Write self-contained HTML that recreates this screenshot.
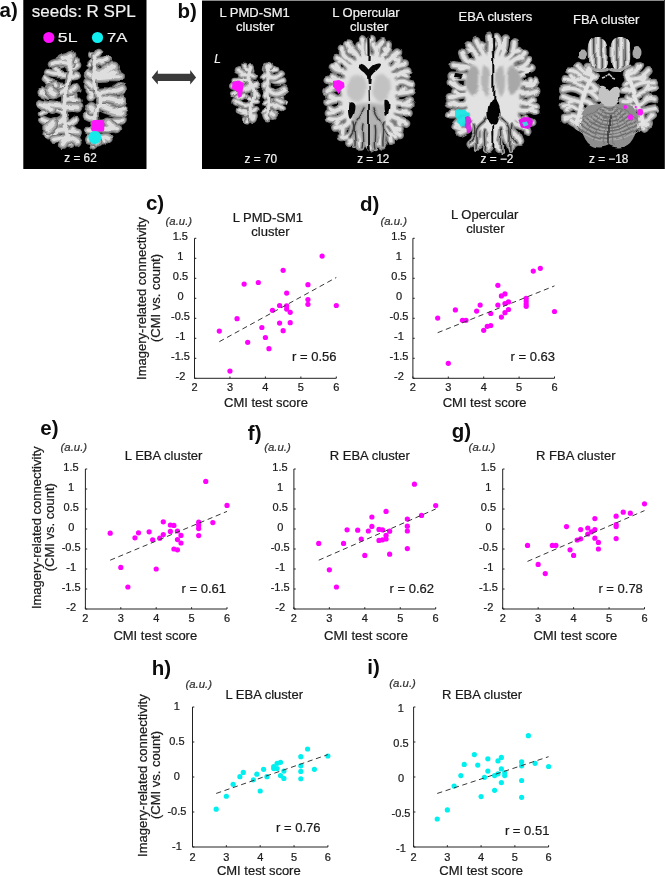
<!DOCTYPE html>
<html><head><meta charset="utf-8"><style>
html,body{margin:0;padding:0;background:#fff;}
body{width:665px;height:876px;overflow:hidden;}
svg{display:block;will-change:transform;}
text{font-family:"Liberation Sans",sans-serif;}
</style></head><body>
<svg width="665" height="876" viewBox="0 0 665 876">
<rect width="665" height="876" fill="#fff"/>
<defs>
<filter id="soft" x="-5%" y="-5%" width="110%" height="110%"><feGaussianBlur stdDeviation="0.6"/></filter>
<filter id="soft2" x="-10%" y="-10%" width="120%" height="120%"><feGaussianBlur stdDeviation="1.0"/></filter>
<filter id="soft3" x="-20%" y="-20%" width="140%" height="140%"><feGaussianBlur stdDeviation="1.8"/></filter>
<filter id="warp" x="-10%" y="-10%" width="120%" height="120%" color-interpolation-filters="sRGB">
 <feTurbulence type="fractalNoise" baseFrequency="0.045" numOctaves="1" seed="4" result="n"/>
 <feDisplacementMap in="SourceGraphic" in2="n" scale="11" xChannelSelector="R" yChannelSelector="G" result="d"/>
 <feGaussianBlur in="d" stdDeviation="0.7"/>
</filter>
<filter id="warp2" x="-10%" y="-10%" width="120%" height="120%" color-interpolation-filters="sRGB">
 <feTurbulence type="fractalNoise" baseFrequency="0.055" numOctaves="1" seed="9" result="n"/>
 <feDisplacementMap in="SourceGraphic" in2="n" scale="7" xChannelSelector="R" yChannelSelector="G" result="d"/>
 <feGaussianBlur in="d" stdDeviation="0.6"/>
</filter>
</defs>
<rect x="23.3" y="0" width="123.2" height="169" fill="#000"/>
<g filter="url(#warp)"><path d="M70.0,58.0 C69.8,60.3 69.7,67.3 69.0,72.0 C68.3,76.7 66.3,81.3 66.0,86.0 C65.7,90.7 67.3,95.3 67.0,100.0 C66.7,104.7 64.2,109.3 64.0,114.0 C63.8,118.7 65.3,123.5 66.0,128.0 C66.7,132.5 67.7,138.8 68.0,141.0" fill="none" stroke="#787878" stroke-width="7.6" stroke-linecap="round"/><path d="M67.0,100.0 C67.8,99.8 70.2,98.7 71.9,99.1 C73.5,99.4 76.1,101.5 76.9,102.0 M71.9,99.1 C72.1,99.0 72.7,98.7 73.0,98.4 C73.4,98.1 73.8,97.4 73.9,97.2 M65.2,122.5 C65.9,122.7 68.1,124.0 69.4,123.7 C70.7,123.5 71.8,122.2 73.0,121.3 C74.2,120.5 76.0,119.0 76.6,118.6 M64.0,114.0 C63.4,113.7 61.5,112.8 60.2,112.3 C58.9,111.8 57.7,111.5 56.4,111.2 C55.1,111.0 53.8,110.9 52.5,110.9 C51.2,110.9 49.9,111.0 48.5,111.3 C47.2,111.6 45.9,112.0 44.5,112.5 C43.2,113.0 41.1,113.8 40.5,114.1 M54.7,105.4 C53.8,105.9 51.0,107.5 49.5,108.2 C47.9,108.9 46.0,109.4 45.3,109.6 M66.0,85.9 C65.4,85.9 63.4,86.2 62.1,86.3 C60.8,86.3 59.6,86.3 58.3,86.1 C57.1,86.0 55.8,85.8 54.6,85.5 C53.4,85.2 52.2,84.7 51.1,84.2 C49.9,83.6 48.8,82.9 47.7,82.2 C46.6,81.4 44.9,80.1 44.4,79.7 M68.2,75.7 C67.5,75.7 65.4,75.6 64.0,75.6 C62.6,75.6 61.2,75.7 59.8,75.6 C58.4,75.6 57.0,75.6 55.6,75.5 C54.3,75.4 52.9,75.2 51.5,74.9 C50.2,74.6 48.3,73.8 47.6,73.6 M59.8,75.6 C59.5,75.1 58.5,73.3 57.9,72.4 C57.3,71.6 56.7,70.8 56.5,70.5 M65.8,62.2 C65.4,62.6 64.1,64.0 63.4,64.6 C62.7,65.2 61.9,65.5 61.5,65.7 M72.6,67.5 C72.8,67.3 73.5,66.8 73.9,66.6 C74.2,66.5 74.6,66.4 74.8,66.4 M66.3,89.9 C67.2,90.2 69.9,91.8 71.7,92.0 C73.4,92.2 76.0,91.0 76.9,90.8" fill="none" stroke="#787878" stroke-width="7.31" stroke-linecap="round" stroke-linejoin="round"/>
<path d="M67.0,100.0 C67.8,99.8 70.2,98.7 71.9,99.1 C73.5,99.4 76.1,101.5 76.9,102.0 M71.9,99.1 C72.1,99.0 72.7,98.7 73.0,98.4 C73.4,98.1 73.8,97.4 73.9,97.2 M65.2,122.5 C65.9,122.7 68.1,124.0 69.4,123.7 C70.7,123.5 71.8,122.2 73.0,121.3 C74.2,120.5 76.0,119.0 76.6,118.6 M64.0,114.0 C63.4,113.7 61.5,112.8 60.2,112.3 C58.9,111.8 57.7,111.5 56.4,111.2 C55.1,111.0 53.8,110.9 52.5,110.9 C51.2,110.9 49.9,111.0 48.5,111.3 C47.2,111.6 45.9,112.0 44.5,112.5 C43.2,113.0 41.1,113.8 40.5,114.1 M54.7,105.4 C53.8,105.9 51.0,107.5 49.5,108.2 C47.9,108.9 46.0,109.4 45.3,109.6 M66.0,85.9 C65.4,85.9 63.4,86.2 62.1,86.3 C60.8,86.3 59.6,86.3 58.3,86.1 C57.1,86.0 55.8,85.8 54.6,85.5 C53.4,85.2 52.2,84.7 51.1,84.2 C49.9,83.6 48.8,82.9 47.7,82.2 C46.6,81.4 44.9,80.1 44.4,79.7 M68.2,75.7 C67.5,75.7 65.4,75.6 64.0,75.6 C62.6,75.6 61.2,75.7 59.8,75.6 C58.4,75.6 57.0,75.6 55.6,75.5 C54.3,75.4 52.9,75.2 51.5,74.9 C50.2,74.6 48.3,73.8 47.6,73.6 M59.8,75.6 C59.5,75.1 58.5,73.3 57.9,72.4 C57.3,71.6 56.7,70.8 56.5,70.5 M65.8,62.2 C65.4,62.6 64.1,64.0 63.4,64.6 C62.7,65.2 61.9,65.5 61.5,65.7 M72.6,67.5 C72.8,67.3 73.5,66.8 73.9,66.6 C74.2,66.5 74.6,66.4 74.8,66.4 M66.3,89.9 C67.2,90.2 69.9,91.8 71.7,92.0 C73.4,92.2 76.0,91.0 76.9,90.8" fill="none" stroke="#ababab" stroke-width="5.263199999999999" stroke-linecap="round" stroke-linejoin="round"/>
<path d="M67.0,100.0 C67.8,99.8 70.2,98.7 71.9,99.1 C73.5,99.4 76.1,101.5 76.9,102.0 M71.9,99.1 C72.1,99.0 72.7,98.7 73.0,98.4 C73.4,98.1 73.8,97.4 73.9,97.2 M65.2,122.5 C65.9,122.7 68.1,124.0 69.4,123.7 C70.7,123.5 71.8,122.2 73.0,121.3 C74.2,120.5 76.0,119.0 76.6,118.6 M64.0,114.0 C63.4,113.7 61.5,112.8 60.2,112.3 C58.9,111.8 57.7,111.5 56.4,111.2 C55.1,111.0 53.8,110.9 52.5,110.9 C51.2,110.9 49.9,111.0 48.5,111.3 C47.2,111.6 45.9,112.0 44.5,112.5 C43.2,113.0 41.1,113.8 40.5,114.1 M54.7,105.4 C53.8,105.9 51.0,107.5 49.5,108.2 C47.9,108.9 46.0,109.4 45.3,109.6 M66.0,85.9 C65.4,85.9 63.4,86.2 62.1,86.3 C60.8,86.3 59.6,86.3 58.3,86.1 C57.1,86.0 55.8,85.8 54.6,85.5 C53.4,85.2 52.2,84.7 51.1,84.2 C49.9,83.6 48.8,82.9 47.7,82.2 C46.6,81.4 44.9,80.1 44.4,79.7 M68.2,75.7 C67.5,75.7 65.4,75.6 64.0,75.6 C62.6,75.6 61.2,75.7 59.8,75.6 C58.4,75.6 57.0,75.6 55.6,75.5 C54.3,75.4 52.9,75.2 51.5,74.9 C50.2,74.6 48.3,73.8 47.6,73.6 M59.8,75.6 C59.5,75.1 58.5,73.3 57.9,72.4 C57.3,71.6 56.7,70.8 56.5,70.5 M65.8,62.2 C65.4,62.6 64.1,64.0 63.4,64.6 C62.7,65.2 61.9,65.5 61.5,65.7 M72.6,67.5 C72.8,67.3 73.5,66.8 73.9,66.6 C74.2,66.5 74.6,66.4 74.8,66.4 M66.3,89.9 C67.2,90.2 69.9,91.8 71.7,92.0 C73.4,92.2 76.0,91.0 76.9,90.8" fill="none" stroke="#dedede" stroke-width="2.8899999999999997" stroke-linecap="round" stroke-linejoin="round"/><path d="M66.8,133.0 C67.6,132.7 69.9,131.5 71.6,131.3 C73.2,131.1 75.8,131.5 76.7,131.6 M71.6,131.3 C71.7,131.1 72.1,130.8 72.4,130.4 C72.6,130.1 72.9,129.3 73.0,129.1 M71.8,139.3 C72.1,139.3 72.8,139.3 73.1,139.0 C73.5,138.7 74.0,137.9 74.2,137.6 M68.0,141.0 C67.8,141.4 66.6,143.0 66.9,143.7 C67.1,144.3 69.0,144.7 69.5,144.9 M66.1,128.6 C65.4,128.7 63.4,128.7 62.1,128.8 C60.7,129.0 59.4,129.0 58.1,129.3 C56.8,129.6 55.5,130.0 54.2,130.5 C53.0,131.0 51.7,131.8 50.5,132.4 C49.2,133.0 47.3,133.8 46.7,134.1 M58.1,129.3 C57.6,129.6 56.2,130.3 55.4,130.9 C54.6,131.6 53.5,132.8 53.1,133.1 M64.7,118.8 C64.1,119.3 62.4,120.9 61.3,121.6 C60.1,122.4 58.9,122.9 57.7,123.3 C56.5,123.8 55.3,124.1 54.0,124.2 C52.8,124.4 51.5,124.4 50.2,124.2 C48.9,124.1 47.6,123.7 46.3,123.3 C45.0,122.8 42.9,121.8 42.2,121.5 M66.2,89.0 C65.7,89.4 64.0,90.8 62.9,91.5 C61.7,92.2 60.6,92.8 59.5,93.3 C58.3,93.7 57.2,94.1 56.0,94.4 C54.9,94.6 53.7,94.8 52.5,94.8 C51.4,94.7 50.2,94.6 49.0,94.2 C47.8,93.9 46.6,93.4 45.3,92.8 C44.1,92.2 42.3,90.9 41.7,90.5 M54.6,85.5 C54.1,85.8 52.6,86.5 51.7,87.1 C50.8,87.6 49.6,88.5 49.2,88.7 M70.0,58.0 C69.3,57.7 67.5,56.3 66.0,56.2 C64.6,56.1 62.2,57.1 61.4,57.2 M70.0,58.0 C70.4,58.0 71.5,57.6 72.3,58.0 C73.0,58.3 74.3,59.8 74.7,60.2 M69.3,67.3 C69.9,67.3 71.5,67.8 72.6,67.5 C73.7,67.1 75.5,65.5 76.1,65.2 M68.1,76.2 C68.8,76.4 70.8,77.3 72.3,77.3 C73.7,77.4 76.1,76.5 76.9,76.4 M72.3,77.3 C72.5,77.2 73.4,76.7 73.8,76.4 C74.3,76.0 74.9,75.4 75.1,75.2" fill="none" stroke="#787878" stroke-width="8.6" stroke-linecap="round" stroke-linejoin="round"/>
<path d="M66.8,133.0 C67.6,132.7 69.9,131.5 71.6,131.3 C73.2,131.1 75.8,131.5 76.7,131.6 M71.6,131.3 C71.7,131.1 72.1,130.8 72.4,130.4 C72.6,130.1 72.9,129.3 73.0,129.1 M71.8,139.3 C72.1,139.3 72.8,139.3 73.1,139.0 C73.5,138.7 74.0,137.9 74.2,137.6 M68.0,141.0 C67.8,141.4 66.6,143.0 66.9,143.7 C67.1,144.3 69.0,144.7 69.5,144.9 M66.1,128.6 C65.4,128.7 63.4,128.7 62.1,128.8 C60.7,129.0 59.4,129.0 58.1,129.3 C56.8,129.6 55.5,130.0 54.2,130.5 C53.0,131.0 51.7,131.8 50.5,132.4 C49.2,133.0 47.3,133.8 46.7,134.1 M58.1,129.3 C57.6,129.6 56.2,130.3 55.4,130.9 C54.6,131.6 53.5,132.8 53.1,133.1 M64.7,118.8 C64.1,119.3 62.4,120.9 61.3,121.6 C60.1,122.4 58.9,122.9 57.7,123.3 C56.5,123.8 55.3,124.1 54.0,124.2 C52.8,124.4 51.5,124.4 50.2,124.2 C48.9,124.1 47.6,123.7 46.3,123.3 C45.0,122.8 42.9,121.8 42.2,121.5 M66.2,89.0 C65.7,89.4 64.0,90.8 62.9,91.5 C61.7,92.2 60.6,92.8 59.5,93.3 C58.3,93.7 57.2,94.1 56.0,94.4 C54.9,94.6 53.7,94.8 52.5,94.8 C51.4,94.7 50.2,94.6 49.0,94.2 C47.8,93.9 46.6,93.4 45.3,92.8 C44.1,92.2 42.3,90.9 41.7,90.5 M54.6,85.5 C54.1,85.8 52.6,86.5 51.7,87.1 C50.8,87.6 49.6,88.5 49.2,88.7 M70.0,58.0 C69.3,57.7 67.5,56.3 66.0,56.2 C64.6,56.1 62.2,57.1 61.4,57.2 M70.0,58.0 C70.4,58.0 71.5,57.6 72.3,58.0 C73.0,58.3 74.3,59.8 74.7,60.2 M69.3,67.3 C69.9,67.3 71.5,67.8 72.6,67.5 C73.7,67.1 75.5,65.5 76.1,65.2 M68.1,76.2 C68.8,76.4 70.8,77.3 72.3,77.3 C73.7,77.4 76.1,76.5 76.9,76.4 M72.3,77.3 C72.5,77.2 73.4,76.7 73.8,76.4 C74.3,76.0 74.9,75.4 75.1,75.2" fill="none" stroke="#ababab" stroke-width="6.191999999999999" stroke-linecap="round" stroke-linejoin="round"/>
<path d="M66.8,133.0 C67.6,132.7 69.9,131.5 71.6,131.3 C73.2,131.1 75.8,131.5 76.7,131.6 M71.6,131.3 C71.7,131.1 72.1,130.8 72.4,130.4 C72.6,130.1 72.9,129.3 73.0,129.1 M71.8,139.3 C72.1,139.3 72.8,139.3 73.1,139.0 C73.5,138.7 74.0,137.9 74.2,137.6 M68.0,141.0 C67.8,141.4 66.6,143.0 66.9,143.7 C67.1,144.3 69.0,144.7 69.5,144.9 M66.1,128.6 C65.4,128.7 63.4,128.7 62.1,128.8 C60.7,129.0 59.4,129.0 58.1,129.3 C56.8,129.6 55.5,130.0 54.2,130.5 C53.0,131.0 51.7,131.8 50.5,132.4 C49.2,133.0 47.3,133.8 46.7,134.1 M58.1,129.3 C57.6,129.6 56.2,130.3 55.4,130.9 C54.6,131.6 53.5,132.8 53.1,133.1 M64.7,118.8 C64.1,119.3 62.4,120.9 61.3,121.6 C60.1,122.4 58.9,122.9 57.7,123.3 C56.5,123.8 55.3,124.1 54.0,124.2 C52.8,124.4 51.5,124.4 50.2,124.2 C48.9,124.1 47.6,123.7 46.3,123.3 C45.0,122.8 42.9,121.8 42.2,121.5 M66.2,89.0 C65.7,89.4 64.0,90.8 62.9,91.5 C61.7,92.2 60.6,92.8 59.5,93.3 C58.3,93.7 57.2,94.1 56.0,94.4 C54.9,94.6 53.7,94.8 52.5,94.8 C51.4,94.7 50.2,94.6 49.0,94.2 C47.8,93.9 46.6,93.4 45.3,92.8 C44.1,92.2 42.3,90.9 41.7,90.5 M54.6,85.5 C54.1,85.8 52.6,86.5 51.7,87.1 C50.8,87.6 49.6,88.5 49.2,88.7 M70.0,58.0 C69.3,57.7 67.5,56.3 66.0,56.2 C64.6,56.1 62.2,57.1 61.4,57.2 M70.0,58.0 C70.4,58.0 71.5,57.6 72.3,58.0 C73.0,58.3 74.3,59.8 74.7,60.2 M69.3,67.3 C69.9,67.3 71.5,67.8 72.6,67.5 C73.7,67.1 75.5,65.5 76.1,65.2 M68.1,76.2 C68.8,76.4 70.8,77.3 72.3,77.3 C73.7,77.4 76.1,76.5 76.9,76.4 M72.3,77.3 C72.5,77.2 73.4,76.7 73.8,76.4 C74.3,76.0 74.9,75.4 75.1,75.2" fill="none" stroke="#dedede" stroke-width="3.4" stroke-linecap="round" stroke-linejoin="round"/><path d="M65.5,107.1 C66.1,107.1 68.1,107.1 69.5,107.1 C70.8,107.1 72.2,106.8 73.5,106.9 C74.8,106.9 76.7,107.3 77.4,107.4 M68.0,141.0 C68.6,140.7 70.6,139.2 71.8,139.3 C73.1,139.4 74.9,141.1 75.5,141.5 M68.0,141.0 C67.5,141.3 65.9,142.0 65.1,142.8 C64.2,143.6 63.3,145.4 62.9,146.0 M65.1,142.8 C64.9,142.8 64.1,143.0 63.8,142.9 C63.4,142.7 63.2,142.1 63.0,141.9 M67.5,137.5 C66.9,137.7 65.2,138.6 64.0,138.8 C62.8,139.0 61.5,138.7 60.2,138.6 C59.0,138.5 57.7,138.2 56.5,138.3 C55.3,138.4 53.5,138.8 52.9,138.9 M54.0,124.2 C53.5,124.8 51.8,126.6 50.8,127.4 C49.8,128.3 48.7,129.0 48.3,129.3 M52.5,110.9 C51.7,110.2 49.1,108.0 47.6,107.1 C46.2,106.1 44.4,105.3 43.7,105.0 M65.5,107.2 C64.9,107.1 63.1,106.8 61.9,106.5 C60.7,106.3 59.5,106.1 58.3,105.9 C57.1,105.7 55.9,105.6 54.7,105.4 C53.5,105.3 52.3,105.1 51.1,105.0 C49.8,104.8 48.6,104.7 47.4,104.5 C46.2,104.3 45.0,104.1 43.8,103.9 C42.6,103.7 40.9,103.3 40.3,103.2 M56.0,94.4 C55.5,94.1 54.0,93.2 53.1,92.5 C52.2,91.8 51.1,90.6 50.7,90.2 M69.6,63.5 C69.0,63.2 67.1,62.4 65.8,62.2 C64.4,62.0 63.1,62.1 61.8,62.3 C60.5,62.5 59.1,63.0 57.8,63.4 C56.4,63.8 54.4,64.6 53.7,64.8 M66.0,56.2 C65.8,56.3 65.2,56.4 64.8,56.5 C64.5,56.6 64.1,56.8 63.9,56.9 M70.0,58.0 C69.6,57.7 67.7,56.9 67.9,56.3 C68.1,55.7 70.8,54.5 71.3,54.2 M71.7,92.0 C72.0,91.8 72.8,91.1 73.3,90.7 C73.8,90.3 74.4,89.6 74.6,89.4" fill="none" stroke="#787878" stroke-width="10.148" stroke-linecap="round" stroke-linejoin="round"/>
<path d="M65.5,107.1 C66.1,107.1 68.1,107.1 69.5,107.1 C70.8,107.1 72.2,106.8 73.5,106.9 C74.8,106.9 76.7,107.3 77.4,107.4 M68.0,141.0 C68.6,140.7 70.6,139.2 71.8,139.3 C73.1,139.4 74.9,141.1 75.5,141.5 M68.0,141.0 C67.5,141.3 65.9,142.0 65.1,142.8 C64.2,143.6 63.3,145.4 62.9,146.0 M65.1,142.8 C64.9,142.8 64.1,143.0 63.8,142.9 C63.4,142.7 63.2,142.1 63.0,141.9 M67.5,137.5 C66.9,137.7 65.2,138.6 64.0,138.8 C62.8,139.0 61.5,138.7 60.2,138.6 C59.0,138.5 57.7,138.2 56.5,138.3 C55.3,138.4 53.5,138.8 52.9,138.9 M54.0,124.2 C53.5,124.8 51.8,126.6 50.8,127.4 C49.8,128.3 48.7,129.0 48.3,129.3 M52.5,110.9 C51.7,110.2 49.1,108.0 47.6,107.1 C46.2,106.1 44.4,105.3 43.7,105.0 M65.5,107.2 C64.9,107.1 63.1,106.8 61.9,106.5 C60.7,106.3 59.5,106.1 58.3,105.9 C57.1,105.7 55.9,105.6 54.7,105.4 C53.5,105.3 52.3,105.1 51.1,105.0 C49.8,104.8 48.6,104.7 47.4,104.5 C46.2,104.3 45.0,104.1 43.8,103.9 C42.6,103.7 40.9,103.3 40.3,103.2 M56.0,94.4 C55.5,94.1 54.0,93.2 53.1,92.5 C52.2,91.8 51.1,90.6 50.7,90.2 M69.6,63.5 C69.0,63.2 67.1,62.4 65.8,62.2 C64.4,62.0 63.1,62.1 61.8,62.3 C60.5,62.5 59.1,63.0 57.8,63.4 C56.4,63.8 54.4,64.6 53.7,64.8 M66.0,56.2 C65.8,56.3 65.2,56.4 64.8,56.5 C64.5,56.6 64.1,56.8 63.9,56.9 M70.0,58.0 C69.6,57.7 67.7,56.9 67.9,56.3 C68.1,55.7 70.8,54.5 71.3,54.2 M71.7,92.0 C72.0,91.8 72.8,91.1 73.3,90.7 C73.8,90.3 74.4,89.6 74.6,89.4" fill="none" stroke="#ababab" stroke-width="7.306559999999998" stroke-linecap="round" stroke-linejoin="round"/>
<path d="M65.5,107.1 C66.1,107.1 68.1,107.1 69.5,107.1 C70.8,107.1 72.2,106.8 73.5,106.9 C74.8,106.9 76.7,107.3 77.4,107.4 M68.0,141.0 C68.6,140.7 70.6,139.2 71.8,139.3 C73.1,139.4 74.9,141.1 75.5,141.5 M68.0,141.0 C67.5,141.3 65.9,142.0 65.1,142.8 C64.2,143.6 63.3,145.4 62.9,146.0 M65.1,142.8 C64.9,142.8 64.1,143.0 63.8,142.9 C63.4,142.7 63.2,142.1 63.0,141.9 M67.5,137.5 C66.9,137.7 65.2,138.6 64.0,138.8 C62.8,139.0 61.5,138.7 60.2,138.6 C59.0,138.5 57.7,138.2 56.5,138.3 C55.3,138.4 53.5,138.8 52.9,138.9 M54.0,124.2 C53.5,124.8 51.8,126.6 50.8,127.4 C49.8,128.3 48.7,129.0 48.3,129.3 M52.5,110.9 C51.7,110.2 49.1,108.0 47.6,107.1 C46.2,106.1 44.4,105.3 43.7,105.0 M65.5,107.2 C64.9,107.1 63.1,106.8 61.9,106.5 C60.7,106.3 59.5,106.1 58.3,105.9 C57.1,105.7 55.9,105.6 54.7,105.4 C53.5,105.3 52.3,105.1 51.1,105.0 C49.8,104.8 48.6,104.7 47.4,104.5 C46.2,104.3 45.0,104.1 43.8,103.9 C42.6,103.7 40.9,103.3 40.3,103.2 M56.0,94.4 C55.5,94.1 54.0,93.2 53.1,92.5 C52.2,91.8 51.1,90.6 50.7,90.2 M69.6,63.5 C69.0,63.2 67.1,62.4 65.8,62.2 C64.4,62.0 63.1,62.1 61.8,62.3 C60.5,62.5 59.1,63.0 57.8,63.4 C56.4,63.8 54.4,64.6 53.7,64.8 M66.0,56.2 C65.8,56.3 65.2,56.4 64.8,56.5 C64.5,56.6 64.1,56.8 63.9,56.9 M70.0,58.0 C69.6,57.7 67.7,56.9 67.9,56.3 C68.1,55.7 70.8,54.5 71.3,54.2 M71.7,92.0 C72.0,91.8 72.8,91.1 73.3,90.7 C73.8,90.3 74.4,89.6 74.6,89.4" fill="none" stroke="#dedede" stroke-width="4.012" stroke-linecap="round" stroke-linejoin="round"/><path d="M70.0,58.0 C69.8,60.3 69.7,67.3 69.0,72.0 C68.3,76.7 66.3,81.3 66.0,86.0 C65.7,90.7 67.3,95.3 67.0,100.0 C66.7,104.7 64.2,109.3 64.0,114.0 C63.8,118.7 65.3,123.5 66.0,128.0 C66.7,132.5 67.7,138.8 68.0,141.0" fill="none" stroke="#dedede" stroke-width="3.6" stroke-linecap="round"/>
<path d="M93.0,56.0 C93.7,58.5 96.5,66.2 97.0,71.0 C97.5,75.8 95.7,80.2 96.0,85.0 C96.3,89.8 99.0,95.2 99.0,100.0 C99.0,104.8 96.3,109.3 96.0,114.0 C95.7,118.7 97.3,123.5 97.0,128.0 C96.7,132.5 94.5,138.8 94.0,141.0" fill="none" stroke="#787878" stroke-width="7.6" stroke-linecap="round"/><path d="M97.1,108.7 C96.3,108.8 93.7,109.9 92.2,109.7 C90.7,109.5 88.7,107.8 88.0,107.4 M96.8,74.1 C96.1,74.2 94.0,74.5 92.6,74.8 C91.2,75.1 89.2,75.6 88.5,75.8 M94.2,60.6 C93.8,60.6 92.4,60.5 91.7,61.1 C91.0,61.8 90.3,63.9 90.0,64.4 M93.0,56.0 C92.8,55.8 92.6,55.0 92.0,54.8 C91.4,54.6 90.0,54.7 89.6,54.7 M101.6,72.8 C102.2,73.0 104.1,73.8 105.2,74.3 C106.3,74.7 107.6,75.2 108.1,75.4" fill="none" stroke="#787878" stroke-width="7.31" stroke-linecap="round" stroke-linejoin="round"/>
<path d="M97.1,108.7 C96.3,108.8 93.7,109.9 92.2,109.7 C90.7,109.5 88.7,107.8 88.0,107.4 M96.8,74.1 C96.1,74.2 94.0,74.5 92.6,74.8 C91.2,75.1 89.2,75.6 88.5,75.8 M94.2,60.6 C93.8,60.6 92.4,60.5 91.7,61.1 C91.0,61.8 90.3,63.9 90.0,64.4 M93.0,56.0 C92.8,55.8 92.6,55.0 92.0,54.8 C91.4,54.6 90.0,54.7 89.6,54.7 M101.6,72.8 C102.2,73.0 104.1,73.8 105.2,74.3 C106.3,74.7 107.6,75.2 108.1,75.4" fill="none" stroke="#ababab" stroke-width="5.263199999999999" stroke-linecap="round" stroke-linejoin="round"/>
<path d="M97.1,108.7 C96.3,108.8 93.7,109.9 92.2,109.7 C90.7,109.5 88.7,107.8 88.0,107.4 M96.8,74.1 C96.1,74.2 94.0,74.5 92.6,74.8 C91.2,75.1 89.2,75.6 88.5,75.8 M94.2,60.6 C93.8,60.6 92.4,60.5 91.7,61.1 C91.0,61.8 90.3,63.9 90.0,64.4 M93.0,56.0 C92.8,55.8 92.6,55.0 92.0,54.8 C91.4,54.6 90.0,54.7 89.6,54.7 M101.6,72.8 C102.2,73.0 104.1,73.8 105.2,74.3 C106.3,74.7 107.6,75.2 108.1,75.4" fill="none" stroke="#dedede" stroke-width="2.8899999999999997" stroke-linecap="round" stroke-linejoin="round"/><path d="M98.1,104.4 C98.7,104.7 100.6,105.6 101.9,106.2 C103.1,106.8 104.4,107.4 105.6,108.0 C106.9,108.6 108.2,109.1 109.5,109.6 C110.7,110.1 112.0,110.6 113.4,110.9 C114.7,111.3 116.0,111.6 117.3,111.8 C118.7,112.0 120.8,112.0 121.5,112.1 M113.4,110.9 C114.3,110.6 117.2,109.3 118.8,108.7 C120.5,108.2 122.6,107.7 123.3,107.5 M96.6,122.7 C97.3,122.6 99.3,122.2 100.6,122.0 C101.9,121.8 103.2,121.6 104.6,121.4 C105.9,121.1 107.2,120.9 108.5,120.6 C109.8,120.4 111.2,120.2 112.5,120.0 C113.8,119.8 115.1,119.7 116.5,119.6 C117.8,119.5 119.8,119.4 120.5,119.4 M95.2,135.8 C95.8,136.1 97.4,137.6 98.7,137.9 C99.9,138.2 101.4,137.8 102.7,137.6 C104.1,137.5 105.5,136.9 106.8,137.1 C108.1,137.3 109.8,138.5 110.4,138.8 M102.7,137.6 C103.0,137.9 104.0,138.6 104.5,139.2 C105.0,139.8 105.6,140.9 105.8,141.3 M94.0,141.0 C94.7,141.0 97.1,140.5 98.4,140.8 C99.7,141.2 101.1,142.7 101.7,143.0 M94.0,141.0 C94.2,141.4 95.0,142.7 95.2,143.4 C95.3,144.2 94.8,145.1 94.7,145.4 M96.4,130.6 C95.7,130.6 93.4,130.9 92.0,130.8 C90.6,130.7 88.6,130.1 87.9,130.0 M96.2,116.5 C95.5,116.5 93.5,117.1 92.1,116.8 C90.8,116.5 88.7,115.0 88.0,114.7 M97.6,93.0 C96.7,92.8 94.0,91.4 92.5,92.1 C91.0,92.8 89.3,96.4 88.7,97.3 M92.5,92.1 C92.2,91.9 91.0,91.4 90.3,91.1 C89.7,90.8 89.0,90.4 88.7,90.3 M96.0,85.0 C95.4,85.1 93.4,85.0 92.1,85.4 C90.8,85.7 88.8,86.8 88.1,87.1 M93.0,56.0 C93.4,55.6 94.4,54.6 95.1,53.8 C95.8,52.9 96.7,51.5 97.0,51.1 M94.7,62.5 C95.4,62.2 97.3,61.2 98.7,60.9 C100.1,60.6 101.6,61.0 103.0,60.6 C104.3,60.3 106.2,59.0 106.8,58.6 M98.7,60.9 C99.1,61.1 100.4,61.6 101.1,61.9 C101.9,62.1 102.9,62.5 103.3,62.7 M113.2,91.8 C113.8,91.2 115.8,89.4 116.8,88.4 C117.9,87.5 119.3,86.6 119.8,86.2" fill="none" stroke="#787878" stroke-width="8.6" stroke-linecap="round" stroke-linejoin="round"/>
<path d="M98.1,104.4 C98.7,104.7 100.6,105.6 101.9,106.2 C103.1,106.8 104.4,107.4 105.6,108.0 C106.9,108.6 108.2,109.1 109.5,109.6 C110.7,110.1 112.0,110.6 113.4,110.9 C114.7,111.3 116.0,111.6 117.3,111.8 C118.7,112.0 120.8,112.0 121.5,112.1 M113.4,110.9 C114.3,110.6 117.2,109.3 118.8,108.7 C120.5,108.2 122.6,107.7 123.3,107.5 M96.6,122.7 C97.3,122.6 99.3,122.2 100.6,122.0 C101.9,121.8 103.2,121.6 104.6,121.4 C105.9,121.1 107.2,120.9 108.5,120.6 C109.8,120.4 111.2,120.2 112.5,120.0 C113.8,119.8 115.1,119.7 116.5,119.6 C117.8,119.5 119.8,119.4 120.5,119.4 M95.2,135.8 C95.8,136.1 97.4,137.6 98.7,137.9 C99.9,138.2 101.4,137.8 102.7,137.6 C104.1,137.5 105.5,136.9 106.8,137.1 C108.1,137.3 109.8,138.5 110.4,138.8 M102.7,137.6 C103.0,137.9 104.0,138.6 104.5,139.2 C105.0,139.8 105.6,140.9 105.8,141.3 M94.0,141.0 C94.7,141.0 97.1,140.5 98.4,140.8 C99.7,141.2 101.1,142.7 101.7,143.0 M94.0,141.0 C94.2,141.4 95.0,142.7 95.2,143.4 C95.3,144.2 94.8,145.1 94.7,145.4 M96.4,130.6 C95.7,130.6 93.4,130.9 92.0,130.8 C90.6,130.7 88.6,130.1 87.9,130.0 M96.2,116.5 C95.5,116.5 93.5,117.1 92.1,116.8 C90.8,116.5 88.7,115.0 88.0,114.7 M97.6,93.0 C96.7,92.8 94.0,91.4 92.5,92.1 C91.0,92.8 89.3,96.4 88.7,97.3 M92.5,92.1 C92.2,91.9 91.0,91.4 90.3,91.1 C89.7,90.8 89.0,90.4 88.7,90.3 M96.0,85.0 C95.4,85.1 93.4,85.0 92.1,85.4 C90.8,85.7 88.8,86.8 88.1,87.1 M93.0,56.0 C93.4,55.6 94.4,54.6 95.1,53.8 C95.8,52.9 96.7,51.5 97.0,51.1 M94.7,62.5 C95.4,62.2 97.3,61.2 98.7,60.9 C100.1,60.6 101.6,61.0 103.0,60.6 C104.3,60.3 106.2,59.0 106.8,58.6 M98.7,60.9 C99.1,61.1 100.4,61.6 101.1,61.9 C101.9,62.1 102.9,62.5 103.3,62.7 M113.2,91.8 C113.8,91.2 115.8,89.4 116.8,88.4 C117.9,87.5 119.3,86.6 119.8,86.2" fill="none" stroke="#ababab" stroke-width="6.191999999999999" stroke-linecap="round" stroke-linejoin="round"/>
<path d="M98.1,104.4 C98.7,104.7 100.6,105.6 101.9,106.2 C103.1,106.8 104.4,107.4 105.6,108.0 C106.9,108.6 108.2,109.1 109.5,109.6 C110.7,110.1 112.0,110.6 113.4,110.9 C114.7,111.3 116.0,111.6 117.3,111.8 C118.7,112.0 120.8,112.0 121.5,112.1 M113.4,110.9 C114.3,110.6 117.2,109.3 118.8,108.7 C120.5,108.2 122.6,107.7 123.3,107.5 M96.6,122.7 C97.3,122.6 99.3,122.2 100.6,122.0 C101.9,121.8 103.2,121.6 104.6,121.4 C105.9,121.1 107.2,120.9 108.5,120.6 C109.8,120.4 111.2,120.2 112.5,120.0 C113.8,119.8 115.1,119.7 116.5,119.6 C117.8,119.5 119.8,119.4 120.5,119.4 M95.2,135.8 C95.8,136.1 97.4,137.6 98.7,137.9 C99.9,138.2 101.4,137.8 102.7,137.6 C104.1,137.5 105.5,136.9 106.8,137.1 C108.1,137.3 109.8,138.5 110.4,138.8 M102.7,137.6 C103.0,137.9 104.0,138.6 104.5,139.2 C105.0,139.8 105.6,140.9 105.8,141.3 M94.0,141.0 C94.7,141.0 97.1,140.5 98.4,140.8 C99.7,141.2 101.1,142.7 101.7,143.0 M94.0,141.0 C94.2,141.4 95.0,142.7 95.2,143.4 C95.3,144.2 94.8,145.1 94.7,145.4 M96.4,130.6 C95.7,130.6 93.4,130.9 92.0,130.8 C90.6,130.7 88.6,130.1 87.9,130.0 M96.2,116.5 C95.5,116.5 93.5,117.1 92.1,116.8 C90.8,116.5 88.7,115.0 88.0,114.7 M97.6,93.0 C96.7,92.8 94.0,91.4 92.5,92.1 C91.0,92.8 89.3,96.4 88.7,97.3 M92.5,92.1 C92.2,91.9 91.0,91.4 90.3,91.1 C89.7,90.8 89.0,90.4 88.7,90.3 M96.0,85.0 C95.4,85.1 93.4,85.0 92.1,85.4 C90.8,85.7 88.8,86.8 88.1,87.1 M93.0,56.0 C93.4,55.6 94.4,54.6 95.1,53.8 C95.8,52.9 96.7,51.5 97.0,51.1 M94.7,62.5 C95.4,62.2 97.3,61.2 98.7,60.9 C100.1,60.6 101.6,61.0 103.0,60.6 C104.3,60.3 106.2,59.0 106.8,58.6 M98.7,60.9 C99.1,61.1 100.4,61.6 101.1,61.9 C101.9,62.1 102.9,62.5 103.3,62.7 M113.2,91.8 C113.8,91.2 115.8,89.4 116.8,88.4 C117.9,87.5 119.3,86.6 119.8,86.2" fill="none" stroke="#dedede" stroke-width="3.4" stroke-linecap="round" stroke-linejoin="round"/><path d="M99.0,100.0 C99.6,100.0 101.5,99.7 102.8,99.7 C104.1,99.8 105.3,100.1 106.6,100.3 C107.9,100.6 109.2,101.0 110.5,101.3 C111.8,101.6 113.0,102.0 114.3,102.0 C115.6,102.1 116.8,102.1 118.1,101.8 C119.4,101.5 121.2,100.4 121.8,100.1 M108.5,120.6 C109.0,121.1 110.4,122.6 111.2,123.3 C112.0,124.1 113.1,124.9 113.5,125.2 M97.0,128.0 C97.7,127.9 99.7,127.7 101.1,127.7 C102.4,127.7 103.8,128.0 105.1,128.0 C106.4,128.1 107.8,128.0 109.2,127.9 C110.5,127.9 111.9,127.5 113.3,127.5 C114.6,127.6 116.6,128.1 117.2,128.2 M105.1,128.0 C105.8,127.7 107.9,126.6 109.2,125.9 C110.5,125.3 112.1,124.4 112.7,124.1 M98.4,140.8 C98.5,141.0 98.9,141.7 99.0,142.0 C99.2,142.3 99.3,142.5 99.4,142.6 M94.0,140.8 C93.7,140.3 92.8,138.4 92.0,138.1 C91.1,137.7 89.6,138.5 89.1,138.6 M92.2,109.7 C92.0,109.4 91.2,108.4 90.8,108.0 C90.3,107.5 89.7,107.3 89.5,107.1 M92.1,85.4 C91.8,85.1 91.0,84.0 90.5,83.7 C90.1,83.3 89.5,83.4 89.3,83.3 M92.6,74.8 C92.4,74.6 91.7,73.9 91.3,73.6 C90.9,73.3 90.3,73.1 90.1,73.0 M97.0,71.0 C97.8,71.3 100.1,72.6 101.6,72.8 C103.0,73.0 104.4,72.6 105.6,71.9 C106.9,71.2 108.1,69.7 109.3,68.7 C110.5,67.6 112.3,66.1 112.9,65.6 M96.7,75.9 C97.2,75.9 99.0,76.0 100.2,76.0 C101.4,76.0 102.5,75.9 103.7,75.9 C104.9,75.8 106.1,75.7 107.3,75.6 C108.5,75.5 109.6,75.3 110.8,75.3 C112.0,75.2 113.2,75.1 114.4,75.1 C115.5,75.1 117.3,75.2 117.9,75.2 M107.3,75.6 C107.9,75.1 110.0,73.5 111.2,72.8 C112.4,72.0 113.9,71.3 114.4,71.0 M97.6,93.1 C98.2,92.9 100.1,92.0 101.3,91.8 C102.6,91.5 103.9,91.4 105.2,91.4 C106.5,91.4 107.9,91.5 109.2,91.6 C110.6,91.6 111.9,91.8 113.2,91.8 C114.6,91.7 115.9,91.7 117.1,91.3 C118.4,91.0 120.2,90.1 120.8,89.8" fill="none" stroke="#787878" stroke-width="10.148" stroke-linecap="round" stroke-linejoin="round"/>
<path d="M99.0,100.0 C99.6,100.0 101.5,99.7 102.8,99.7 C104.1,99.8 105.3,100.1 106.6,100.3 C107.9,100.6 109.2,101.0 110.5,101.3 C111.8,101.6 113.0,102.0 114.3,102.0 C115.6,102.1 116.8,102.1 118.1,101.8 C119.4,101.5 121.2,100.4 121.8,100.1 M108.5,120.6 C109.0,121.1 110.4,122.6 111.2,123.3 C112.0,124.1 113.1,124.9 113.5,125.2 M97.0,128.0 C97.7,127.9 99.7,127.7 101.1,127.7 C102.4,127.7 103.8,128.0 105.1,128.0 C106.4,128.1 107.8,128.0 109.2,127.9 C110.5,127.9 111.9,127.5 113.3,127.5 C114.6,127.6 116.6,128.1 117.2,128.2 M105.1,128.0 C105.8,127.7 107.9,126.6 109.2,125.9 C110.5,125.3 112.1,124.4 112.7,124.1 M98.4,140.8 C98.5,141.0 98.9,141.7 99.0,142.0 C99.2,142.3 99.3,142.5 99.4,142.6 M94.0,140.8 C93.7,140.3 92.8,138.4 92.0,138.1 C91.1,137.7 89.6,138.5 89.1,138.6 M92.2,109.7 C92.0,109.4 91.2,108.4 90.8,108.0 C90.3,107.5 89.7,107.3 89.5,107.1 M92.1,85.4 C91.8,85.1 91.0,84.0 90.5,83.7 C90.1,83.3 89.5,83.4 89.3,83.3 M92.6,74.8 C92.4,74.6 91.7,73.9 91.3,73.6 C90.9,73.3 90.3,73.1 90.1,73.0 M97.0,71.0 C97.8,71.3 100.1,72.6 101.6,72.8 C103.0,73.0 104.4,72.6 105.6,71.9 C106.9,71.2 108.1,69.7 109.3,68.7 C110.5,67.6 112.3,66.1 112.9,65.6 M96.7,75.9 C97.2,75.9 99.0,76.0 100.2,76.0 C101.4,76.0 102.5,75.9 103.7,75.9 C104.9,75.8 106.1,75.7 107.3,75.6 C108.5,75.5 109.6,75.3 110.8,75.3 C112.0,75.2 113.2,75.1 114.4,75.1 C115.5,75.1 117.3,75.2 117.9,75.2 M107.3,75.6 C107.9,75.1 110.0,73.5 111.2,72.8 C112.4,72.0 113.9,71.3 114.4,71.0 M97.6,93.1 C98.2,92.9 100.1,92.0 101.3,91.8 C102.6,91.5 103.9,91.4 105.2,91.4 C106.5,91.4 107.9,91.5 109.2,91.6 C110.6,91.6 111.9,91.8 113.2,91.8 C114.6,91.7 115.9,91.7 117.1,91.3 C118.4,91.0 120.2,90.1 120.8,89.8" fill="none" stroke="#ababab" stroke-width="7.306559999999998" stroke-linecap="round" stroke-linejoin="round"/>
<path d="M99.0,100.0 C99.6,100.0 101.5,99.7 102.8,99.7 C104.1,99.8 105.3,100.1 106.6,100.3 C107.9,100.6 109.2,101.0 110.5,101.3 C111.8,101.6 113.0,102.0 114.3,102.0 C115.6,102.1 116.8,102.1 118.1,101.8 C119.4,101.5 121.2,100.4 121.8,100.1 M108.5,120.6 C109.0,121.1 110.4,122.6 111.2,123.3 C112.0,124.1 113.1,124.9 113.5,125.2 M97.0,128.0 C97.7,127.9 99.7,127.7 101.1,127.7 C102.4,127.7 103.8,128.0 105.1,128.0 C106.4,128.1 107.8,128.0 109.2,127.9 C110.5,127.9 111.9,127.5 113.3,127.5 C114.6,127.6 116.6,128.1 117.2,128.2 M105.1,128.0 C105.8,127.7 107.9,126.6 109.2,125.9 C110.5,125.3 112.1,124.4 112.7,124.1 M98.4,140.8 C98.5,141.0 98.9,141.7 99.0,142.0 C99.2,142.3 99.3,142.5 99.4,142.6 M94.0,140.8 C93.7,140.3 92.8,138.4 92.0,138.1 C91.1,137.7 89.6,138.5 89.1,138.6 M92.2,109.7 C92.0,109.4 91.2,108.4 90.8,108.0 C90.3,107.5 89.7,107.3 89.5,107.1 M92.1,85.4 C91.8,85.1 91.0,84.0 90.5,83.7 C90.1,83.3 89.5,83.4 89.3,83.3 M92.6,74.8 C92.4,74.6 91.7,73.9 91.3,73.6 C90.9,73.3 90.3,73.1 90.1,73.0 M97.0,71.0 C97.8,71.3 100.1,72.6 101.6,72.8 C103.0,73.0 104.4,72.6 105.6,71.9 C106.9,71.2 108.1,69.7 109.3,68.7 C110.5,67.6 112.3,66.1 112.9,65.6 M96.7,75.9 C97.2,75.9 99.0,76.0 100.2,76.0 C101.4,76.0 102.5,75.9 103.7,75.9 C104.9,75.8 106.1,75.7 107.3,75.6 C108.5,75.5 109.6,75.3 110.8,75.3 C112.0,75.2 113.2,75.1 114.4,75.1 C115.5,75.1 117.3,75.2 117.9,75.2 M107.3,75.6 C107.9,75.1 110.0,73.5 111.2,72.8 C112.4,72.0 113.9,71.3 114.4,71.0 M97.6,93.1 C98.2,92.9 100.1,92.0 101.3,91.8 C102.6,91.5 103.9,91.4 105.2,91.4 C106.5,91.4 107.9,91.5 109.2,91.6 C110.6,91.6 111.9,91.8 113.2,91.8 C114.6,91.7 115.9,91.7 117.1,91.3 C118.4,91.0 120.2,90.1 120.8,89.8" fill="none" stroke="#dedede" stroke-width="4.012" stroke-linecap="round" stroke-linejoin="round"/><path d="M93.0,56.0 C93.7,58.5 96.5,66.2 97.0,71.0 C97.5,75.8 95.7,80.2 96.0,85.0 C96.3,89.8 99.0,95.2 99.0,100.0 C99.0,104.8 96.3,109.3 96.0,114.0 C95.7,118.7 97.3,123.5 97.0,128.0 C96.7,132.5 94.5,138.8 94.0,141.0" fill="none" stroke="#dedede" stroke-width="3.6" stroke-linecap="round"/></g>
<rect x="91.8" y="119.9" width="12.5" height="11.7" rx="2.5" fill="#ff14ff" filter="url(#soft)"/>
<circle cx="94.9" cy="137.4" r="6.5" fill="#14eaea" filter="url(#soft)"/>
<circle cx="48.8" cy="37.5" r="5.6" fill="#ff10ff"/>
<circle cx="97.5" cy="37.5" r="5.6" fill="#10f0f0"/>
<path d="M151.7 77.4 L157.8 70 L157.8 73.8 L190.2 73.8 L190.2 70 L196.1 77.4 L190.2 84.6 L190.2 80.9 L157.8 80.9 L157.8 84.6 Z" fill="#3a3a3a"/>
<rect x="202" y="0" width="463" height="169" fill="#000"/>
<rect x="202" y="0" width="463" height="1" fill="#8c8c8c"/>
<rect x="664" y="0" width="1" height="169" fill="#333"/>
<g filter="url(#warp)"><path d="M252.0,67.0 C251.7,69.2 250.0,75.8 250.0,80.0 C250.0,84.2 252.0,88.0 252.0,92.0 C252.0,96.0 250.0,99.8 250.0,104.0 C250.0,108.2 251.7,114.8 252.0,117.0" fill="none" stroke="#787878" stroke-width="7.0" stroke-linecap="round"/><path d="M250.9,98.5 C251.3,98.7 252.3,99.4 253.0,99.5 C253.8,99.6 255.0,99.4 255.3,99.3 M251.8,115.9 C251.2,116.0 249.5,116.5 248.3,116.8 C247.1,117.1 245.3,117.5 244.7,117.6 M250.9,109.5 C250.2,109.9 248.4,111.6 247.1,112.0 C245.8,112.3 244.4,112.2 243.0,111.8 C241.6,111.5 239.3,110.1 238.6,109.8 M247.1,112.0 C246.8,111.7 245.7,110.9 245.1,110.6 C244.4,110.3 243.6,110.3 243.3,110.2 M250.8,99.2 C250.2,98.9 248.2,98.2 246.9,97.5 C245.7,96.8 244.5,95.8 243.2,95.3 C241.9,94.7 240.6,94.0 239.2,94.1 C237.8,94.2 235.5,95.5 234.8,95.7 M250.0,80.0 C249.2,80.0 246.9,79.8 245.4,80.0 C243.9,80.2 242.4,81.2 240.8,81.4 C239.3,81.7 237.0,81.6 236.2,81.6 M245.4,80.0 C245.1,80.4 244.1,81.6 243.6,82.4 C243.0,83.1 242.3,83.9 242.0,84.2 M248.0,68.7 C247.8,68.8 247.0,69.1 246.6,69.3 C246.1,69.5 245.6,70.0 245.4,70.2 M252.0,67.0 C252.2,67.0 252.6,66.6 252.9,67.0 C253.2,67.3 253.6,68.6 253.7,69.0" fill="none" stroke="#787878" stroke-width="5.609999999999999" stroke-linecap="round" stroke-linejoin="round"/>
<path d="M250.9,98.5 C251.3,98.7 252.3,99.4 253.0,99.5 C253.8,99.6 255.0,99.4 255.3,99.3 M251.8,115.9 C251.2,116.0 249.5,116.5 248.3,116.8 C247.1,117.1 245.3,117.5 244.7,117.6 M250.9,109.5 C250.2,109.9 248.4,111.6 247.1,112.0 C245.8,112.3 244.4,112.2 243.0,111.8 C241.6,111.5 239.3,110.1 238.6,109.8 M247.1,112.0 C246.8,111.7 245.7,110.9 245.1,110.6 C244.4,110.3 243.6,110.3 243.3,110.2 M250.8,99.2 C250.2,98.9 248.2,98.2 246.9,97.5 C245.7,96.8 244.5,95.8 243.2,95.3 C241.9,94.7 240.6,94.0 239.2,94.1 C237.8,94.2 235.5,95.5 234.8,95.7 M250.0,80.0 C249.2,80.0 246.9,79.8 245.4,80.0 C243.9,80.2 242.4,81.2 240.8,81.4 C239.3,81.7 237.0,81.6 236.2,81.6 M245.4,80.0 C245.1,80.4 244.1,81.6 243.6,82.4 C243.0,83.1 242.3,83.9 242.0,84.2 M248.0,68.7 C247.8,68.8 247.0,69.1 246.6,69.3 C246.1,69.5 245.6,70.0 245.4,70.2 M252.0,67.0 C252.2,67.0 252.6,66.6 252.9,67.0 C253.2,67.3 253.6,68.6 253.7,69.0" fill="none" stroke="#ababab" stroke-width="4.0392" stroke-linecap="round" stroke-linejoin="round"/>
<path d="M250.9,98.5 C251.3,98.7 252.3,99.4 253.0,99.5 C253.8,99.6 255.0,99.4 255.3,99.3 M251.8,115.9 C251.2,116.0 249.5,116.5 248.3,116.8 C247.1,117.1 245.3,117.5 244.7,117.6 M250.9,109.5 C250.2,109.9 248.4,111.6 247.1,112.0 C245.8,112.3 244.4,112.2 243.0,111.8 C241.6,111.5 239.3,110.1 238.6,109.8 M247.1,112.0 C246.8,111.7 245.7,110.9 245.1,110.6 C244.4,110.3 243.6,110.3 243.3,110.2 M250.8,99.2 C250.2,98.9 248.2,98.2 246.9,97.5 C245.7,96.8 244.5,95.8 243.2,95.3 C241.9,94.7 240.6,94.0 239.2,94.1 C237.8,94.2 235.5,95.5 234.8,95.7 M250.0,80.0 C249.2,80.0 246.9,79.8 245.4,80.0 C243.9,80.2 242.4,81.2 240.8,81.4 C239.3,81.7 237.0,81.6 236.2,81.6 M245.4,80.0 C245.1,80.4 244.1,81.6 243.6,82.4 C243.0,83.1 242.3,83.9 242.0,84.2 M248.0,68.7 C247.8,68.8 247.0,69.1 246.6,69.3 C246.1,69.5 245.6,70.0 245.4,70.2 M252.0,67.0 C252.2,67.0 252.6,66.6 252.9,67.0 C253.2,67.3 253.6,68.6 253.7,69.0" fill="none" stroke="#dedede" stroke-width="2.21" stroke-linecap="round" stroke-linejoin="round"/><path d="M252.0,92.0 C252.3,91.9 253.0,91.2 253.6,91.5 C254.2,91.8 255.2,93.3 255.5,93.7 M250.7,108.8 C251.1,108.9 252.4,109.5 253.1,109.2 C253.8,109.0 254.8,107.7 255.1,107.4 M252.0,117.0 C251.9,117.0 251.3,116.8 251.4,117.1 C251.6,117.4 252.8,118.5 253.0,118.7 M248.3,116.8 C248.2,117.0 247.8,117.4 247.6,117.8 C247.4,118.2 247.0,119.0 246.9,119.2 M250.0,104.0 C249.4,104.2 247.6,105.2 246.5,105.4 C245.3,105.7 244.1,105.6 242.9,105.3 C241.7,105.1 240.5,104.6 239.3,104.1 C238.1,103.5 236.3,102.5 235.7,102.2 M243.2,95.3 C242.7,95.6 241.2,96.7 240.4,97.2 C239.5,97.7 238.5,98.2 238.1,98.4 M251.9,67.9 C251.2,68.0 249.2,69.1 248.0,68.7 C246.8,68.4 245.2,66.4 244.7,65.9 M252.0,67.0 C252.1,66.7 252.9,65.8 252.8,65.5 C252.7,65.2 251.6,65.3 251.4,65.3" fill="none" stroke="#787878" stroke-width="6.6" stroke-linecap="round" stroke-linejoin="round"/>
<path d="M252.0,92.0 C252.3,91.9 253.0,91.2 253.6,91.5 C254.2,91.8 255.2,93.3 255.5,93.7 M250.7,108.8 C251.1,108.9 252.4,109.5 253.1,109.2 C253.8,109.0 254.8,107.7 255.1,107.4 M252.0,117.0 C251.9,117.0 251.3,116.8 251.4,117.1 C251.6,117.4 252.8,118.5 253.0,118.7 M248.3,116.8 C248.2,117.0 247.8,117.4 247.6,117.8 C247.4,118.2 247.0,119.0 246.9,119.2 M250.0,104.0 C249.4,104.2 247.6,105.2 246.5,105.4 C245.3,105.7 244.1,105.6 242.9,105.3 C241.7,105.1 240.5,104.6 239.3,104.1 C238.1,103.5 236.3,102.5 235.7,102.2 M243.2,95.3 C242.7,95.6 241.2,96.7 240.4,97.2 C239.5,97.7 238.5,98.2 238.1,98.4 M251.9,67.9 C251.2,68.0 249.2,69.1 248.0,68.7 C246.8,68.4 245.2,66.4 244.7,65.9 M252.0,67.0 C252.1,66.7 252.9,65.8 252.8,65.5 C252.7,65.2 251.6,65.3 251.4,65.3" fill="none" stroke="#ababab" stroke-width="4.752" stroke-linecap="round" stroke-linejoin="round"/>
<path d="M252.0,92.0 C252.3,91.9 253.0,91.2 253.6,91.5 C254.2,91.8 255.2,93.3 255.5,93.7 M250.7,108.8 C251.1,108.9 252.4,109.5 253.1,109.2 C253.8,109.0 254.8,107.7 255.1,107.4 M252.0,117.0 C251.9,117.0 251.3,116.8 251.4,117.1 C251.6,117.4 252.8,118.5 253.0,118.7 M248.3,116.8 C248.2,117.0 247.8,117.4 247.6,117.8 C247.4,118.2 247.0,119.0 246.9,119.2 M250.0,104.0 C249.4,104.2 247.6,105.2 246.5,105.4 C245.3,105.7 244.1,105.6 242.9,105.3 C241.7,105.1 240.5,104.6 239.3,104.1 C238.1,103.5 236.3,102.5 235.7,102.2 M243.2,95.3 C242.7,95.6 241.2,96.7 240.4,97.2 C239.5,97.7 238.5,98.2 238.1,98.4 M251.9,67.9 C251.2,68.0 249.2,69.1 248.0,68.7 C246.8,68.4 245.2,66.4 244.7,65.9 M252.0,67.0 C252.1,66.7 252.9,65.8 252.8,65.5 C252.7,65.2 251.6,65.3 251.4,65.3" fill="none" stroke="#dedede" stroke-width="2.6" stroke-linecap="round" stroke-linejoin="round"/><path d="M251.9,116.5 C252.1,116.6 252.8,117.4 253.2,117.0 C253.5,116.6 253.8,114.6 253.9,114.1 M250.8,85.0 C250.2,85.5 248.4,86.9 247.2,87.6 C245.9,88.3 244.7,89.0 243.3,89.3 C242.0,89.6 240.7,89.7 239.3,89.5 C237.8,89.2 235.6,88.1 234.9,87.8 M250.8,74.6 C250.2,74.6 248.2,74.8 246.9,74.5 C245.6,74.2 244.4,73.6 243.2,73.0 C242.0,72.4 240.2,71.3 239.6,71.0 M246.9,74.5 C246.6,74.5 245.7,74.5 245.2,74.7 C244.7,74.9 244.1,75.6 243.8,75.8 M250.9,74.3 C251.2,74.1 252.4,73.5 253.1,73.6 C253.8,73.7 254.7,74.5 255.0,74.7 M250.7,84.5 C251.1,84.5 252.3,84.6 253.1,84.5 C253.8,84.4 254.9,83.9 255.3,83.8" fill="none" stroke="#787878" stroke-width="7.787999999999999" stroke-linecap="round" stroke-linejoin="round"/>
<path d="M251.9,116.5 C252.1,116.6 252.8,117.4 253.2,117.0 C253.5,116.6 253.8,114.6 253.9,114.1 M250.8,85.0 C250.2,85.5 248.4,86.9 247.2,87.6 C245.9,88.3 244.7,89.0 243.3,89.3 C242.0,89.6 240.7,89.7 239.3,89.5 C237.8,89.2 235.6,88.1 234.9,87.8 M250.8,74.6 C250.2,74.6 248.2,74.8 246.9,74.5 C245.6,74.2 244.4,73.6 243.2,73.0 C242.0,72.4 240.2,71.3 239.6,71.0 M246.9,74.5 C246.6,74.5 245.7,74.5 245.2,74.7 C244.7,74.9 244.1,75.6 243.8,75.8 M250.9,74.3 C251.2,74.1 252.4,73.5 253.1,73.6 C253.8,73.7 254.7,74.5 255.0,74.7 M250.7,84.5 C251.1,84.5 252.3,84.6 253.1,84.5 C253.8,84.4 254.9,83.9 255.3,83.8" fill="none" stroke="#ababab" stroke-width="5.607359999999999" stroke-linecap="round" stroke-linejoin="round"/>
<path d="M251.9,116.5 C252.1,116.6 252.8,117.4 253.2,117.0 C253.5,116.6 253.8,114.6 253.9,114.1 M250.8,85.0 C250.2,85.5 248.4,86.9 247.2,87.6 C245.9,88.3 244.7,89.0 243.3,89.3 C242.0,89.6 240.7,89.7 239.3,89.5 C237.8,89.2 235.6,88.1 234.9,87.8 M250.8,74.6 C250.2,74.6 248.2,74.8 246.9,74.5 C245.6,74.2 244.4,73.6 243.2,73.0 C242.0,72.4 240.2,71.3 239.6,71.0 M246.9,74.5 C246.6,74.5 245.7,74.5 245.2,74.7 C244.7,74.9 244.1,75.6 243.8,75.8 M250.9,74.3 C251.2,74.1 252.4,73.5 253.1,73.6 C253.8,73.7 254.7,74.5 255.0,74.7 M250.7,84.5 C251.1,84.5 252.3,84.6 253.1,84.5 C253.8,84.4 254.9,83.9 255.3,83.8" fill="none" stroke="#dedede" stroke-width="3.068" stroke-linecap="round" stroke-linejoin="round"/><path d="M252.0,67.0 C251.7,69.2 250.0,75.8 250.0,80.0 C250.0,84.2 252.0,88.0 252.0,92.0 C252.0,96.0 250.0,99.8 250.0,104.0 C250.0,108.2 251.7,114.8 252.0,117.0" fill="none" stroke="#dedede" stroke-width="3.0" stroke-linecap="round"/>
<path d="M267.0,67.0 C267.3,69.2 269.0,75.8 269.0,80.0 C269.0,84.2 267.0,88.0 267.0,92.0 C267.0,96.0 269.0,99.8 269.0,104.0 C269.0,108.2 267.3,114.8 267.0,117.0" fill="none" stroke="#787878" stroke-width="7.0" stroke-linecap="round"/><path d="M268.8,102.8 C269.3,102.3 270.9,100.4 272.1,99.8 C273.3,99.2 274.5,99.2 275.8,99.3 C277.1,99.5 278.5,100.4 279.8,100.8 C281.2,101.3 283.1,101.7 283.8,101.9 M267.6,113.2 C268.3,113.5 270.5,114.1 272.0,114.6 C273.4,115.2 275.5,116.4 276.2,116.7 M267.0,67.0 C266.9,66.9 266.6,65.9 266.4,66.1 C266.1,66.3 265.7,67.7 265.6,68.1 M267.4,69.8 C268.1,69.9 270.3,70.3 271.7,70.3 C273.0,70.2 275.0,69.7 275.7,69.6 M271.7,70.3 C271.8,70.2 272.2,70.2 272.4,69.9 C272.6,69.6 273.0,68.8 273.1,68.6 M272.9,78.8 C273.1,78.6 273.9,77.8 274.3,77.3 C274.7,76.9 275.1,76.4 275.3,76.2" fill="none" stroke="#787878" stroke-width="5.609999999999999" stroke-linecap="round" stroke-linejoin="round"/>
<path d="M268.8,102.8 C269.3,102.3 270.9,100.4 272.1,99.8 C273.3,99.2 274.5,99.2 275.8,99.3 C277.1,99.5 278.5,100.4 279.8,100.8 C281.2,101.3 283.1,101.7 283.8,101.9 M267.6,113.2 C268.3,113.5 270.5,114.1 272.0,114.6 C273.4,115.2 275.5,116.4 276.2,116.7 M267.0,67.0 C266.9,66.9 266.6,65.9 266.4,66.1 C266.1,66.3 265.7,67.7 265.6,68.1 M267.4,69.8 C268.1,69.9 270.3,70.3 271.7,70.3 C273.0,70.2 275.0,69.7 275.7,69.6 M271.7,70.3 C271.8,70.2 272.2,70.2 272.4,69.9 C272.6,69.6 273.0,68.8 273.1,68.6 M272.9,78.8 C273.1,78.6 273.9,77.8 274.3,77.3 C274.7,76.9 275.1,76.4 275.3,76.2" fill="none" stroke="#ababab" stroke-width="4.0392" stroke-linecap="round" stroke-linejoin="round"/>
<path d="M268.8,102.8 C269.3,102.3 270.9,100.4 272.1,99.8 C273.3,99.2 274.5,99.2 275.8,99.3 C277.1,99.5 278.5,100.4 279.8,100.8 C281.2,101.3 283.1,101.7 283.8,101.9 M267.6,113.2 C268.3,113.5 270.5,114.1 272.0,114.6 C273.4,115.2 275.5,116.4 276.2,116.7 M267.0,67.0 C266.9,66.9 266.6,65.9 266.4,66.1 C266.1,66.3 265.7,67.7 265.6,68.1 M267.4,69.8 C268.1,69.9 270.3,70.3 271.7,70.3 C273.0,70.2 275.0,69.7 275.7,69.6 M271.7,70.3 C271.8,70.2 272.2,70.2 272.4,69.9 C272.6,69.6 273.0,68.8 273.1,68.6 M272.9,78.8 C273.1,78.6 273.9,77.8 274.3,77.3 C274.7,76.9 275.1,76.4 275.3,76.2" fill="none" stroke="#dedede" stroke-width="2.21" stroke-linecap="round" stroke-linejoin="round"/><path d="M275.2,93.0 C275.5,93.3 276.6,94.2 277.2,94.8 C277.8,95.5 278.6,96.5 278.9,96.9 M267.0,117.0 C267.2,116.9 268.2,116.1 268.4,116.4 C268.7,116.8 268.6,118.7 268.6,119.2 M267.0,117.0 C266.9,117.1 266.6,117.8 266.4,117.5 C266.1,117.2 265.7,115.6 265.5,115.3 M268.1,109.9 C267.8,109.8 266.9,109.2 266.3,109.4 C265.6,109.6 264.5,110.7 264.1,111.0 M268.2,99.5 C267.9,99.7 266.9,100.1 266.3,100.4 C265.7,100.8 264.7,101.5 264.4,101.7 M267.0,67.0 C267.0,66.8 266.9,65.8 267.3,65.7 C267.7,65.6 269.0,66.4 269.3,66.6 M268.9,80.4 C269.5,80.5 271.3,80.5 272.5,80.8 C273.6,81.1 274.7,81.9 275.9,82.1 C277.0,82.4 278.2,82.6 279.4,82.4 C280.6,82.3 282.5,81.7 283.2,81.5" fill="none" stroke="#787878" stroke-width="6.6" stroke-linecap="round" stroke-linejoin="round"/>
<path d="M275.2,93.0 C275.5,93.3 276.6,94.2 277.2,94.8 C277.8,95.5 278.6,96.5 278.9,96.9 M267.0,117.0 C267.2,116.9 268.2,116.1 268.4,116.4 C268.7,116.8 268.6,118.7 268.6,119.2 M267.0,117.0 C266.9,117.1 266.6,117.8 266.4,117.5 C266.1,117.2 265.7,115.6 265.5,115.3 M268.1,109.9 C267.8,109.8 266.9,109.2 266.3,109.4 C265.6,109.6 264.5,110.7 264.1,111.0 M268.2,99.5 C267.9,99.7 266.9,100.1 266.3,100.4 C265.7,100.8 264.7,101.5 264.4,101.7 M267.0,67.0 C267.0,66.8 266.9,65.8 267.3,65.7 C267.7,65.6 269.0,66.4 269.3,66.6 M268.9,80.4 C269.5,80.5 271.3,80.5 272.5,80.8 C273.6,81.1 274.7,81.9 275.9,82.1 C277.0,82.4 278.2,82.6 279.4,82.4 C280.6,82.3 282.5,81.7 283.2,81.5" fill="none" stroke="#ababab" stroke-width="4.752" stroke-linecap="round" stroke-linejoin="round"/>
<path d="M275.2,93.0 C275.5,93.3 276.6,94.2 277.2,94.8 C277.8,95.5 278.6,96.5 278.9,96.9 M267.0,117.0 C267.2,116.9 268.2,116.1 268.4,116.4 C268.7,116.8 268.6,118.7 268.6,119.2 M267.0,117.0 C266.9,117.1 266.6,117.8 266.4,117.5 C266.1,117.2 265.7,115.6 265.5,115.3 M268.1,109.9 C267.8,109.8 266.9,109.2 266.3,109.4 C265.6,109.6 264.5,110.7 264.1,111.0 M268.2,99.5 C267.9,99.7 266.9,100.1 266.3,100.4 C265.7,100.8 264.7,101.5 264.4,101.7 M267.0,67.0 C267.0,66.8 266.9,65.8 267.3,65.7 C267.7,65.6 269.0,66.4 269.3,66.6 M268.9,80.4 C269.5,80.5 271.3,80.5 272.5,80.8 C273.6,81.1 274.7,81.9 275.9,82.1 C277.0,82.4 278.2,82.6 279.4,82.4 C280.6,82.3 282.5,81.7 283.2,81.5" fill="none" stroke="#dedede" stroke-width="2.6" stroke-linecap="round" stroke-linejoin="round"/><path d="M267.6,88.4 C268.2,88.9 270.0,90.5 271.3,91.3 C272.6,92.0 273.8,92.9 275.2,93.0 C276.6,93.1 278.0,92.6 279.5,91.9 C281.0,91.3 283.4,89.6 284.2,89.1 M275.8,99.3 C276.2,99.6 277.5,100.2 278.2,100.6 C278.9,101.0 279.8,101.7 280.1,101.9 M268.7,105.8 C269.5,105.7 271.8,104.7 273.2,104.9 C274.6,105.1 275.9,106.3 277.2,107.0 C278.5,107.8 280.5,108.8 281.2,109.2 M273.2,104.9 C273.4,105.2 274.1,106.1 274.5,106.8 C274.9,107.4 275.5,108.5 275.7,108.8 M272.0,114.6 C272.2,114.9 272.9,115.6 273.4,115.9 C273.8,116.3 274.4,116.8 274.6,116.9 M267.0,92.0 C266.8,91.9 266.1,91.3 265.6,91.7 C265.1,92.0 264.5,93.6 264.2,94.0 M268.2,84.6 C267.9,84.6 266.9,84.1 266.2,84.4 C265.5,84.6 264.3,85.7 263.9,85.9 M268.1,74.3 C267.8,74.5 267.0,75.1 266.5,75.5 C265.9,75.9 265.1,76.7 264.8,76.9 M268.6,77.2 C269.3,77.5 271.5,78.7 272.9,78.8 C274.2,78.9 275.5,78.5 276.7,77.8 C278.0,77.0 279.6,74.9 280.2,74.3" fill="none" stroke="#787878" stroke-width="7.787999999999999" stroke-linecap="round" stroke-linejoin="round"/>
<path d="M267.6,88.4 C268.2,88.9 270.0,90.5 271.3,91.3 C272.6,92.0 273.8,92.9 275.2,93.0 C276.6,93.1 278.0,92.6 279.5,91.9 C281.0,91.3 283.4,89.6 284.2,89.1 M275.8,99.3 C276.2,99.6 277.5,100.2 278.2,100.6 C278.9,101.0 279.8,101.7 280.1,101.9 M268.7,105.8 C269.5,105.7 271.8,104.7 273.2,104.9 C274.6,105.1 275.9,106.3 277.2,107.0 C278.5,107.8 280.5,108.8 281.2,109.2 M273.2,104.9 C273.4,105.2 274.1,106.1 274.5,106.8 C274.9,107.4 275.5,108.5 275.7,108.8 M272.0,114.6 C272.2,114.9 272.9,115.6 273.4,115.9 C273.8,116.3 274.4,116.8 274.6,116.9 M267.0,92.0 C266.8,91.9 266.1,91.3 265.6,91.7 C265.1,92.0 264.5,93.6 264.2,94.0 M268.2,84.6 C267.9,84.6 266.9,84.1 266.2,84.4 C265.5,84.6 264.3,85.7 263.9,85.9 M268.1,74.3 C267.8,74.5 267.0,75.1 266.5,75.5 C265.9,75.9 265.1,76.7 264.8,76.9 M268.6,77.2 C269.3,77.5 271.5,78.7 272.9,78.8 C274.2,78.9 275.5,78.5 276.7,77.8 C278.0,77.0 279.6,74.9 280.2,74.3" fill="none" stroke="#ababab" stroke-width="5.607359999999999" stroke-linecap="round" stroke-linejoin="round"/>
<path d="M267.6,88.4 C268.2,88.9 270.0,90.5 271.3,91.3 C272.6,92.0 273.8,92.9 275.2,93.0 C276.6,93.1 278.0,92.6 279.5,91.9 C281.0,91.3 283.4,89.6 284.2,89.1 M275.8,99.3 C276.2,99.6 277.5,100.2 278.2,100.6 C278.9,101.0 279.8,101.7 280.1,101.9 M268.7,105.8 C269.5,105.7 271.8,104.7 273.2,104.9 C274.6,105.1 275.9,106.3 277.2,107.0 C278.5,107.8 280.5,108.8 281.2,109.2 M273.2,104.9 C273.4,105.2 274.1,106.1 274.5,106.8 C274.9,107.4 275.5,108.5 275.7,108.8 M272.0,114.6 C272.2,114.9 272.9,115.6 273.4,115.9 C273.8,116.3 274.4,116.8 274.6,116.9 M267.0,92.0 C266.8,91.9 266.1,91.3 265.6,91.7 C265.1,92.0 264.5,93.6 264.2,94.0 M268.2,84.6 C267.9,84.6 266.9,84.1 266.2,84.4 C265.5,84.6 264.3,85.7 263.9,85.9 M268.1,74.3 C267.8,74.5 267.0,75.1 266.5,75.5 C265.9,75.9 265.1,76.7 264.8,76.9 M268.6,77.2 C269.3,77.5 271.5,78.7 272.9,78.8 C274.2,78.9 275.5,78.5 276.7,77.8 C278.0,77.0 279.6,74.9 280.2,74.3" fill="none" stroke="#dedede" stroke-width="3.068" stroke-linecap="round" stroke-linejoin="round"/><path d="M267.0,67.0 C267.3,69.2 269.0,75.8 269.0,80.0 C269.0,84.2 267.0,88.0 267.0,92.0 C267.0,96.0 269.0,99.8 269.0,104.0 C269.0,108.2 267.3,114.8 267.0,117.0" fill="none" stroke="#dedede" stroke-width="3.0" stroke-linecap="round"/></g>
<path d="M232.5,82 L239,80.5 L243.5,83 L243,89 L241.5,96.5 L238.5,98 L237.5,92 L232,88.5 Z" fill="#ff14ff" filter="url(#soft)"/>
<g filter="url(#warp2)"><path d="M395.0,93.5 C395.0,95.2 395.0,97.1 395.0,98.7 C395.0,100.3 394.9,101.6 394.8,102.9 C394.6,104.3 394.5,105.6 394.3,106.8 C394.1,108.1 393.8,109.3 393.5,110.4 C393.2,111.6 392.9,112.7 392.5,113.8 C392.1,114.8 391.7,115.8 391.3,116.8 C390.8,117.8 390.3,118.7 389.8,119.6 C389.2,120.5 388.6,121.3 388.0,122.1 C387.4,122.9 386.7,123.6 386.0,124.3 C385.3,125.0 384.6,125.6 383.8,126.1 C383.1,126.7 382.3,127.2 381.4,127.7 C380.6,128.2 379.7,128.6 378.8,128.9 C377.9,129.3 377.0,129.6 376.0,129.8 C375.0,130.0 374.0,130.2 372.8,130.3 C371.7,130.4 370.3,130.5 369.0,130.5 C367.7,130.5 366.3,130.4 365.2,130.3 C364.0,130.2 363.0,130.0 362.0,129.8 C361.0,129.6 360.1,129.3 359.2,128.9 C358.3,128.6 357.4,128.2 356.6,127.7 C355.7,127.2 354.9,126.7 354.2,126.1 C353.4,125.6 352.7,125.0 352.0,124.3 C351.3,123.6 350.6,122.9 350.0,122.1 C349.4,121.3 348.8,120.5 348.2,119.6 C347.7,118.7 347.2,117.8 346.7,116.8 C346.3,115.8 345.9,114.8 345.5,113.8 C345.1,112.7 344.8,111.6 344.5,110.4 C344.2,109.3 343.9,108.1 343.7,106.8 C343.5,105.6 343.4,104.3 343.2,102.9 C343.1,101.6 343.0,100.3 343.0,98.7 C343.0,97.1 343.0,95.2 343.0,93.5 C343.0,91.8 343.1,89.9 343.3,88.3 C343.4,86.7 343.6,85.4 343.8,84.1 C344.0,82.7 344.2,81.4 344.5,80.2 C344.8,78.9 345.1,77.7 345.5,76.6 C345.8,75.4 346.2,74.3 346.6,73.2 C347.1,72.2 347.5,71.2 348.0,70.2 C348.5,69.2 349.0,68.3 349.6,67.4 C350.1,66.5 350.7,65.7 351.3,64.9 C352.0,64.1 352.6,63.4 353.3,62.7 C354.0,62.0 354.7,61.4 355.4,60.9 C356.1,60.3 356.9,59.8 357.7,59.3 C358.4,58.8 359.2,58.4 360.1,58.1 C360.9,57.7 361.8,57.4 362.7,57.2 C363.6,57.0 364.5,56.8 365.5,56.7 C366.6,56.6 367.8,56.5 369.0,56.5 C370.2,56.5 371.4,56.6 372.5,56.7 C373.5,56.8 374.4,57.0 375.3,57.2 C376.2,57.4 377.1,57.7 377.9,58.1 C378.8,58.4 379.6,58.8 380.3,59.3 C381.1,59.8 381.9,60.3 382.6,60.9 C383.3,61.4 384.0,62.0 384.7,62.7 C385.4,63.4 386.0,64.1 386.7,64.9 C387.3,65.7 387.9,66.5 388.4,67.4 C389.0,68.3 389.5,69.2 390.0,70.2 C390.5,71.2 390.9,72.2 391.4,73.2 C391.8,74.3 392.2,75.4 392.5,76.6 C392.9,77.7 393.2,78.9 393.5,80.2 C393.8,81.4 394.0,82.7 394.2,84.1 C394.4,85.4 394.6,86.7 394.7,88.3 C394.9,89.9 395.0,91.8 395.0,93.5Z" fill="#7c7c7c" stroke="#7c7c7c" stroke-width="8.4" stroke-linejoin="round"/>
<path d="M395.0,93.5 C395.7,93.4 397.6,93.3 398.9,93.2 C400.2,93.1 401.5,93.0 402.8,92.8 C404.1,92.6 405.4,92.3 406.7,92.1 C408.0,91.8 410.0,91.4 410.6,91.3 M398.9,93.2 C399.3,92.9 400.4,92.2 401.0,91.5 C401.7,90.8 402.5,89.5 402.8,89.1 M394.8,102.9 C395.4,102.9 397.4,102.8 398.7,102.9 C400.0,103.0 401.3,103.2 402.7,103.4 C404.0,103.6 405.3,103.8 406.6,103.9 C407.9,104.1 409.9,104.1 410.5,104.1 M402.7,103.4 C403.2,103.2 405.1,102.7 406.2,102.2 C407.2,101.6 408.5,100.5 409.0,100.2 M393.5,110.4 C394.1,110.7 395.9,111.7 397.2,112.1 C398.5,112.5 399.8,112.7 401.2,112.7 C402.6,112.8 404.0,112.7 405.4,112.6 C406.8,112.5 408.9,112.3 409.6,112.3 M401.2,112.7 C401.7,112.4 403.4,111.3 404.3,110.8 C405.3,110.4 406.6,110.3 407.0,110.2 M391.3,116.8 C391.9,117.1 393.7,118.0 395.0,118.6 C396.2,119.2 397.4,119.8 398.7,120.3 C399.9,120.9 401.2,121.5 402.4,122.0 C403.7,122.6 405.6,123.4 406.2,123.7 M398.7,120.3 C398.8,120.7 398.9,122.0 399.1,122.7 C399.3,123.4 399.7,124.1 399.9,124.4 M387.7,122.4 C388.3,122.8 390.4,123.6 391.5,124.5 C392.5,125.5 393.1,126.9 393.9,128.1 C394.6,129.4 395.2,130.8 396.2,131.8 C397.2,132.8 399.2,133.7 399.8,134.1 M393.9,128.1 C394.4,128.2 396.2,128.5 397.2,128.6 C398.2,128.7 399.2,128.8 399.6,128.9 M383.2,126.5 C383.8,127.0 385.5,128.5 386.4,129.6 C387.3,130.6 388.1,131.8 388.8,133.1 C389.4,134.4 389.8,135.8 390.2,137.2 C390.5,138.7 390.8,141.0 390.9,141.8 M388.8,133.1 C389.4,133.3 391.5,134.2 392.6,134.6 C393.7,135.0 394.8,135.5 395.2,135.6 M378.0,129.2 C378.3,129.8 379.5,131.7 380.0,133.0 C380.6,134.3 381.1,135.6 381.5,137.0 C381.8,138.3 382.1,139.7 382.2,141.1 C382.4,142.6 382.3,144.8 382.3,145.5 M381.5,137.0 C381.3,137.6 381.0,139.5 380.7,140.6 C380.4,141.7 380.0,142.9 379.9,143.3 M371.7,130.4 C371.6,131.1 371.2,133.2 371.0,134.6 C370.7,136.0 370.3,137.4 370.1,138.8 C370.0,140.2 369.8,141.6 369.9,143.0 C370.1,144.4 370.8,146.5 371.0,147.2 M370.1,138.8 C369.9,139.3 368.9,140.7 368.5,141.5 C368.1,142.4 367.8,143.4 367.6,143.8 M364.6,130.2 C364.5,130.9 364.3,133.0 363.8,134.4 C363.3,135.7 362.4,137.0 361.7,138.2 C361.0,139.5 359.7,140.8 359.5,142.1 C359.3,143.5 360.3,145.8 360.5,146.6 M363.8,134.4 C364.0,134.8 364.6,136.3 365.1,137.1 C365.6,138.0 366.5,139.0 366.8,139.3 M358.8,128.7 C358.7,129.5 358.6,131.8 358.2,133.1 C357.8,134.5 357.2,135.8 356.3,136.9 C355.4,138.1 354.0,139.0 352.8,140.0 C351.7,141.0 349.9,142.5 349.3,143.0 M358.2,133.1 C358.4,133.7 359.0,135.5 359.4,136.6 C359.7,137.7 360.1,139.2 360.3,139.8 M353.7,125.7 C353.5,126.5 353.1,128.9 352.5,130.3 C352.0,131.7 351.5,133.2 350.5,134.1 C349.4,135.1 347.9,135.7 346.3,136.2 C344.7,136.6 341.8,136.9 340.8,137.1 M350.5,134.1 C350.5,134.7 350.6,136.6 350.5,137.5 C350.4,138.4 350.0,139.3 349.9,139.6 M349.3,121.1 C348.9,121.7 347.7,123.7 346.7,124.6 C345.6,125.5 344.4,126.2 343.1,126.7 C341.7,127.3 340.3,127.6 338.8,127.9 C337.3,128.3 335.0,128.5 334.2,128.6 M343.1,126.7 C343.0,127.4 342.6,129.5 342.5,130.7 C342.3,131.9 342.3,133.4 342.2,134.0 M346.0,115.0 C345.4,115.4 343.7,116.5 342.5,117.2 C341.3,117.9 340.2,118.7 338.9,119.1 C337.6,119.5 336.1,119.4 334.6,119.4 C333.1,119.4 330.8,119.1 330.0,119.0 M338.9,119.1 C338.6,119.6 337.6,121.3 337.1,122.2 C336.6,123.2 336.0,124.3 335.8,124.7 M343.9,107.5 C343.2,107.7 341.2,107.9 340.0,108.3 C338.7,108.8 337.5,109.4 336.3,110.1 C335.0,110.8 333.9,112.0 332.7,112.5 C331.4,113.0 329.4,113.1 328.8,113.2 M336.3,110.1 C335.7,110.0 334.1,109.7 333.2,109.4 C332.3,109.1 331.2,108.3 330.8,108.0 M343.0,99.2 C342.4,99.1 340.4,98.6 339.0,98.6 C337.7,98.6 336.4,98.6 335.1,98.9 C333.8,99.2 332.5,99.7 331.2,100.2 C329.9,100.8 328.0,101.8 327.4,102.1 M335.1,98.9 C334.7,98.6 333.2,97.5 332.4,97.0 C331.6,96.5 330.6,96.2 330.3,96.0 M343.2,90.0 C342.5,89.7 340.6,88.5 339.3,88.1 C338.0,87.6 336.8,87.1 335.4,87.2 C334.1,87.3 332.8,87.8 331.4,88.5 C330.1,89.2 328.0,90.8 327.4,91.3 M344.3,81.4 C343.6,81.3 341.7,80.6 340.4,80.6 C339.1,80.6 337.6,81.0 336.3,81.2 C334.9,81.5 333.4,82.1 332.1,81.8 C330.8,81.6 329.1,80.2 328.5,79.9 M336.3,81.2 C335.9,80.9 334.8,80.1 334.2,79.5 C333.5,78.9 332.8,78.0 332.5,77.7 M346.6,73.4 C346.0,73.1 344.2,72.1 342.9,71.8 C341.6,71.5 340.1,71.8 338.8,71.5 C337.4,71.2 336.1,71.0 335.0,70.2 C333.8,69.5 332.3,67.7 331.8,67.2 M338.8,71.5 C338.5,70.9 337.5,69.1 336.9,68.1 C336.3,67.2 335.5,66.1 335.2,65.7 M349.6,67.4 C349.1,66.9 347.5,65.5 346.5,64.6 C345.5,63.7 344.5,62.7 343.4,61.9 C342.4,61.0 341.3,60.2 340.1,59.5 C338.9,58.8 336.9,58.1 336.3,57.9 M343.4,61.9 C343.0,61.8 341.4,61.5 340.6,61.6 C339.7,61.6 338.8,61.9 338.4,62.0 M353.5,62.6 C352.9,62.1 351.4,60.6 350.2,59.8 C349.0,59.0 347.3,58.6 346.1,57.8 C345.0,56.9 343.9,56.0 343.4,54.6 C342.8,53.2 342.9,50.2 342.8,49.3 M358.3,59.0 C358.0,58.3 357.3,56.2 356.5,55.0 C355.8,53.7 354.9,52.5 353.9,51.4 C352.9,50.3 351.6,49.3 350.6,48.2 C349.6,47.0 348.5,45.1 348.1,44.5 M353.9,51.4 C353.5,51.3 352.3,51.1 351.5,50.9 C350.8,50.7 349.9,50.4 349.6,50.3 M363.5,57.1 C363.4,56.5 363.0,54.7 362.9,53.6 C362.8,52.4 362.9,51.1 363.0,49.9 C363.0,48.7 363.1,47.5 363.1,46.3 C363.1,45.1 363.1,43.9 362.9,42.7 C362.7,41.6 362.2,39.9 362.0,39.3 M363.0,49.9 C362.5,49.5 361.2,48.1 360.4,47.3 C359.7,46.6 358.8,45.7 358.5,45.4 M370.0,56.5 C369.7,55.9 368.9,54.1 368.6,52.9 C368.4,51.7 368.3,50.5 368.3,49.4 C368.3,48.2 368.4,47.0 368.6,45.8 C368.9,44.7 369.3,43.5 369.8,42.3 C370.3,41.2 371.3,39.5 371.6,38.9 M375.6,57.3 C375.9,56.8 376.9,55.3 377.3,54.1 C377.6,53.0 377.4,51.7 377.5,50.5 C377.7,49.3 377.6,48.0 378.0,46.9 C378.4,45.8 379.1,44.8 379.9,43.8 C380.7,42.9 382.4,41.5 382.9,41.1 M377.5,50.5 C377.2,49.9 376.2,48.2 375.7,47.2 C375.1,46.1 374.5,44.8 374.3,44.3 M380.8,59.6 C381.1,59.0 381.9,56.8 382.8,55.7 C383.7,54.6 385.3,53.9 386.3,52.9 C387.3,51.8 388.4,50.8 389.0,49.5 C389.6,48.1 389.6,45.5 389.8,44.7 M386.3,52.9 C386.2,52.4 386.1,51.0 386.0,50.2 C385.9,49.4 385.9,48.6 385.8,48.3 M385.7,63.8 C386.1,63.3 387.6,61.8 388.6,60.8 C389.6,59.8 390.6,58.8 391.6,57.9 C392.7,57.0 393.7,56.0 394.8,55.1 C395.8,54.2 397.5,53.0 398.1,52.5 M391.6,57.9 C392.1,58.0 393.5,58.1 394.3,58.2 C395.1,58.4 396.2,58.7 396.5,58.8 M389.7,69.7 C390.4,69.5 392.4,69.0 393.6,68.3 C394.8,67.6 395.6,66.4 396.8,65.7 C397.9,65.0 399.2,64.4 400.5,64.1 C401.8,63.7 404.1,63.5 404.8,63.4 M396.8,65.7 C397.0,65.0 397.7,62.6 398.1,61.5 C398.4,60.3 398.6,59.3 398.7,58.9 M392.5,76.6 C393.2,76.4 395.1,76.0 396.4,75.5 C397.6,74.9 398.7,74.1 399.9,73.5 C401.1,72.9 402.2,72.2 403.5,71.8 C404.8,71.4 406.8,71.2 407.5,71.1 M399.9,73.5 C400.3,73.7 401.9,74.2 402.7,74.6 C403.5,74.9 404.4,75.4 404.8,75.6 M394.2,84.1 C394.9,83.7 396.7,82.2 397.9,81.7 C399.2,81.3 400.5,81.2 401.9,81.5 C403.2,81.8 404.7,82.8 406.0,83.3 C407.4,83.8 409.5,84.4 410.1,84.6" fill="none" stroke="#7c7c7c" stroke-width="8.4" stroke-linecap="round" stroke-linejoin="round"/>
<path d="M395.0,93.5 C395.7,93.4 397.6,93.3 398.9,93.2 C400.2,93.1 401.5,93.0 402.8,92.8 C404.1,92.6 405.4,92.3 406.7,92.1 C408.0,91.8 410.0,91.4 410.6,91.3 M398.9,93.2 C399.3,92.9 400.4,92.2 401.0,91.5 C401.7,90.8 402.5,89.5 402.8,89.1 M394.8,102.9 C395.4,102.9 397.4,102.8 398.7,102.9 C400.0,103.0 401.3,103.2 402.7,103.4 C404.0,103.6 405.3,103.8 406.6,103.9 C407.9,104.1 409.9,104.1 410.5,104.1 M402.7,103.4 C403.2,103.2 405.1,102.7 406.2,102.2 C407.2,101.6 408.5,100.5 409.0,100.2 M393.5,110.4 C394.1,110.7 395.9,111.7 397.2,112.1 C398.5,112.5 399.8,112.7 401.2,112.7 C402.6,112.8 404.0,112.7 405.4,112.6 C406.8,112.5 408.9,112.3 409.6,112.3 M401.2,112.7 C401.7,112.4 403.4,111.3 404.3,110.8 C405.3,110.4 406.6,110.3 407.0,110.2 M391.3,116.8 C391.9,117.1 393.7,118.0 395.0,118.6 C396.2,119.2 397.4,119.8 398.7,120.3 C399.9,120.9 401.2,121.5 402.4,122.0 C403.7,122.6 405.6,123.4 406.2,123.7 M398.7,120.3 C398.8,120.7 398.9,122.0 399.1,122.7 C399.3,123.4 399.7,124.1 399.9,124.4 M387.7,122.4 C388.3,122.8 390.4,123.6 391.5,124.5 C392.5,125.5 393.1,126.9 393.9,128.1 C394.6,129.4 395.2,130.8 396.2,131.8 C397.2,132.8 399.2,133.7 399.8,134.1 M393.9,128.1 C394.4,128.2 396.2,128.5 397.2,128.6 C398.2,128.7 399.2,128.8 399.6,128.9 M383.2,126.5 C383.8,127.0 385.5,128.5 386.4,129.6 C387.3,130.6 388.1,131.8 388.8,133.1 C389.4,134.4 389.8,135.8 390.2,137.2 C390.5,138.7 390.8,141.0 390.9,141.8 M388.8,133.1 C389.4,133.3 391.5,134.2 392.6,134.6 C393.7,135.0 394.8,135.5 395.2,135.6 M378.0,129.2 C378.3,129.8 379.5,131.7 380.0,133.0 C380.6,134.3 381.1,135.6 381.5,137.0 C381.8,138.3 382.1,139.7 382.2,141.1 C382.4,142.6 382.3,144.8 382.3,145.5 M381.5,137.0 C381.3,137.6 381.0,139.5 380.7,140.6 C380.4,141.7 380.0,142.9 379.9,143.3 M371.7,130.4 C371.6,131.1 371.2,133.2 371.0,134.6 C370.7,136.0 370.3,137.4 370.1,138.8 C370.0,140.2 369.8,141.6 369.9,143.0 C370.1,144.4 370.8,146.5 371.0,147.2 M370.1,138.8 C369.9,139.3 368.9,140.7 368.5,141.5 C368.1,142.4 367.8,143.4 367.6,143.8 M364.6,130.2 C364.5,130.9 364.3,133.0 363.8,134.4 C363.3,135.7 362.4,137.0 361.7,138.2 C361.0,139.5 359.7,140.8 359.5,142.1 C359.3,143.5 360.3,145.8 360.5,146.6 M363.8,134.4 C364.0,134.8 364.6,136.3 365.1,137.1 C365.6,138.0 366.5,139.0 366.8,139.3 M358.8,128.7 C358.7,129.5 358.6,131.8 358.2,133.1 C357.8,134.5 357.2,135.8 356.3,136.9 C355.4,138.1 354.0,139.0 352.8,140.0 C351.7,141.0 349.9,142.5 349.3,143.0 M358.2,133.1 C358.4,133.7 359.0,135.5 359.4,136.6 C359.7,137.7 360.1,139.2 360.3,139.8 M353.7,125.7 C353.5,126.5 353.1,128.9 352.5,130.3 C352.0,131.7 351.5,133.2 350.5,134.1 C349.4,135.1 347.9,135.7 346.3,136.2 C344.7,136.6 341.8,136.9 340.8,137.1 M350.5,134.1 C350.5,134.7 350.6,136.6 350.5,137.5 C350.4,138.4 350.0,139.3 349.9,139.6 M349.3,121.1 C348.9,121.7 347.7,123.7 346.7,124.6 C345.6,125.5 344.4,126.2 343.1,126.7 C341.7,127.3 340.3,127.6 338.8,127.9 C337.3,128.3 335.0,128.5 334.2,128.6 M343.1,126.7 C343.0,127.4 342.6,129.5 342.5,130.7 C342.3,131.9 342.3,133.4 342.2,134.0 M346.0,115.0 C345.4,115.4 343.7,116.5 342.5,117.2 C341.3,117.9 340.2,118.7 338.9,119.1 C337.6,119.5 336.1,119.4 334.6,119.4 C333.1,119.4 330.8,119.1 330.0,119.0 M338.9,119.1 C338.6,119.6 337.6,121.3 337.1,122.2 C336.6,123.2 336.0,124.3 335.8,124.7 M343.9,107.5 C343.2,107.7 341.2,107.9 340.0,108.3 C338.7,108.8 337.5,109.4 336.3,110.1 C335.0,110.8 333.9,112.0 332.7,112.5 C331.4,113.0 329.4,113.1 328.8,113.2 M336.3,110.1 C335.7,110.0 334.1,109.7 333.2,109.4 C332.3,109.1 331.2,108.3 330.8,108.0 M343.0,99.2 C342.4,99.1 340.4,98.6 339.0,98.6 C337.7,98.6 336.4,98.6 335.1,98.9 C333.8,99.2 332.5,99.7 331.2,100.2 C329.9,100.8 328.0,101.8 327.4,102.1 M335.1,98.9 C334.7,98.6 333.2,97.5 332.4,97.0 C331.6,96.5 330.6,96.2 330.3,96.0 M343.2,90.0 C342.5,89.7 340.6,88.5 339.3,88.1 C338.0,87.6 336.8,87.1 335.4,87.2 C334.1,87.3 332.8,87.8 331.4,88.5 C330.1,89.2 328.0,90.8 327.4,91.3 M344.3,81.4 C343.6,81.3 341.7,80.6 340.4,80.6 C339.1,80.6 337.6,81.0 336.3,81.2 C334.9,81.5 333.4,82.1 332.1,81.8 C330.8,81.6 329.1,80.2 328.5,79.9 M336.3,81.2 C335.9,80.9 334.8,80.1 334.2,79.5 C333.5,78.9 332.8,78.0 332.5,77.7 M346.6,73.4 C346.0,73.1 344.2,72.1 342.9,71.8 C341.6,71.5 340.1,71.8 338.8,71.5 C337.4,71.2 336.1,71.0 335.0,70.2 C333.8,69.5 332.3,67.7 331.8,67.2 M338.8,71.5 C338.5,70.9 337.5,69.1 336.9,68.1 C336.3,67.2 335.5,66.1 335.2,65.7 M349.6,67.4 C349.1,66.9 347.5,65.5 346.5,64.6 C345.5,63.7 344.5,62.7 343.4,61.9 C342.4,61.0 341.3,60.2 340.1,59.5 C338.9,58.8 336.9,58.1 336.3,57.9 M343.4,61.9 C343.0,61.8 341.4,61.5 340.6,61.6 C339.7,61.6 338.8,61.9 338.4,62.0 M353.5,62.6 C352.9,62.1 351.4,60.6 350.2,59.8 C349.0,59.0 347.3,58.6 346.1,57.8 C345.0,56.9 343.9,56.0 343.4,54.6 C342.8,53.2 342.9,50.2 342.8,49.3 M358.3,59.0 C358.0,58.3 357.3,56.2 356.5,55.0 C355.8,53.7 354.9,52.5 353.9,51.4 C352.9,50.3 351.6,49.3 350.6,48.2 C349.6,47.0 348.5,45.1 348.1,44.5 M353.9,51.4 C353.5,51.3 352.3,51.1 351.5,50.9 C350.8,50.7 349.9,50.4 349.6,50.3 M363.5,57.1 C363.4,56.5 363.0,54.7 362.9,53.6 C362.8,52.4 362.9,51.1 363.0,49.9 C363.0,48.7 363.1,47.5 363.1,46.3 C363.1,45.1 363.1,43.9 362.9,42.7 C362.7,41.6 362.2,39.9 362.0,39.3 M363.0,49.9 C362.5,49.5 361.2,48.1 360.4,47.3 C359.7,46.6 358.8,45.7 358.5,45.4 M370.0,56.5 C369.7,55.9 368.9,54.1 368.6,52.9 C368.4,51.7 368.3,50.5 368.3,49.4 C368.3,48.2 368.4,47.0 368.6,45.8 C368.9,44.7 369.3,43.5 369.8,42.3 C370.3,41.2 371.3,39.5 371.6,38.9 M375.6,57.3 C375.9,56.8 376.9,55.3 377.3,54.1 C377.6,53.0 377.4,51.7 377.5,50.5 C377.7,49.3 377.6,48.0 378.0,46.9 C378.4,45.8 379.1,44.8 379.9,43.8 C380.7,42.9 382.4,41.5 382.9,41.1 M377.5,50.5 C377.2,49.9 376.2,48.2 375.7,47.2 C375.1,46.1 374.5,44.8 374.3,44.3 M380.8,59.6 C381.1,59.0 381.9,56.8 382.8,55.7 C383.7,54.6 385.3,53.9 386.3,52.9 C387.3,51.8 388.4,50.8 389.0,49.5 C389.6,48.1 389.6,45.5 389.8,44.7 M386.3,52.9 C386.2,52.4 386.1,51.0 386.0,50.2 C385.9,49.4 385.9,48.6 385.8,48.3 M385.7,63.8 C386.1,63.3 387.6,61.8 388.6,60.8 C389.6,59.8 390.6,58.8 391.6,57.9 C392.7,57.0 393.7,56.0 394.8,55.1 C395.8,54.2 397.5,53.0 398.1,52.5 M391.6,57.9 C392.1,58.0 393.5,58.1 394.3,58.2 C395.1,58.4 396.2,58.7 396.5,58.8 M389.7,69.7 C390.4,69.5 392.4,69.0 393.6,68.3 C394.8,67.6 395.6,66.4 396.8,65.7 C397.9,65.0 399.2,64.4 400.5,64.1 C401.8,63.7 404.1,63.5 404.8,63.4 M396.8,65.7 C397.0,65.0 397.7,62.6 398.1,61.5 C398.4,60.3 398.6,59.3 398.7,58.9 M392.5,76.6 C393.2,76.4 395.1,76.0 396.4,75.5 C397.6,74.9 398.7,74.1 399.9,73.5 C401.1,72.9 402.2,72.2 403.5,71.8 C404.8,71.4 406.8,71.2 407.5,71.1 M399.9,73.5 C400.3,73.7 401.9,74.2 402.7,74.6 C403.5,74.9 404.4,75.4 404.8,75.6 M394.2,84.1 C394.9,83.7 396.7,82.2 397.9,81.7 C399.2,81.3 400.5,81.2 401.9,81.5 C403.2,81.8 404.7,82.8 406.0,83.3 C407.4,83.8 409.5,84.4 410.1,84.6" fill="none" stroke="#adadad" stroke-width="5.712000000000001" stroke-linecap="round" stroke-linejoin="round"/>
<path d="M395.0,93.5 C395.7,93.4 397.6,93.3 398.9,93.2 C400.2,93.1 401.5,93.0 402.8,92.8 C404.1,92.6 405.4,92.3 406.7,92.1 C408.0,91.8 410.0,91.4 410.6,91.3 M398.9,93.2 C399.3,92.9 400.4,92.2 401.0,91.5 C401.7,90.8 402.5,89.5 402.8,89.1 M394.8,102.9 C395.4,102.9 397.4,102.8 398.7,102.9 C400.0,103.0 401.3,103.2 402.7,103.4 C404.0,103.6 405.3,103.8 406.6,103.9 C407.9,104.1 409.9,104.1 410.5,104.1 M402.7,103.4 C403.2,103.2 405.1,102.7 406.2,102.2 C407.2,101.6 408.5,100.5 409.0,100.2 M393.5,110.4 C394.1,110.7 395.9,111.7 397.2,112.1 C398.5,112.5 399.8,112.7 401.2,112.7 C402.6,112.8 404.0,112.7 405.4,112.6 C406.8,112.5 408.9,112.3 409.6,112.3 M401.2,112.7 C401.7,112.4 403.4,111.3 404.3,110.8 C405.3,110.4 406.6,110.3 407.0,110.2 M391.3,116.8 C391.9,117.1 393.7,118.0 395.0,118.6 C396.2,119.2 397.4,119.8 398.7,120.3 C399.9,120.9 401.2,121.5 402.4,122.0 C403.7,122.6 405.6,123.4 406.2,123.7 M398.7,120.3 C398.8,120.7 398.9,122.0 399.1,122.7 C399.3,123.4 399.7,124.1 399.9,124.4 M387.7,122.4 C388.3,122.8 390.4,123.6 391.5,124.5 C392.5,125.5 393.1,126.9 393.9,128.1 C394.6,129.4 395.2,130.8 396.2,131.8 C397.2,132.8 399.2,133.7 399.8,134.1 M393.9,128.1 C394.4,128.2 396.2,128.5 397.2,128.6 C398.2,128.7 399.2,128.8 399.6,128.9 M383.2,126.5 C383.8,127.0 385.5,128.5 386.4,129.6 C387.3,130.6 388.1,131.8 388.8,133.1 C389.4,134.4 389.8,135.8 390.2,137.2 C390.5,138.7 390.8,141.0 390.9,141.8 M388.8,133.1 C389.4,133.3 391.5,134.2 392.6,134.6 C393.7,135.0 394.8,135.5 395.2,135.6 M378.0,129.2 C378.3,129.8 379.5,131.7 380.0,133.0 C380.6,134.3 381.1,135.6 381.5,137.0 C381.8,138.3 382.1,139.7 382.2,141.1 C382.4,142.6 382.3,144.8 382.3,145.5 M381.5,137.0 C381.3,137.6 381.0,139.5 380.7,140.6 C380.4,141.7 380.0,142.9 379.9,143.3 M371.7,130.4 C371.6,131.1 371.2,133.2 371.0,134.6 C370.7,136.0 370.3,137.4 370.1,138.8 C370.0,140.2 369.8,141.6 369.9,143.0 C370.1,144.4 370.8,146.5 371.0,147.2 M370.1,138.8 C369.9,139.3 368.9,140.7 368.5,141.5 C368.1,142.4 367.8,143.4 367.6,143.8 M364.6,130.2 C364.5,130.9 364.3,133.0 363.8,134.4 C363.3,135.7 362.4,137.0 361.7,138.2 C361.0,139.5 359.7,140.8 359.5,142.1 C359.3,143.5 360.3,145.8 360.5,146.6 M363.8,134.4 C364.0,134.8 364.6,136.3 365.1,137.1 C365.6,138.0 366.5,139.0 366.8,139.3 M358.8,128.7 C358.7,129.5 358.6,131.8 358.2,133.1 C357.8,134.5 357.2,135.8 356.3,136.9 C355.4,138.1 354.0,139.0 352.8,140.0 C351.7,141.0 349.9,142.5 349.3,143.0 M358.2,133.1 C358.4,133.7 359.0,135.5 359.4,136.6 C359.7,137.7 360.1,139.2 360.3,139.8 M353.7,125.7 C353.5,126.5 353.1,128.9 352.5,130.3 C352.0,131.7 351.5,133.2 350.5,134.1 C349.4,135.1 347.9,135.7 346.3,136.2 C344.7,136.6 341.8,136.9 340.8,137.1 M350.5,134.1 C350.5,134.7 350.6,136.6 350.5,137.5 C350.4,138.4 350.0,139.3 349.9,139.6 M349.3,121.1 C348.9,121.7 347.7,123.7 346.7,124.6 C345.6,125.5 344.4,126.2 343.1,126.7 C341.7,127.3 340.3,127.6 338.8,127.9 C337.3,128.3 335.0,128.5 334.2,128.6 M343.1,126.7 C343.0,127.4 342.6,129.5 342.5,130.7 C342.3,131.9 342.3,133.4 342.2,134.0 M346.0,115.0 C345.4,115.4 343.7,116.5 342.5,117.2 C341.3,117.9 340.2,118.7 338.9,119.1 C337.6,119.5 336.1,119.4 334.6,119.4 C333.1,119.4 330.8,119.1 330.0,119.0 M338.9,119.1 C338.6,119.6 337.6,121.3 337.1,122.2 C336.6,123.2 336.0,124.3 335.8,124.7 M343.9,107.5 C343.2,107.7 341.2,107.9 340.0,108.3 C338.7,108.8 337.5,109.4 336.3,110.1 C335.0,110.8 333.9,112.0 332.7,112.5 C331.4,113.0 329.4,113.1 328.8,113.2 M336.3,110.1 C335.7,110.0 334.1,109.7 333.2,109.4 C332.3,109.1 331.2,108.3 330.8,108.0 M343.0,99.2 C342.4,99.1 340.4,98.6 339.0,98.6 C337.7,98.6 336.4,98.6 335.1,98.9 C333.8,99.2 332.5,99.7 331.2,100.2 C329.9,100.8 328.0,101.8 327.4,102.1 M335.1,98.9 C334.7,98.6 333.2,97.5 332.4,97.0 C331.6,96.5 330.6,96.2 330.3,96.0 M343.2,90.0 C342.5,89.7 340.6,88.5 339.3,88.1 C338.0,87.6 336.8,87.1 335.4,87.2 C334.1,87.3 332.8,87.8 331.4,88.5 C330.1,89.2 328.0,90.8 327.4,91.3 M344.3,81.4 C343.6,81.3 341.7,80.6 340.4,80.6 C339.1,80.6 337.6,81.0 336.3,81.2 C334.9,81.5 333.4,82.1 332.1,81.8 C330.8,81.6 329.1,80.2 328.5,79.9 M336.3,81.2 C335.9,80.9 334.8,80.1 334.2,79.5 C333.5,78.9 332.8,78.0 332.5,77.7 M346.6,73.4 C346.0,73.1 344.2,72.1 342.9,71.8 C341.6,71.5 340.1,71.8 338.8,71.5 C337.4,71.2 336.1,71.0 335.0,70.2 C333.8,69.5 332.3,67.7 331.8,67.2 M338.8,71.5 C338.5,70.9 337.5,69.1 336.9,68.1 C336.3,67.2 335.5,66.1 335.2,65.7 M349.6,67.4 C349.1,66.9 347.5,65.5 346.5,64.6 C345.5,63.7 344.5,62.7 343.4,61.9 C342.4,61.0 341.3,60.2 340.1,59.5 C338.9,58.8 336.9,58.1 336.3,57.9 M343.4,61.9 C343.0,61.8 341.4,61.5 340.6,61.6 C339.7,61.6 338.8,61.9 338.4,62.0 M353.5,62.6 C352.9,62.1 351.4,60.6 350.2,59.8 C349.0,59.0 347.3,58.6 346.1,57.8 C345.0,56.9 343.9,56.0 343.4,54.6 C342.8,53.2 342.9,50.2 342.8,49.3 M358.3,59.0 C358.0,58.3 357.3,56.2 356.5,55.0 C355.8,53.7 354.9,52.5 353.9,51.4 C352.9,50.3 351.6,49.3 350.6,48.2 C349.6,47.0 348.5,45.1 348.1,44.5 M353.9,51.4 C353.5,51.3 352.3,51.1 351.5,50.9 C350.8,50.7 349.9,50.4 349.6,50.3 M363.5,57.1 C363.4,56.5 363.0,54.7 362.9,53.6 C362.8,52.4 362.9,51.1 363.0,49.9 C363.0,48.7 363.1,47.5 363.1,46.3 C363.1,45.1 363.1,43.9 362.9,42.7 C362.7,41.6 362.2,39.9 362.0,39.3 M363.0,49.9 C362.5,49.5 361.2,48.1 360.4,47.3 C359.7,46.6 358.8,45.7 358.5,45.4 M370.0,56.5 C369.7,55.9 368.9,54.1 368.6,52.9 C368.4,51.7 368.3,50.5 368.3,49.4 C368.3,48.2 368.4,47.0 368.6,45.8 C368.9,44.7 369.3,43.5 369.8,42.3 C370.3,41.2 371.3,39.5 371.6,38.9 M375.6,57.3 C375.9,56.8 376.9,55.3 377.3,54.1 C377.6,53.0 377.4,51.7 377.5,50.5 C377.7,49.3 377.6,48.0 378.0,46.9 C378.4,45.8 379.1,44.8 379.9,43.8 C380.7,42.9 382.4,41.5 382.9,41.1 M377.5,50.5 C377.2,49.9 376.2,48.2 375.7,47.2 C375.1,46.1 374.5,44.8 374.3,44.3 M380.8,59.6 C381.1,59.0 381.9,56.8 382.8,55.7 C383.7,54.6 385.3,53.9 386.3,52.9 C387.3,51.8 388.4,50.8 389.0,49.5 C389.6,48.1 389.6,45.5 389.8,44.7 M386.3,52.9 C386.2,52.4 386.1,51.0 386.0,50.2 C385.9,49.4 385.9,48.6 385.8,48.3 M385.7,63.8 C386.1,63.3 387.6,61.8 388.6,60.8 C389.6,59.8 390.6,58.8 391.6,57.9 C392.7,57.0 393.7,56.0 394.8,55.1 C395.8,54.2 397.5,53.0 398.1,52.5 M391.6,57.9 C392.1,58.0 393.5,58.1 394.3,58.2 C395.1,58.4 396.2,58.7 396.5,58.8 M389.7,69.7 C390.4,69.5 392.4,69.0 393.6,68.3 C394.8,67.6 395.6,66.4 396.8,65.7 C397.9,65.0 399.2,64.4 400.5,64.1 C401.8,63.7 404.1,63.5 404.8,63.4 M396.8,65.7 C397.0,65.0 397.7,62.6 398.1,61.5 C398.4,60.3 398.6,59.3 398.7,58.9 M392.5,76.6 C393.2,76.4 395.1,76.0 396.4,75.5 C397.6,74.9 398.7,74.1 399.9,73.5 C401.1,72.9 402.2,72.2 403.5,71.8 C404.8,71.4 406.8,71.2 407.5,71.1 M399.9,73.5 C400.3,73.7 401.9,74.2 402.7,74.6 C403.5,74.9 404.4,75.4 404.8,75.6 M394.2,84.1 C394.9,83.7 396.7,82.2 397.9,81.7 C399.2,81.3 400.5,81.2 401.9,81.5 C403.2,81.8 404.7,82.8 406.0,83.3 C407.4,83.8 409.5,84.4 410.1,84.6" fill="none" stroke="#e0e0e0" stroke-width="3.4" stroke-linecap="round" stroke-linejoin="round"/>
<path d="M395.0,93.5 C395.0,95.2 395.0,97.1 395.0,98.7 C395.0,100.3 394.9,101.6 394.8,102.9 C394.6,104.3 394.5,105.6 394.3,106.8 C394.1,108.1 393.8,109.3 393.5,110.4 C393.2,111.6 392.9,112.7 392.5,113.8 C392.1,114.8 391.7,115.8 391.3,116.8 C390.8,117.8 390.3,118.7 389.8,119.6 C389.2,120.5 388.6,121.3 388.0,122.1 C387.4,122.9 386.7,123.6 386.0,124.3 C385.3,125.0 384.6,125.6 383.8,126.1 C383.1,126.7 382.3,127.2 381.4,127.7 C380.6,128.2 379.7,128.6 378.8,128.9 C377.9,129.3 377.0,129.6 376.0,129.8 C375.0,130.0 374.0,130.2 372.8,130.3 C371.7,130.4 370.3,130.5 369.0,130.5 C367.7,130.5 366.3,130.4 365.2,130.3 C364.0,130.2 363.0,130.0 362.0,129.8 C361.0,129.6 360.1,129.3 359.2,128.9 C358.3,128.6 357.4,128.2 356.6,127.7 C355.7,127.2 354.9,126.7 354.2,126.1 C353.4,125.6 352.7,125.0 352.0,124.3 C351.3,123.6 350.6,122.9 350.0,122.1 C349.4,121.3 348.8,120.5 348.2,119.6 C347.7,118.7 347.2,117.8 346.7,116.8 C346.3,115.8 345.9,114.8 345.5,113.8 C345.1,112.7 344.8,111.6 344.5,110.4 C344.2,109.3 343.9,108.1 343.7,106.8 C343.5,105.6 343.4,104.3 343.2,102.9 C343.1,101.6 343.0,100.3 343.0,98.7 C343.0,97.1 343.0,95.2 343.0,93.5 C343.0,91.8 343.1,89.9 343.3,88.3 C343.4,86.7 343.6,85.4 343.8,84.1 C344.0,82.7 344.2,81.4 344.5,80.2 C344.8,78.9 345.1,77.7 345.5,76.6 C345.8,75.4 346.2,74.3 346.6,73.2 C347.1,72.2 347.5,71.2 348.0,70.2 C348.5,69.2 349.0,68.3 349.6,67.4 C350.1,66.5 350.7,65.7 351.3,64.9 C352.0,64.1 352.6,63.4 353.3,62.7 C354.0,62.0 354.7,61.4 355.4,60.9 C356.1,60.3 356.9,59.8 357.7,59.3 C358.4,58.8 359.2,58.4 360.1,58.1 C360.9,57.7 361.8,57.4 362.7,57.2 C363.6,57.0 364.5,56.8 365.5,56.7 C366.6,56.6 367.8,56.5 369.0,56.5 C370.2,56.5 371.4,56.6 372.5,56.7 C373.5,56.8 374.4,57.0 375.3,57.2 C376.2,57.4 377.1,57.7 377.9,58.1 C378.8,58.4 379.6,58.8 380.3,59.3 C381.1,59.8 381.9,60.3 382.6,60.9 C383.3,61.4 384.0,62.0 384.7,62.7 C385.4,63.4 386.0,64.1 386.7,64.9 C387.3,65.7 387.9,66.5 388.4,67.4 C389.0,68.3 389.5,69.2 390.0,70.2 C390.5,71.2 390.9,72.2 391.4,73.2 C391.8,74.3 392.2,75.4 392.5,76.6 C392.9,77.7 393.2,78.9 393.5,80.2 C393.8,81.4 394.0,82.7 394.2,84.1 C394.4,85.4 394.6,86.7 394.7,88.3 C394.9,89.9 395.0,91.8 395.0,93.5Z" fill="#e2e2e2" stroke="#e2e2e2" stroke-width="3.4" stroke-linejoin="round" filter="url(#soft2)"/>
<path d="M369.5,30 C369,40 370,50 369.5,62" stroke="#050505" stroke-width="2.2" fill="none"/>
<path d="M369.5,124 C369,134 370,144 369.5,156" stroke="#050505" stroke-width="2.2" fill="none"/>
<g filter="url(#soft3)"><ellipse cx="356.5" cy="88" rx="9.5" ry="14" fill="#c2c2c2"/><ellipse cx="381.5" cy="88" rx="9.5" ry="14" fill="#c2c2c2"/><path d="M352,106 C358,102 380,102 386,106 C388,120 384,138 369,146 C354,138 350,120 352,106 Z" fill="#b4b4b4"/></g>
<path d="M358,65 C361,63.5 365,66 368.5,70.5 C372,66 376,63.5 380,65 C380,67.5 377.5,70 374,72.5 L371,76 L370.3,84 L367.8,84 L367,76 L364,72.5 C360.5,70 358,67.5 358,65 Z" fill="#060606"/>
<path d="M369,86 L369.4,101" stroke="#222" stroke-width="1.4"/>
<path d="M348.5,103 C351,101 354,103 354.5,106 C354.5,112 352,118 350,119 C348,117 347.5,109 348.5,103 Z" fill="#060606"/>
<path d="M384.5,101 C387,100 389.5,102 389.5,106 C389.5,111 388,115 386.5,116 C385,114 384,107 384.5,101 Z" fill="#060606"/>
<path d="M355,146 C356,138 352,130 356,122 M362,148 C364,140 361,132 363,124 M376,148 C374,140 377,132 375,124 M383,146 C382,138 386,130 382,122 M357,120 C360,116 362,112 364,108 M381,120 C378,116 376,112 374,108 M350,136 C353,132 355,128 353,122 M388,136 C385,132 383,128 385,122" fill="none" stroke="#a0a0a0" stroke-width="4.2" stroke-linecap="round"/>
<path d="M355,146 C356,138 352,130 356,122 M362,148 C364,140 361,132 363,124 M376,148 C374,140 377,132 375,124 M383,146 C382,138 386,130 382,122 M357,120 C360,116 362,112 364,108 M381,120 C378,116 376,112 374,108 M350,136 C353,132 355,128 353,122 M388,136 C385,132 383,128 385,122" fill="none" stroke="#3c3c3c" stroke-width="1.4" stroke-linecap="round"/>
<path d="M369,104 L369,148" stroke="#0a0a0a" stroke-width="1.8"/></g>
<path d="M333,81 L339,80 L344,82.5 L344.5,87 L341,90 L338.5,94 L336,90 L333,86.5 Z" fill="#ff14ff" filter="url(#soft)"/>
<g filter="url(#warp2)"><path d="M519.0,92.5 C519.1,94.2 519.1,96.1 519.0,97.7 C519.0,99.3 518.9,100.6 518.8,101.9 C518.7,103.3 518.6,104.6 518.4,105.8 C518.2,107.1 517.9,108.3 517.6,109.4 C517.3,110.6 517.0,111.7 516.6,112.8 C516.3,113.8 515.8,114.8 515.4,115.8 C514.9,116.8 514.4,117.7 513.9,118.6 C513.4,119.5 512.8,120.3 512.2,121.1 C511.5,121.9 510.9,122.6 510.2,123.3 C509.5,124.0 508.7,124.6 508.0,125.1 C507.2,125.7 506.4,126.2 505.5,126.7 C504.7,127.2 503.8,127.6 502.9,127.9 C502.0,128.3 501.0,128.6 500.0,128.8 C499.0,129.0 498.0,129.2 496.9,129.3 C495.7,129.4 494.3,129.5 493.0,129.5 C491.7,129.5 490.3,129.4 489.1,129.3 C488.0,129.2 487.0,129.0 486.0,128.8 C485.0,128.6 484.0,128.3 483.1,127.9 C482.2,127.6 481.3,127.2 480.5,126.7 C479.6,126.2 478.8,125.7 478.0,125.1 C477.3,124.6 476.5,124.0 475.8,123.3 C475.1,122.6 474.5,121.9 473.8,121.1 C473.2,120.3 472.6,119.5 472.1,118.6 C471.6,117.7 471.1,116.8 470.6,115.8 C470.2,114.8 469.7,113.8 469.4,112.8 C469.0,111.7 468.7,110.6 468.4,109.4 C468.1,108.3 467.8,107.1 467.6,105.8 C467.4,104.6 467.3,103.3 467.2,101.9 C467.1,100.6 467.0,99.3 467.0,97.7 C466.9,96.1 466.9,94.2 467.0,92.5 C467.1,90.8 467.2,88.9 467.3,87.3 C467.4,85.7 467.6,84.4 467.8,83.1 C468.0,81.7 468.3,80.4 468.6,79.2 C468.9,77.9 469.2,76.7 469.6,75.6 C469.9,74.4 470.3,73.3 470.7,72.2 C471.2,71.2 471.6,70.2 472.1,69.2 C472.6,68.2 473.2,67.3 473.7,66.4 C474.3,65.5 474.9,64.7 475.5,63.9 C476.1,63.1 476.7,62.4 477.4,61.7 C478.1,61.0 478.8,60.4 479.5,59.9 C480.2,59.3 481.0,58.8 481.8,58.3 C482.5,57.8 483.3,57.4 484.2,57.1 C485.0,56.7 485.9,56.4 486.8,56.2 C487.7,56.0 488.5,55.8 489.6,55.7 C490.6,55.6 491.9,55.5 493.0,55.5 C494.1,55.5 495.4,55.6 496.4,55.7 C497.5,55.8 498.3,56.0 499.2,56.2 C500.1,56.4 501.0,56.7 501.8,57.1 C502.7,57.4 503.5,57.8 504.2,58.3 C505.0,58.8 505.8,59.3 506.5,59.9 C507.2,60.4 507.9,61.0 508.6,61.7 C509.3,62.4 509.9,63.1 510.5,63.9 C511.1,64.7 511.7,65.5 512.3,66.4 C512.8,67.3 513.4,68.2 513.9,69.2 C514.4,70.2 514.8,71.2 515.3,72.2 C515.7,73.3 516.1,74.4 516.4,75.6 C516.8,76.7 517.1,77.9 517.4,79.2 C517.7,80.4 518.0,81.7 518.2,83.1 C518.4,84.4 518.6,85.7 518.7,87.3 C518.8,88.9 518.9,90.8 519.0,92.5Z" fill="#7c7c7c" stroke="#7c7c7c" stroke-width="8.4" stroke-linejoin="round"/>
<path d="M519.0,92.6 C519.7,92.7 521.9,93.1 523.3,93.2 C524.7,93.2 526.2,93.0 527.6,92.8 C529.0,92.6 530.5,92.2 531.9,91.8 C533.3,91.5 535.5,90.8 536.2,90.6 M518.8,101.9 C519.6,101.9 521.8,101.5 523.2,101.7 C524.7,101.8 526.1,102.3 527.5,102.8 C528.9,103.3 530.3,104.2 531.7,104.7 C533.1,105.3 535.2,105.8 535.9,106.0 M527.5,102.8 C528.0,102.4 529.6,101.0 530.5,100.3 C531.4,99.5 532.6,98.6 533.0,98.3 M517.6,109.4 C518.2,109.6 519.9,110.2 521.1,110.4 C522.2,110.6 523.4,110.7 524.7,110.7 C525.9,110.7 527.2,110.5 528.4,110.5 C529.7,110.4 531.0,110.2 532.2,110.4 C533.3,110.6 534.9,111.5 535.5,111.7 M528.4,110.5 C528.8,110.2 530.1,109.4 530.8,109.0 C531.6,108.6 532.5,108.4 532.8,108.3 M515.4,115.8 C515.8,116.3 517.1,117.8 518.1,118.7 C519.0,119.6 519.9,120.4 521.0,121.1 C522.0,121.8 523.1,122.4 524.3,122.8 C525.4,123.2 526.7,123.4 528.1,123.5 C529.4,123.6 531.6,123.4 532.3,123.4 M521.0,121.1 C521.4,121.0 522.7,120.9 523.4,120.6 C524.2,120.3 525.3,119.4 525.7,119.2 M512.2,121.1 C512.7,121.4 514.4,122.4 515.6,122.9 C516.8,123.5 518.1,123.8 519.4,124.4 C520.6,124.9 521.9,125.3 523.0,126.0 C524.1,126.7 525.1,127.5 525.8,128.6 C526.5,129.7 527.1,132.0 527.3,132.7 M519.4,124.4 C519.9,124.4 521.5,124.6 522.5,124.8 C523.4,124.9 524.8,125.2 525.2,125.2 M508.0,125.1 C508.3,125.7 509.4,127.3 510.2,128.3 C511.1,129.3 512.0,130.1 512.9,131.1 C513.8,132.1 514.7,133.0 515.5,134.0 C516.3,135.0 517.0,136.1 517.6,137.2 C518.2,138.4 518.8,140.3 519.1,140.9 M512.9,131.1 C512.9,131.9 512.7,134.2 512.7,135.6 C512.6,137.0 512.5,138.9 512.5,139.6 M502.9,127.9 C503.2,128.5 504.3,130.1 504.8,131.3 C505.4,132.4 505.7,133.7 506.1,134.9 C506.5,136.1 506.8,137.3 507.3,138.5 C507.7,139.7 508.3,140.9 508.8,142.0 C509.3,143.2 510.2,144.9 510.5,145.5 M507.3,138.5 C507.8,138.8 509.5,139.9 510.6,140.4 C511.8,140.9 513.5,141.5 514.1,141.7 M496.9,129.3 C496.9,130.0 497.0,131.8 496.8,133.1 C496.7,134.4 496.3,135.7 496.0,137.0 C495.7,138.3 495.2,139.7 495.1,140.9 C495.0,142.2 495.0,143.5 495.5,144.7 C496.1,145.8 498.0,147.5 498.5,148.1 M495.1,140.9 C495.5,141.4 496.6,142.9 497.4,143.7 C498.3,144.5 499.6,145.5 500.1,145.8 M489.4,129.3 C489.6,130.0 490.0,131.9 490.3,133.1 C490.6,134.4 491.2,135.7 491.3,136.9 C491.5,138.2 491.7,139.5 491.4,140.7 C491.1,141.9 490.5,143.2 489.8,144.4 C489.1,145.6 487.4,147.4 487.0,148.0 M491.3,136.9 C491.0,137.2 489.9,138.2 489.3,138.8 C488.7,139.4 488.0,140.1 487.7,140.4 M483.7,128.1 C483.6,128.7 483.3,130.6 483.3,132.0 C483.2,133.3 483.4,134.7 483.4,136.0 C483.3,137.3 483.3,138.6 483.0,139.9 C482.6,141.1 482.0,142.2 481.1,143.3 C480.2,144.3 478.2,145.7 477.7,146.2 M483.0,139.9 C482.4,140.2 480.7,141.3 479.6,141.9 C478.4,142.5 476.8,143.1 476.2,143.4 M479.0,125.8 C478.7,126.3 477.7,128.0 477.2,129.2 C476.7,130.4 476.3,131.7 475.9,133.0 C475.5,134.2 475.2,135.6 474.8,136.9 C474.4,138.1 474.1,139.5 473.4,140.5 C472.7,141.6 471.1,142.9 470.6,143.3 M475.9,133.0 C475.9,133.6 476.0,135.4 475.9,136.5 C475.9,137.6 475.8,139.2 475.8,139.7 M474.9,122.2 C474.4,122.6 472.7,123.6 471.8,124.5 C470.8,125.4 470.1,126.5 469.2,127.4 C468.3,128.3 467.5,129.3 466.5,130.1 C465.4,130.8 464.3,131.4 463.1,132.0 C461.9,132.7 460.1,133.5 459.5,133.7 M466.5,130.1 C465.6,130.0 463.0,130.1 461.6,129.9 C460.2,129.7 458.6,129.2 458.0,129.0 M471.4,117.3 C470.8,117.5 469.1,118.2 467.9,118.5 C466.6,118.9 465.3,119.1 464.1,119.4 C462.9,119.8 461.7,120.2 460.6,120.9 C459.6,121.5 458.6,122.4 457.8,123.4 C456.9,124.5 455.9,126.4 455.5,127.0 M460.6,120.9 C460.5,121.5 459.9,123.7 459.7,124.7 C459.5,125.7 459.5,126.6 459.5,127.0 M468.8,110.9 C468.3,111.1 466.6,112.0 465.5,112.4 C464.4,112.8 463.2,113.1 462.0,113.3 C460.8,113.6 459.7,113.8 458.4,114.0 C457.2,114.1 456.0,114.1 454.8,114.2 C453.5,114.3 451.7,114.3 451.1,114.4 M458.4,114.0 C458.0,113.8 456.5,113.6 455.6,113.3 C454.7,113.0 453.6,112.4 453.2,112.2 M467.3,103.3 C466.7,103.7 464.6,105.2 463.2,105.6 C461.8,106.0 460.3,105.8 458.8,105.6 C457.3,105.3 455.7,104.5 454.2,104.1 C452.7,103.7 450.4,103.2 449.7,103.0 M458.8,105.6 C458.3,105.3 456.5,104.3 455.5,103.8 C454.5,103.2 453.2,102.7 452.8,102.5 M467.0,94.7 C466.3,94.7 464.1,94.4 462.7,94.5 C461.2,94.6 459.8,94.8 458.4,95.2 C456.9,95.5 455.5,96.1 454.1,96.5 C452.6,96.8 450.5,97.1 449.7,97.2 M458.4,95.2 C458.1,94.8 457.2,93.6 456.7,93.1 C456.2,92.5 455.6,92.0 455.4,91.8 M467.5,85.9 C466.7,86.1 464.4,87.2 462.9,87.4 C461.5,87.5 460.1,87.3 458.7,86.8 C457.3,86.4 455.9,85.6 454.6,84.7 C453.3,83.8 451.3,82.0 450.7,81.4 M458.7,86.8 C458.3,86.5 456.9,85.5 456.2,84.8 C455.4,84.0 454.6,82.8 454.3,82.3 M469.0,77.7 C468.3,77.4 466.3,76.5 464.9,76.1 C463.5,75.8 462.0,75.7 460.6,75.6 C459.1,75.5 457.6,75.6 456.1,75.6 C454.6,75.6 452.3,75.6 451.6,75.7 M460.6,75.6 C459.9,75.8 457.8,76.2 456.7,76.6 C455.6,77.0 454.3,77.8 453.8,78.0 M471.7,70.2 C471.2,69.9 469.8,68.7 468.8,68.1 C467.7,67.6 466.6,67.2 465.4,66.9 C464.3,66.6 463.1,66.5 461.9,66.3 C460.6,66.1 459.4,66.0 458.2,65.8 C457.0,65.7 455.2,65.3 454.6,65.2 M465.4,66.9 C464.9,67.2 463.3,68.0 462.3,68.3 C461.3,68.6 460.0,68.7 459.6,68.7 M475.5,63.9 C474.8,63.8 473.0,63.3 471.7,63.0 C470.5,62.6 469.2,62.4 468.2,61.8 C467.1,61.2 466.1,60.5 465.3,59.5 C464.5,58.6 464.0,57.2 463.5,55.9 C462.9,54.6 462.3,52.4 462.1,51.7 M465.3,59.5 C465.2,59.1 464.6,57.6 464.4,56.9 C464.1,56.1 463.9,55.5 463.8,55.2 M479.5,59.9 C479.1,59.4 477.9,58.0 477.2,57.0 C476.5,55.9 476.0,54.8 475.4,53.6 C474.8,52.5 474.4,51.3 473.8,50.2 C473.2,49.1 472.6,48.0 471.8,47.0 C471.1,46.0 469.7,44.8 469.3,44.3 M473.8,50.2 C473.3,50.0 471.8,49.5 471.0,49.3 C470.2,49.1 469.3,49.1 469.0,49.1 M484.2,57.1 C483.9,56.5 483.2,54.8 482.7,53.6 C482.2,52.5 481.6,51.3 481.1,50.2 C480.6,49.1 480.1,47.9 479.6,46.8 C479.1,45.6 478.5,44.5 478.0,43.4 C477.4,42.2 476.5,40.6 476.3,40.0 M481.1,50.2 C481.1,49.7 480.8,48.0 480.9,47.0 C481.0,46.0 481.5,44.8 481.7,44.3 M489.6,55.7 C489.5,55.1 489.3,53.2 489.3,51.9 C489.3,50.7 489.4,49.4 489.5,48.1 C489.5,46.8 489.6,45.5 489.7,44.3 C489.7,43.0 489.7,41.7 489.7,40.5 C489.6,39.2 489.3,37.4 489.2,36.8 M489.5,48.1 C489.8,47.6 490.9,46.1 491.6,45.3 C492.4,44.4 493.5,43.5 493.9,43.1 M496.4,55.7 C496.6,55.1 496.9,53.2 497.3,52.0 C497.7,50.7 498.4,49.5 498.8,48.3 C499.2,47.1 499.7,45.8 499.7,44.6 C499.7,43.3 499.4,42.1 498.9,40.8 C498.3,39.5 496.8,37.6 496.4,36.9 M498.8,48.3 C499.3,47.8 501.0,46.4 501.9,45.5 C502.8,44.7 503.6,43.7 504.0,43.3 M501.6,57.0 C501.8,56.4 502.0,54.5 502.4,53.3 C502.8,52.1 503.6,51.0 504.1,49.9 C504.6,48.7 505.1,47.6 505.3,46.3 C505.6,45.1 505.6,43.8 505.7,42.5 C505.8,41.2 505.8,39.2 505.8,38.5 M504.1,49.9 C503.8,49.4 502.9,47.9 502.5,47.1 C502.2,46.2 501.9,45.3 501.8,44.9 M506.3,59.7 C506.8,59.3 508.7,58.4 509.7,57.5 C510.7,56.7 511.4,55.7 512.1,54.7 C512.8,53.7 513.4,52.5 513.8,51.3 C514.2,50.1 514.5,48.8 514.8,47.5 C515.0,46.1 515.1,44.0 515.2,43.3 M513.8,51.3 C514.3,51.3 515.8,51.2 516.7,51.1 C517.6,51.0 518.6,50.8 519.0,50.7 M510.5,63.9 C511.0,63.5 512.2,62.2 513.2,61.5 C514.2,60.8 515.3,60.2 516.4,59.6 C517.4,59.0 518.5,58.4 519.6,57.7 C520.6,57.1 521.5,56.3 522.4,55.5 C523.3,54.6 524.3,53.1 524.7,52.6 M516.4,59.6 C517.0,59.5 518.9,58.9 519.9,58.8 C520.9,58.6 522.0,58.8 522.4,58.8 M513.9,69.2 C514.5,69.1 516.2,68.7 517.4,68.4 C518.6,68.1 519.8,67.9 520.9,67.5 C522.0,67.1 523.1,66.6 524.1,65.9 C525.1,65.3 525.9,64.4 526.8,63.4 C527.6,62.4 528.6,60.6 529.0,60.0 M520.9,67.5 C521.6,67.7 523.9,68.5 525.1,68.8 C526.3,69.2 527.6,69.4 528.1,69.5 M516.5,75.7 C517.2,75.5 519.3,75.1 520.7,74.6 C522.1,74.1 523.4,73.4 524.7,72.8 C526.0,72.1 527.3,71.3 528.6,70.6 C529.9,70.0 531.9,69.1 532.6,68.8 M518.3,83.8 C519.0,83.9 521.2,83.9 522.7,84.2 C524.1,84.4 525.7,85.1 527.1,85.3 C528.6,85.5 530.1,85.8 531.5,85.3 C532.9,84.8 534.8,83.0 535.5,82.5 M527.1,85.3 C527.4,85.0 528.2,84.5 528.7,83.9 C529.2,83.3 529.8,82.1 530.0,81.7" fill="none" stroke="#7c7c7c" stroke-width="8.4" stroke-linecap="round" stroke-linejoin="round"/>
<path d="M519.0,92.6 C519.7,92.7 521.9,93.1 523.3,93.2 C524.7,93.2 526.2,93.0 527.6,92.8 C529.0,92.6 530.5,92.2 531.9,91.8 C533.3,91.5 535.5,90.8 536.2,90.6 M518.8,101.9 C519.6,101.9 521.8,101.5 523.2,101.7 C524.7,101.8 526.1,102.3 527.5,102.8 C528.9,103.3 530.3,104.2 531.7,104.7 C533.1,105.3 535.2,105.8 535.9,106.0 M527.5,102.8 C528.0,102.4 529.6,101.0 530.5,100.3 C531.4,99.5 532.6,98.6 533.0,98.3 M517.6,109.4 C518.2,109.6 519.9,110.2 521.1,110.4 C522.2,110.6 523.4,110.7 524.7,110.7 C525.9,110.7 527.2,110.5 528.4,110.5 C529.7,110.4 531.0,110.2 532.2,110.4 C533.3,110.6 534.9,111.5 535.5,111.7 M528.4,110.5 C528.8,110.2 530.1,109.4 530.8,109.0 C531.6,108.6 532.5,108.4 532.8,108.3 M515.4,115.8 C515.8,116.3 517.1,117.8 518.1,118.7 C519.0,119.6 519.9,120.4 521.0,121.1 C522.0,121.8 523.1,122.4 524.3,122.8 C525.4,123.2 526.7,123.4 528.1,123.5 C529.4,123.6 531.6,123.4 532.3,123.4 M521.0,121.1 C521.4,121.0 522.7,120.9 523.4,120.6 C524.2,120.3 525.3,119.4 525.7,119.2 M512.2,121.1 C512.7,121.4 514.4,122.4 515.6,122.9 C516.8,123.5 518.1,123.8 519.4,124.4 C520.6,124.9 521.9,125.3 523.0,126.0 C524.1,126.7 525.1,127.5 525.8,128.6 C526.5,129.7 527.1,132.0 527.3,132.7 M519.4,124.4 C519.9,124.4 521.5,124.6 522.5,124.8 C523.4,124.9 524.8,125.2 525.2,125.2 M508.0,125.1 C508.3,125.7 509.4,127.3 510.2,128.3 C511.1,129.3 512.0,130.1 512.9,131.1 C513.8,132.1 514.7,133.0 515.5,134.0 C516.3,135.0 517.0,136.1 517.6,137.2 C518.2,138.4 518.8,140.3 519.1,140.9 M512.9,131.1 C512.9,131.9 512.7,134.2 512.7,135.6 C512.6,137.0 512.5,138.9 512.5,139.6 M502.9,127.9 C503.2,128.5 504.3,130.1 504.8,131.3 C505.4,132.4 505.7,133.7 506.1,134.9 C506.5,136.1 506.8,137.3 507.3,138.5 C507.7,139.7 508.3,140.9 508.8,142.0 C509.3,143.2 510.2,144.9 510.5,145.5 M507.3,138.5 C507.8,138.8 509.5,139.9 510.6,140.4 C511.8,140.9 513.5,141.5 514.1,141.7 M496.9,129.3 C496.9,130.0 497.0,131.8 496.8,133.1 C496.7,134.4 496.3,135.7 496.0,137.0 C495.7,138.3 495.2,139.7 495.1,140.9 C495.0,142.2 495.0,143.5 495.5,144.7 C496.1,145.8 498.0,147.5 498.5,148.1 M495.1,140.9 C495.5,141.4 496.6,142.9 497.4,143.7 C498.3,144.5 499.6,145.5 500.1,145.8 M489.4,129.3 C489.6,130.0 490.0,131.9 490.3,133.1 C490.6,134.4 491.2,135.7 491.3,136.9 C491.5,138.2 491.7,139.5 491.4,140.7 C491.1,141.9 490.5,143.2 489.8,144.4 C489.1,145.6 487.4,147.4 487.0,148.0 M491.3,136.9 C491.0,137.2 489.9,138.2 489.3,138.8 C488.7,139.4 488.0,140.1 487.7,140.4 M483.7,128.1 C483.6,128.7 483.3,130.6 483.3,132.0 C483.2,133.3 483.4,134.7 483.4,136.0 C483.3,137.3 483.3,138.6 483.0,139.9 C482.6,141.1 482.0,142.2 481.1,143.3 C480.2,144.3 478.2,145.7 477.7,146.2 M483.0,139.9 C482.4,140.2 480.7,141.3 479.6,141.9 C478.4,142.5 476.8,143.1 476.2,143.4 M479.0,125.8 C478.7,126.3 477.7,128.0 477.2,129.2 C476.7,130.4 476.3,131.7 475.9,133.0 C475.5,134.2 475.2,135.6 474.8,136.9 C474.4,138.1 474.1,139.5 473.4,140.5 C472.7,141.6 471.1,142.9 470.6,143.3 M475.9,133.0 C475.9,133.6 476.0,135.4 475.9,136.5 C475.9,137.6 475.8,139.2 475.8,139.7 M474.9,122.2 C474.4,122.6 472.7,123.6 471.8,124.5 C470.8,125.4 470.1,126.5 469.2,127.4 C468.3,128.3 467.5,129.3 466.5,130.1 C465.4,130.8 464.3,131.4 463.1,132.0 C461.9,132.7 460.1,133.5 459.5,133.7 M466.5,130.1 C465.6,130.0 463.0,130.1 461.6,129.9 C460.2,129.7 458.6,129.2 458.0,129.0 M471.4,117.3 C470.8,117.5 469.1,118.2 467.9,118.5 C466.6,118.9 465.3,119.1 464.1,119.4 C462.9,119.8 461.7,120.2 460.6,120.9 C459.6,121.5 458.6,122.4 457.8,123.4 C456.9,124.5 455.9,126.4 455.5,127.0 M460.6,120.9 C460.5,121.5 459.9,123.7 459.7,124.7 C459.5,125.7 459.5,126.6 459.5,127.0 M468.8,110.9 C468.3,111.1 466.6,112.0 465.5,112.4 C464.4,112.8 463.2,113.1 462.0,113.3 C460.8,113.6 459.7,113.8 458.4,114.0 C457.2,114.1 456.0,114.1 454.8,114.2 C453.5,114.3 451.7,114.3 451.1,114.4 M458.4,114.0 C458.0,113.8 456.5,113.6 455.6,113.3 C454.7,113.0 453.6,112.4 453.2,112.2 M467.3,103.3 C466.7,103.7 464.6,105.2 463.2,105.6 C461.8,106.0 460.3,105.8 458.8,105.6 C457.3,105.3 455.7,104.5 454.2,104.1 C452.7,103.7 450.4,103.2 449.7,103.0 M458.8,105.6 C458.3,105.3 456.5,104.3 455.5,103.8 C454.5,103.2 453.2,102.7 452.8,102.5 M467.0,94.7 C466.3,94.7 464.1,94.4 462.7,94.5 C461.2,94.6 459.8,94.8 458.4,95.2 C456.9,95.5 455.5,96.1 454.1,96.5 C452.6,96.8 450.5,97.1 449.7,97.2 M458.4,95.2 C458.1,94.8 457.2,93.6 456.7,93.1 C456.2,92.5 455.6,92.0 455.4,91.8 M467.5,85.9 C466.7,86.1 464.4,87.2 462.9,87.4 C461.5,87.5 460.1,87.3 458.7,86.8 C457.3,86.4 455.9,85.6 454.6,84.7 C453.3,83.8 451.3,82.0 450.7,81.4 M458.7,86.8 C458.3,86.5 456.9,85.5 456.2,84.8 C455.4,84.0 454.6,82.8 454.3,82.3 M469.0,77.7 C468.3,77.4 466.3,76.5 464.9,76.1 C463.5,75.8 462.0,75.7 460.6,75.6 C459.1,75.5 457.6,75.6 456.1,75.6 C454.6,75.6 452.3,75.6 451.6,75.7 M460.6,75.6 C459.9,75.8 457.8,76.2 456.7,76.6 C455.6,77.0 454.3,77.8 453.8,78.0 M471.7,70.2 C471.2,69.9 469.8,68.7 468.8,68.1 C467.7,67.6 466.6,67.2 465.4,66.9 C464.3,66.6 463.1,66.5 461.9,66.3 C460.6,66.1 459.4,66.0 458.2,65.8 C457.0,65.7 455.2,65.3 454.6,65.2 M465.4,66.9 C464.9,67.2 463.3,68.0 462.3,68.3 C461.3,68.6 460.0,68.7 459.6,68.7 M475.5,63.9 C474.8,63.8 473.0,63.3 471.7,63.0 C470.5,62.6 469.2,62.4 468.2,61.8 C467.1,61.2 466.1,60.5 465.3,59.5 C464.5,58.6 464.0,57.2 463.5,55.9 C462.9,54.6 462.3,52.4 462.1,51.7 M465.3,59.5 C465.2,59.1 464.6,57.6 464.4,56.9 C464.1,56.1 463.9,55.5 463.8,55.2 M479.5,59.9 C479.1,59.4 477.9,58.0 477.2,57.0 C476.5,55.9 476.0,54.8 475.4,53.6 C474.8,52.5 474.4,51.3 473.8,50.2 C473.2,49.1 472.6,48.0 471.8,47.0 C471.1,46.0 469.7,44.8 469.3,44.3 M473.8,50.2 C473.3,50.0 471.8,49.5 471.0,49.3 C470.2,49.1 469.3,49.1 469.0,49.1 M484.2,57.1 C483.9,56.5 483.2,54.8 482.7,53.6 C482.2,52.5 481.6,51.3 481.1,50.2 C480.6,49.1 480.1,47.9 479.6,46.8 C479.1,45.6 478.5,44.5 478.0,43.4 C477.4,42.2 476.5,40.6 476.3,40.0 M481.1,50.2 C481.1,49.7 480.8,48.0 480.9,47.0 C481.0,46.0 481.5,44.8 481.7,44.3 M489.6,55.7 C489.5,55.1 489.3,53.2 489.3,51.9 C489.3,50.7 489.4,49.4 489.5,48.1 C489.5,46.8 489.6,45.5 489.7,44.3 C489.7,43.0 489.7,41.7 489.7,40.5 C489.6,39.2 489.3,37.4 489.2,36.8 M489.5,48.1 C489.8,47.6 490.9,46.1 491.6,45.3 C492.4,44.4 493.5,43.5 493.9,43.1 M496.4,55.7 C496.6,55.1 496.9,53.2 497.3,52.0 C497.7,50.7 498.4,49.5 498.8,48.3 C499.2,47.1 499.7,45.8 499.7,44.6 C499.7,43.3 499.4,42.1 498.9,40.8 C498.3,39.5 496.8,37.6 496.4,36.9 M498.8,48.3 C499.3,47.8 501.0,46.4 501.9,45.5 C502.8,44.7 503.6,43.7 504.0,43.3 M501.6,57.0 C501.8,56.4 502.0,54.5 502.4,53.3 C502.8,52.1 503.6,51.0 504.1,49.9 C504.6,48.7 505.1,47.6 505.3,46.3 C505.6,45.1 505.6,43.8 505.7,42.5 C505.8,41.2 505.8,39.2 505.8,38.5 M504.1,49.9 C503.8,49.4 502.9,47.9 502.5,47.1 C502.2,46.2 501.9,45.3 501.8,44.9 M506.3,59.7 C506.8,59.3 508.7,58.4 509.7,57.5 C510.7,56.7 511.4,55.7 512.1,54.7 C512.8,53.7 513.4,52.5 513.8,51.3 C514.2,50.1 514.5,48.8 514.8,47.5 C515.0,46.1 515.1,44.0 515.2,43.3 M513.8,51.3 C514.3,51.3 515.8,51.2 516.7,51.1 C517.6,51.0 518.6,50.8 519.0,50.7 M510.5,63.9 C511.0,63.5 512.2,62.2 513.2,61.5 C514.2,60.8 515.3,60.2 516.4,59.6 C517.4,59.0 518.5,58.4 519.6,57.7 C520.6,57.1 521.5,56.3 522.4,55.5 C523.3,54.6 524.3,53.1 524.7,52.6 M516.4,59.6 C517.0,59.5 518.9,58.9 519.9,58.8 C520.9,58.6 522.0,58.8 522.4,58.8 M513.9,69.2 C514.5,69.1 516.2,68.7 517.4,68.4 C518.6,68.1 519.8,67.9 520.9,67.5 C522.0,67.1 523.1,66.6 524.1,65.9 C525.1,65.3 525.9,64.4 526.8,63.4 C527.6,62.4 528.6,60.6 529.0,60.0 M520.9,67.5 C521.6,67.7 523.9,68.5 525.1,68.8 C526.3,69.2 527.6,69.4 528.1,69.5 M516.5,75.7 C517.2,75.5 519.3,75.1 520.7,74.6 C522.1,74.1 523.4,73.4 524.7,72.8 C526.0,72.1 527.3,71.3 528.6,70.6 C529.9,70.0 531.9,69.1 532.6,68.8 M518.3,83.8 C519.0,83.9 521.2,83.9 522.7,84.2 C524.1,84.4 525.7,85.1 527.1,85.3 C528.6,85.5 530.1,85.8 531.5,85.3 C532.9,84.8 534.8,83.0 535.5,82.5 M527.1,85.3 C527.4,85.0 528.2,84.5 528.7,83.9 C529.2,83.3 529.8,82.1 530.0,81.7" fill="none" stroke="#adadad" stroke-width="5.712000000000001" stroke-linecap="round" stroke-linejoin="round"/>
<path d="M519.0,92.6 C519.7,92.7 521.9,93.1 523.3,93.2 C524.7,93.2 526.2,93.0 527.6,92.8 C529.0,92.6 530.5,92.2 531.9,91.8 C533.3,91.5 535.5,90.8 536.2,90.6 M518.8,101.9 C519.6,101.9 521.8,101.5 523.2,101.7 C524.7,101.8 526.1,102.3 527.5,102.8 C528.9,103.3 530.3,104.2 531.7,104.7 C533.1,105.3 535.2,105.8 535.9,106.0 M527.5,102.8 C528.0,102.4 529.6,101.0 530.5,100.3 C531.4,99.5 532.6,98.6 533.0,98.3 M517.6,109.4 C518.2,109.6 519.9,110.2 521.1,110.4 C522.2,110.6 523.4,110.7 524.7,110.7 C525.9,110.7 527.2,110.5 528.4,110.5 C529.7,110.4 531.0,110.2 532.2,110.4 C533.3,110.6 534.9,111.5 535.5,111.7 M528.4,110.5 C528.8,110.2 530.1,109.4 530.8,109.0 C531.6,108.6 532.5,108.4 532.8,108.3 M515.4,115.8 C515.8,116.3 517.1,117.8 518.1,118.7 C519.0,119.6 519.9,120.4 521.0,121.1 C522.0,121.8 523.1,122.4 524.3,122.8 C525.4,123.2 526.7,123.4 528.1,123.5 C529.4,123.6 531.6,123.4 532.3,123.4 M521.0,121.1 C521.4,121.0 522.7,120.9 523.4,120.6 C524.2,120.3 525.3,119.4 525.7,119.2 M512.2,121.1 C512.7,121.4 514.4,122.4 515.6,122.9 C516.8,123.5 518.1,123.8 519.4,124.4 C520.6,124.9 521.9,125.3 523.0,126.0 C524.1,126.7 525.1,127.5 525.8,128.6 C526.5,129.7 527.1,132.0 527.3,132.7 M519.4,124.4 C519.9,124.4 521.5,124.6 522.5,124.8 C523.4,124.9 524.8,125.2 525.2,125.2 M508.0,125.1 C508.3,125.7 509.4,127.3 510.2,128.3 C511.1,129.3 512.0,130.1 512.9,131.1 C513.8,132.1 514.7,133.0 515.5,134.0 C516.3,135.0 517.0,136.1 517.6,137.2 C518.2,138.4 518.8,140.3 519.1,140.9 M512.9,131.1 C512.9,131.9 512.7,134.2 512.7,135.6 C512.6,137.0 512.5,138.9 512.5,139.6 M502.9,127.9 C503.2,128.5 504.3,130.1 504.8,131.3 C505.4,132.4 505.7,133.7 506.1,134.9 C506.5,136.1 506.8,137.3 507.3,138.5 C507.7,139.7 508.3,140.9 508.8,142.0 C509.3,143.2 510.2,144.9 510.5,145.5 M507.3,138.5 C507.8,138.8 509.5,139.9 510.6,140.4 C511.8,140.9 513.5,141.5 514.1,141.7 M496.9,129.3 C496.9,130.0 497.0,131.8 496.8,133.1 C496.7,134.4 496.3,135.7 496.0,137.0 C495.7,138.3 495.2,139.7 495.1,140.9 C495.0,142.2 495.0,143.5 495.5,144.7 C496.1,145.8 498.0,147.5 498.5,148.1 M495.1,140.9 C495.5,141.4 496.6,142.9 497.4,143.7 C498.3,144.5 499.6,145.5 500.1,145.8 M489.4,129.3 C489.6,130.0 490.0,131.9 490.3,133.1 C490.6,134.4 491.2,135.7 491.3,136.9 C491.5,138.2 491.7,139.5 491.4,140.7 C491.1,141.9 490.5,143.2 489.8,144.4 C489.1,145.6 487.4,147.4 487.0,148.0 M491.3,136.9 C491.0,137.2 489.9,138.2 489.3,138.8 C488.7,139.4 488.0,140.1 487.7,140.4 M483.7,128.1 C483.6,128.7 483.3,130.6 483.3,132.0 C483.2,133.3 483.4,134.7 483.4,136.0 C483.3,137.3 483.3,138.6 483.0,139.9 C482.6,141.1 482.0,142.2 481.1,143.3 C480.2,144.3 478.2,145.7 477.7,146.2 M483.0,139.9 C482.4,140.2 480.7,141.3 479.6,141.9 C478.4,142.5 476.8,143.1 476.2,143.4 M479.0,125.8 C478.7,126.3 477.7,128.0 477.2,129.2 C476.7,130.4 476.3,131.7 475.9,133.0 C475.5,134.2 475.2,135.6 474.8,136.9 C474.4,138.1 474.1,139.5 473.4,140.5 C472.7,141.6 471.1,142.9 470.6,143.3 M475.9,133.0 C475.9,133.6 476.0,135.4 475.9,136.5 C475.9,137.6 475.8,139.2 475.8,139.7 M474.9,122.2 C474.4,122.6 472.7,123.6 471.8,124.5 C470.8,125.4 470.1,126.5 469.2,127.4 C468.3,128.3 467.5,129.3 466.5,130.1 C465.4,130.8 464.3,131.4 463.1,132.0 C461.9,132.7 460.1,133.5 459.5,133.7 M466.5,130.1 C465.6,130.0 463.0,130.1 461.6,129.9 C460.2,129.7 458.6,129.2 458.0,129.0 M471.4,117.3 C470.8,117.5 469.1,118.2 467.9,118.5 C466.6,118.9 465.3,119.1 464.1,119.4 C462.9,119.8 461.7,120.2 460.6,120.9 C459.6,121.5 458.6,122.4 457.8,123.4 C456.9,124.5 455.9,126.4 455.5,127.0 M460.6,120.9 C460.5,121.5 459.9,123.7 459.7,124.7 C459.5,125.7 459.5,126.6 459.5,127.0 M468.8,110.9 C468.3,111.1 466.6,112.0 465.5,112.4 C464.4,112.8 463.2,113.1 462.0,113.3 C460.8,113.6 459.7,113.8 458.4,114.0 C457.2,114.1 456.0,114.1 454.8,114.2 C453.5,114.3 451.7,114.3 451.1,114.4 M458.4,114.0 C458.0,113.8 456.5,113.6 455.6,113.3 C454.7,113.0 453.6,112.4 453.2,112.2 M467.3,103.3 C466.7,103.7 464.6,105.2 463.2,105.6 C461.8,106.0 460.3,105.8 458.8,105.6 C457.3,105.3 455.7,104.5 454.2,104.1 C452.7,103.7 450.4,103.2 449.7,103.0 M458.8,105.6 C458.3,105.3 456.5,104.3 455.5,103.8 C454.5,103.2 453.2,102.7 452.8,102.5 M467.0,94.7 C466.3,94.7 464.1,94.4 462.7,94.5 C461.2,94.6 459.8,94.8 458.4,95.2 C456.9,95.5 455.5,96.1 454.1,96.5 C452.6,96.8 450.5,97.1 449.7,97.2 M458.4,95.2 C458.1,94.8 457.2,93.6 456.7,93.1 C456.2,92.5 455.6,92.0 455.4,91.8 M467.5,85.9 C466.7,86.1 464.4,87.2 462.9,87.4 C461.5,87.5 460.1,87.3 458.7,86.8 C457.3,86.4 455.9,85.6 454.6,84.7 C453.3,83.8 451.3,82.0 450.7,81.4 M458.7,86.8 C458.3,86.5 456.9,85.5 456.2,84.8 C455.4,84.0 454.6,82.8 454.3,82.3 M469.0,77.7 C468.3,77.4 466.3,76.5 464.9,76.1 C463.5,75.8 462.0,75.7 460.6,75.6 C459.1,75.5 457.6,75.6 456.1,75.6 C454.6,75.6 452.3,75.6 451.6,75.7 M460.6,75.6 C459.9,75.8 457.8,76.2 456.7,76.6 C455.6,77.0 454.3,77.8 453.8,78.0 M471.7,70.2 C471.2,69.9 469.8,68.7 468.8,68.1 C467.7,67.6 466.6,67.2 465.4,66.9 C464.3,66.6 463.1,66.5 461.9,66.3 C460.6,66.1 459.4,66.0 458.2,65.8 C457.0,65.7 455.2,65.3 454.6,65.2 M465.4,66.9 C464.9,67.2 463.3,68.0 462.3,68.3 C461.3,68.6 460.0,68.7 459.6,68.7 M475.5,63.9 C474.8,63.8 473.0,63.3 471.7,63.0 C470.5,62.6 469.2,62.4 468.2,61.8 C467.1,61.2 466.1,60.5 465.3,59.5 C464.5,58.6 464.0,57.2 463.5,55.9 C462.9,54.6 462.3,52.4 462.1,51.7 M465.3,59.5 C465.2,59.1 464.6,57.6 464.4,56.9 C464.1,56.1 463.9,55.5 463.8,55.2 M479.5,59.9 C479.1,59.4 477.9,58.0 477.2,57.0 C476.5,55.9 476.0,54.8 475.4,53.6 C474.8,52.5 474.4,51.3 473.8,50.2 C473.2,49.1 472.6,48.0 471.8,47.0 C471.1,46.0 469.7,44.8 469.3,44.3 M473.8,50.2 C473.3,50.0 471.8,49.5 471.0,49.3 C470.2,49.1 469.3,49.1 469.0,49.1 M484.2,57.1 C483.9,56.5 483.2,54.8 482.7,53.6 C482.2,52.5 481.6,51.3 481.1,50.2 C480.6,49.1 480.1,47.9 479.6,46.8 C479.1,45.6 478.5,44.5 478.0,43.4 C477.4,42.2 476.5,40.6 476.3,40.0 M481.1,50.2 C481.1,49.7 480.8,48.0 480.9,47.0 C481.0,46.0 481.5,44.8 481.7,44.3 M489.6,55.7 C489.5,55.1 489.3,53.2 489.3,51.9 C489.3,50.7 489.4,49.4 489.5,48.1 C489.5,46.8 489.6,45.5 489.7,44.3 C489.7,43.0 489.7,41.7 489.7,40.5 C489.6,39.2 489.3,37.4 489.2,36.8 M489.5,48.1 C489.8,47.6 490.9,46.1 491.6,45.3 C492.4,44.4 493.5,43.5 493.9,43.1 M496.4,55.7 C496.6,55.1 496.9,53.2 497.3,52.0 C497.7,50.7 498.4,49.5 498.8,48.3 C499.2,47.1 499.7,45.8 499.7,44.6 C499.7,43.3 499.4,42.1 498.9,40.8 C498.3,39.5 496.8,37.6 496.4,36.9 M498.8,48.3 C499.3,47.8 501.0,46.4 501.9,45.5 C502.8,44.7 503.6,43.7 504.0,43.3 M501.6,57.0 C501.8,56.4 502.0,54.5 502.4,53.3 C502.8,52.1 503.6,51.0 504.1,49.9 C504.6,48.7 505.1,47.6 505.3,46.3 C505.6,45.1 505.6,43.8 505.7,42.5 C505.8,41.2 505.8,39.2 505.8,38.5 M504.1,49.9 C503.8,49.4 502.9,47.9 502.5,47.1 C502.2,46.2 501.9,45.3 501.8,44.9 M506.3,59.7 C506.8,59.3 508.7,58.4 509.7,57.5 C510.7,56.7 511.4,55.7 512.1,54.7 C512.8,53.7 513.4,52.5 513.8,51.3 C514.2,50.1 514.5,48.8 514.8,47.5 C515.0,46.1 515.1,44.0 515.2,43.3 M513.8,51.3 C514.3,51.3 515.8,51.2 516.7,51.1 C517.6,51.0 518.6,50.8 519.0,50.7 M510.5,63.9 C511.0,63.5 512.2,62.2 513.2,61.5 C514.2,60.8 515.3,60.2 516.4,59.6 C517.4,59.0 518.5,58.4 519.6,57.7 C520.6,57.1 521.5,56.3 522.4,55.5 C523.3,54.6 524.3,53.1 524.7,52.6 M516.4,59.6 C517.0,59.5 518.9,58.9 519.9,58.8 C520.9,58.6 522.0,58.8 522.4,58.8 M513.9,69.2 C514.5,69.1 516.2,68.7 517.4,68.4 C518.6,68.1 519.8,67.9 520.9,67.5 C522.0,67.1 523.1,66.6 524.1,65.9 C525.1,65.3 525.9,64.4 526.8,63.4 C527.6,62.4 528.6,60.6 529.0,60.0 M520.9,67.5 C521.6,67.7 523.9,68.5 525.1,68.8 C526.3,69.2 527.6,69.4 528.1,69.5 M516.5,75.7 C517.2,75.5 519.3,75.1 520.7,74.6 C522.1,74.1 523.4,73.4 524.7,72.8 C526.0,72.1 527.3,71.3 528.6,70.6 C529.9,70.0 531.9,69.1 532.6,68.8 M518.3,83.8 C519.0,83.9 521.2,83.9 522.7,84.2 C524.1,84.4 525.7,85.1 527.1,85.3 C528.6,85.5 530.1,85.8 531.5,85.3 C532.9,84.8 534.8,83.0 535.5,82.5 M527.1,85.3 C527.4,85.0 528.2,84.5 528.7,83.9 C529.2,83.3 529.8,82.1 530.0,81.7" fill="none" stroke="#e0e0e0" stroke-width="3.4" stroke-linecap="round" stroke-linejoin="round"/>
<path d="M519.0,92.5 C519.1,94.2 519.1,96.1 519.0,97.7 C519.0,99.3 518.9,100.6 518.8,101.9 C518.7,103.3 518.6,104.6 518.4,105.8 C518.2,107.1 517.9,108.3 517.6,109.4 C517.3,110.6 517.0,111.7 516.6,112.8 C516.3,113.8 515.8,114.8 515.4,115.8 C514.9,116.8 514.4,117.7 513.9,118.6 C513.4,119.5 512.8,120.3 512.2,121.1 C511.5,121.9 510.9,122.6 510.2,123.3 C509.5,124.0 508.7,124.6 508.0,125.1 C507.2,125.7 506.4,126.2 505.5,126.7 C504.7,127.2 503.8,127.6 502.9,127.9 C502.0,128.3 501.0,128.6 500.0,128.8 C499.0,129.0 498.0,129.2 496.9,129.3 C495.7,129.4 494.3,129.5 493.0,129.5 C491.7,129.5 490.3,129.4 489.1,129.3 C488.0,129.2 487.0,129.0 486.0,128.8 C485.0,128.6 484.0,128.3 483.1,127.9 C482.2,127.6 481.3,127.2 480.5,126.7 C479.6,126.2 478.8,125.7 478.0,125.1 C477.3,124.6 476.5,124.0 475.8,123.3 C475.1,122.6 474.5,121.9 473.8,121.1 C473.2,120.3 472.6,119.5 472.1,118.6 C471.6,117.7 471.1,116.8 470.6,115.8 C470.2,114.8 469.7,113.8 469.4,112.8 C469.0,111.7 468.7,110.6 468.4,109.4 C468.1,108.3 467.8,107.1 467.6,105.8 C467.4,104.6 467.3,103.3 467.2,101.9 C467.1,100.6 467.0,99.3 467.0,97.7 C466.9,96.1 466.9,94.2 467.0,92.5 C467.1,90.8 467.2,88.9 467.3,87.3 C467.4,85.7 467.6,84.4 467.8,83.1 C468.0,81.7 468.3,80.4 468.6,79.2 C468.9,77.9 469.2,76.7 469.6,75.6 C469.9,74.4 470.3,73.3 470.7,72.2 C471.2,71.2 471.6,70.2 472.1,69.2 C472.6,68.2 473.2,67.3 473.7,66.4 C474.3,65.5 474.9,64.7 475.5,63.9 C476.1,63.1 476.7,62.4 477.4,61.7 C478.1,61.0 478.8,60.4 479.5,59.9 C480.2,59.3 481.0,58.8 481.8,58.3 C482.5,57.8 483.3,57.4 484.2,57.1 C485.0,56.7 485.9,56.4 486.8,56.2 C487.7,56.0 488.5,55.8 489.6,55.7 C490.6,55.6 491.9,55.5 493.0,55.5 C494.1,55.5 495.4,55.6 496.4,55.7 C497.5,55.8 498.3,56.0 499.2,56.2 C500.1,56.4 501.0,56.7 501.8,57.1 C502.7,57.4 503.5,57.8 504.2,58.3 C505.0,58.8 505.8,59.3 506.5,59.9 C507.2,60.4 507.9,61.0 508.6,61.7 C509.3,62.4 509.9,63.1 510.5,63.9 C511.1,64.7 511.7,65.5 512.3,66.4 C512.8,67.3 513.4,68.2 513.9,69.2 C514.4,70.2 514.8,71.2 515.3,72.2 C515.7,73.3 516.1,74.4 516.4,75.6 C516.8,76.7 517.1,77.9 517.4,79.2 C517.7,80.4 518.0,81.7 518.2,83.1 C518.4,84.4 518.6,85.7 518.7,87.3 C518.8,88.9 518.9,90.8 519.0,92.5Z" fill="#e2e2e2" stroke="#e2e2e2" stroke-width="3.4" stroke-linejoin="round" filter="url(#soft2)"/>
<path d="M493.3,30 C492.8,50 493.8,80 493.2,101" stroke="#050505" stroke-width="2.0" fill="none"/>
<g filter="url(#soft2)"><path d="M468,70 C472,64 478,66 479,74 C480,82 478,92 474,96 C469,95 466,88 466,80 C466,76 467,72 468,70 Z" fill="#a8a8a8"/><path d="M518,70 C514,64 508,66 507,74 C506,82 508,92 512,96 C517,95 520,88 520,80 C520,76 519,72 518,70 Z" fill="#a8a8a8"/><path d="M484,66 C488,66 490,70 490,76 C490,84 489,94 486,98 C483,96 482,88 482,80 C482,74 482,68 484,66 Z" fill="#b4b4b4"/><path d="M502,66 C498,66 496,70 496,76 C496,84 497,94 500,98 C503,96 504,88 504,80 C504,74 504,68 502,66 Z" fill="#b4b4b4"/></g>
<path d="M491,100 C492.5,99 494,99 495.5,100 C500,106 501,118 497,125 C494,127 490,125 488,119 C486.5,112 488,104 491,100 Z" fill="#030303"/>
<path d="M455,73 L462,74 L460,78 L454,77 Z" fill="#050505"/>
<path d="M531,73 L524,74 L526,78 L532,77 Z" fill="#050505"/>
<path d="M493.2,126 L493.5,153" stroke="#080808" stroke-width="1.8"/>
<path d="M476,150 C477,142 474,134 478,126 M484,151 C486,143 483,136 485,129 M502,151 C500,143 503,136 501,129 M510,150 C509,142 512,134 508,126 M470,142 C474,138 476,132 474,124 M516,142 C512,138 510,132 512,124 M478,126 C481,122 484,121 486,118 M508,126 C505,122 502,121 500,118" fill="none" stroke="#a0a0a0" stroke-width="4.2" stroke-linecap="round"/>
<path d="M476,150 C477,142 474,134 478,126 M484,151 C486,143 483,136 485,129 M502,151 C500,143 503,136 501,129 M510,150 C509,142 512,134 508,126 M470,142 C474,138 476,132 474,124 M516,142 C512,138 510,132 512,124 M478,126 C481,122 484,121 486,118 M508,126 C505,122 502,121 500,118" fill="none" stroke="#3c3c3c" stroke-width="1.4" stroke-linecap="round"/></g>
<path d="M455,111 L458,109 L462,110 L465,109.5 L467,112 L469,113 L470,117 L468,119 L469.5,123 L467,125 L466,128 L463,126 L461,127 L459,124 L456.5,122 L457,119 L455,116 Z" fill="#18e6e6" opacity="0.92" filter="url(#soft)"/>
<path d="M465,117 L468,116 L470.5,117.5 L471.5,121 L470.5,124 L471.5,128 L470,133 L467,133.5 L466.5,129 L464.5,127 L465.5,123 Z" fill="#d820e0" opacity="0.9" filter="url(#soft)"/>
<path d="M518.5,120 L524,117 L530,117.5 L533,121 L532,126 L528,129 L521,127.5 Z" fill="#e018e8" filter="url(#soft)"/>
<path d="M522,122.5 L527,121.5 L528.5,125 L524,126.5 Z" fill="#40d0e0" filter="url(#soft)"/>
<defs><clipPath id="fl"><path d="M608.3,54.5 C608.3,55.6 608.2,56.7 608.1,57.7 C608.0,58.7 607.9,59.6 607.7,60.5 C607.5,61.4 607.3,62.2 607.1,63.0 C606.9,63.8 606.6,64.6 606.3,65.3 C606.0,66.0 605.7,66.7 605.3,67.3 C605.0,67.9 604.6,68.4 604.2,68.9 C603.8,69.4 603.4,69.9 603.0,70.3 C602.5,70.6 602.1,71.0 601.6,71.2 C601.1,71.5 600.6,71.7 600.1,71.8 C599.5,71.9 598.9,72.0 598.3,72.0 C597.7,72.0 597.1,71.9 596.5,71.8 C596.0,71.7 595.5,71.5 595.0,71.2 C594.5,71.0 594.1,70.6 593.6,70.3 C593.2,69.9 592.8,69.4 592.4,68.9 C592.0,68.4 591.6,67.9 591.3,67.3 C590.9,66.7 590.6,66.0 590.3,65.3 C590.0,64.6 589.7,63.8 589.5,63.0 C589.3,62.2 589.1,61.4 588.9,60.5 C588.7,59.6 588.6,58.7 588.5,57.7 C588.4,56.7 588.3,55.6 588.3,54.5 C588.3,53.4 588.3,52.3 588.3,51.3 C588.4,50.3 588.5,49.4 588.6,48.5 C588.7,47.6 588.9,46.8 589.1,46.0 C589.3,45.2 589.5,44.4 589.8,43.7 C590.1,43.0 590.4,42.3 590.7,41.7 C591.1,41.1 591.5,40.6 591.9,40.1 C592.3,39.6 592.7,39.1 593.2,38.7 C593.7,38.4 594.2,38.0 594.7,37.8 C595.2,37.5 595.8,37.3 596.4,37.2 C597.0,37.1 597.7,37.0 598.3,37.0 C598.9,37.0 599.6,37.1 600.2,37.2 C600.8,37.3 601.4,37.5 601.9,37.8 C602.4,38.0 602.9,38.4 603.4,38.7 C603.9,39.1 604.3,39.6 604.7,40.1 C605.1,40.6 605.5,41.1 605.9,41.7 C606.2,42.3 606.5,43.0 606.8,43.7 C607.1,44.4 607.3,45.2 607.5,46.0 C607.7,46.8 607.9,47.6 608.0,48.5 C608.1,49.4 608.2,50.3 608.3,51.3 C608.3,52.3 608.3,53.4 608.3,54.5Z"/><path d="M629.7,54.5 C629.7,55.6 629.6,56.7 629.5,57.7 C629.4,58.7 629.3,59.6 629.1,60.5 C628.9,61.4 628.7,62.2 628.5,63.0 C628.3,63.8 628.0,64.6 627.7,65.3 C627.4,66.0 627.1,66.7 626.7,67.3 C626.4,67.9 626.0,68.4 625.6,68.9 C625.2,69.4 624.8,69.9 624.4,70.3 C623.9,70.6 623.5,71.0 623.0,71.2 C622.5,71.5 622.0,71.7 621.5,71.8 C620.9,71.9 620.3,72.0 619.7,72.0 C619.1,72.0 618.5,71.9 617.9,71.8 C617.4,71.7 616.9,71.5 616.4,71.2 C615.9,71.0 615.5,70.6 615.0,70.3 C614.6,69.9 614.2,69.4 613.8,68.9 C613.4,68.4 613.0,67.9 612.7,67.3 C612.3,66.7 612.0,66.0 611.7,65.3 C611.4,64.6 611.1,63.8 610.9,63.0 C610.7,62.2 610.5,61.4 610.3,60.5 C610.1,59.6 610.0,58.7 609.9,57.7 C609.8,56.7 609.7,55.6 609.7,54.5 C609.7,53.4 609.7,52.3 609.7,51.3 C609.8,50.3 609.9,49.4 610.0,48.5 C610.1,47.6 610.3,46.8 610.5,46.0 C610.7,45.2 610.9,44.4 611.2,43.7 C611.5,43.0 611.8,42.3 612.1,41.7 C612.5,41.1 612.9,40.6 613.3,40.1 C613.7,39.6 614.1,39.1 614.6,38.7 C615.1,38.4 615.6,38.0 616.1,37.8 C616.6,37.5 617.2,37.3 617.8,37.2 C618.4,37.1 619.1,37.0 619.7,37.0 C620.3,37.0 621.0,37.1 621.6,37.2 C622.2,37.3 622.8,37.5 623.3,37.8 C623.8,38.0 624.3,38.4 624.8,38.7 C625.3,39.1 625.7,39.6 626.1,40.1 C626.5,40.6 626.9,41.1 627.3,41.7 C627.6,42.3 627.9,43.0 628.2,43.7 C628.5,44.4 628.7,45.2 628.9,46.0 C629.1,46.8 629.3,47.6 629.4,48.5 C629.5,49.4 629.6,50.3 629.7,51.3 C629.7,52.3 629.7,53.4 629.7,54.5Z"/></clipPath></defs>
<g filter="url(#warp2)"><g clip-path="url(#fl)"><path d="M608.3,54.5 C608.3,55.6 608.2,56.7 608.1,57.7 C608.0,58.7 607.9,59.6 607.7,60.5 C607.5,61.4 607.3,62.2 607.1,63.0 C606.9,63.8 606.6,64.6 606.3,65.3 C606.0,66.0 605.7,66.7 605.3,67.3 C605.0,67.9 604.6,68.4 604.2,68.9 C603.8,69.4 603.4,69.9 603.0,70.3 C602.5,70.6 602.1,71.0 601.6,71.2 C601.1,71.5 600.6,71.7 600.1,71.8 C599.5,71.9 598.9,72.0 598.3,72.0 C597.7,72.0 597.1,71.9 596.5,71.8 C596.0,71.7 595.5,71.5 595.0,71.2 C594.5,71.0 594.1,70.6 593.6,70.3 C593.2,69.9 592.8,69.4 592.4,68.9 C592.0,68.4 591.6,67.9 591.3,67.3 C590.9,66.7 590.6,66.0 590.3,65.3 C590.0,64.6 589.7,63.8 589.5,63.0 C589.3,62.2 589.1,61.4 588.9,60.5 C588.7,59.6 588.6,58.7 588.5,57.7 C588.4,56.7 588.3,55.6 588.3,54.5 C588.3,53.4 588.3,52.3 588.3,51.3 C588.4,50.3 588.5,49.4 588.6,48.5 C588.7,47.6 588.9,46.8 589.1,46.0 C589.3,45.2 589.5,44.4 589.8,43.7 C590.1,43.0 590.4,42.3 590.7,41.7 C591.1,41.1 591.5,40.6 591.9,40.1 C592.3,39.6 592.7,39.1 593.2,38.7 C593.7,38.4 594.2,38.0 594.7,37.8 C595.2,37.5 595.8,37.3 596.4,37.2 C597.0,37.1 597.7,37.0 598.3,37.0 C598.9,37.0 599.6,37.1 600.2,37.2 C600.8,37.3 601.4,37.5 601.9,37.8 C602.4,38.0 602.9,38.4 603.4,38.7 C603.9,39.1 604.3,39.6 604.7,40.1 C605.1,40.6 605.5,41.1 605.9,41.7 C606.2,42.3 606.5,43.0 606.8,43.7 C607.1,44.4 607.3,45.2 607.5,46.0 C607.7,46.8 607.9,47.6 608.0,48.5 C608.1,49.4 608.2,50.3 608.3,51.3 C608.3,52.3 608.3,53.4 608.3,54.5Z" fill="#4a4a4a"/><path d="M629.7,54.5 C629.7,55.6 629.6,56.7 629.5,57.7 C629.4,58.7 629.3,59.6 629.1,60.5 C628.9,61.4 628.7,62.2 628.5,63.0 C628.3,63.8 628.0,64.6 627.7,65.3 C627.4,66.0 627.1,66.7 626.7,67.3 C626.4,67.9 626.0,68.4 625.6,68.9 C625.2,69.4 624.8,69.9 624.4,70.3 C623.9,70.6 623.5,71.0 623.0,71.2 C622.5,71.5 622.0,71.7 621.5,71.8 C620.9,71.9 620.3,72.0 619.7,72.0 C619.1,72.0 618.5,71.9 617.9,71.8 C617.4,71.7 616.9,71.5 616.4,71.2 C615.9,71.0 615.5,70.6 615.0,70.3 C614.6,69.9 614.2,69.4 613.8,68.9 C613.4,68.4 613.0,67.9 612.7,67.3 C612.3,66.7 612.0,66.0 611.7,65.3 C611.4,64.6 611.1,63.8 610.9,63.0 C610.7,62.2 610.5,61.4 610.3,60.5 C610.1,59.6 610.0,58.7 609.9,57.7 C609.8,56.7 609.7,55.6 609.7,54.5 C609.7,53.4 609.7,52.3 609.7,51.3 C609.8,50.3 609.9,49.4 610.0,48.5 C610.1,47.6 610.3,46.8 610.5,46.0 C610.7,45.2 610.9,44.4 611.2,43.7 C611.5,43.0 611.8,42.3 612.1,41.7 C612.5,41.1 612.9,40.6 613.3,40.1 C613.7,39.6 614.1,39.1 614.6,38.7 C615.1,38.4 615.6,38.0 616.1,37.8 C616.6,37.5 617.2,37.3 617.8,37.2 C618.4,37.1 619.1,37.0 619.7,37.0 C620.3,37.0 621.0,37.1 621.6,37.2 C622.2,37.3 622.8,37.5 623.3,37.8 C623.8,38.0 624.3,38.4 624.8,38.7 C625.3,39.1 625.7,39.6 626.1,40.1 C626.5,40.6 626.9,41.1 627.3,41.7 C627.6,42.3 627.9,43.0 628.2,43.7 C628.5,44.4 628.7,45.2 628.9,46.0 C629.1,46.8 629.3,47.6 629.4,48.5 C629.5,49.4 629.6,50.3 629.7,51.3 C629.7,52.3 629.7,53.4 629.7,54.5Z" fill="#4a4a4a"/><path d="M591.5,30 C590.7,45 592.3,58 591.1,80 M598.0,30 C598.1,45 597.9,58 598.1,80 M604.5,30 C604.1,45 604.9,58 604.3,80 M613.5,30 C613.8,45 613.2,58 613.7,80 M620.0,30 C620.4,45 619.6,58 620.2,80 M626.5,30 C625.2,45 627.8,58 625.8,80" fill="none" stroke="#9a9a9a" stroke-width="5.4"/><path d="M591.5,30 C590.7,45 592.3,58 591.1,80 M598.0,30 C598.1,45 597.9,58 598.1,80 M604.5,30 C604.1,45 604.9,58 604.3,80 M613.5,30 C613.8,45 613.2,58 613.7,80 M620.0,30 C620.4,45 619.6,58 620.2,80 M626.5,30 C625.2,45 627.8,58 625.8,80" fill="none" stroke="#c0c0c0" stroke-width="3.8"/><path d="M591.5,30 C590.7,45 592.3,58 591.1,80 M598.0,30 C598.1,45 597.9,58 598.1,80 M604.5,30 C604.1,45 604.9,58 604.3,80 M613.5,30 C613.8,45 613.2,58 613.7,80 M620.0,30 C620.4,45 619.6,58 620.2,80 M626.5,30 C625.2,45 627.8,58 625.8,80" fill="none" stroke="#e4e4e4" stroke-width="1.8"/></g>
<path d="M589,66 C595,71 603,71 607.5,69.5 M610.5,69.5 C615,71 623,71 629,66" fill="none" stroke="#a4a4a4" stroke-width="3" stroke-linecap="round"/>
<ellipse cx="583" cy="55" rx="5" ry="4.5" fill="#a8a8a8"/>
<ellipse cx="637" cy="53" rx="5.5" ry="6" fill="#a8a8a8"/>
<path d="M585.4,91.0 C586.2,91.1 588.7,91.3 590.1,91.9 C591.5,92.5 592.7,93.7 593.9,94.8 C595.2,95.8 596.9,97.7 597.5,98.3 M590.1,91.9 C590.5,91.8 591.9,91.2 592.7,91.0 C593.5,90.8 594.4,90.7 594.8,90.7 M582.4,101.3 C583.1,101.3 585.3,100.7 586.6,100.9 C588.0,101.1 589.2,101.7 590.3,102.4 C591.5,103.1 592.5,104.5 593.6,105.2 C594.8,106.0 596.6,106.7 597.2,107.0 M590.3,102.4 C590.5,102.7 591.1,103.7 591.5,104.3 C591.8,104.9 592.1,105.7 592.2,106.0 M580.0,110.0 C580.6,110.3 582.5,111.0 583.7,111.7 C584.9,112.4 585.9,113.5 587.1,114.2 C588.3,114.9 589.5,115.7 590.8,115.8 C592.2,116.0 594.5,115.0 595.2,114.9 M587.1,114.2 C587.4,114.7 588.5,116.5 589.1,117.4 C589.6,118.4 590.2,119.3 590.5,119.7 M577.5,117.6 C578.1,117.7 579.8,118.0 581.0,118.2 C582.2,118.3 583.4,118.3 584.6,118.4 C585.8,118.5 587.0,118.6 588.2,118.9 C589.3,119.1 590.9,119.8 591.5,120.0 M584.6,118.4 C585.1,118.2 586.6,117.5 587.4,117.3 C588.2,117.1 589.2,117.4 589.5,117.4 M576.0,122.0 C576.8,122.1 579.5,121.7 580.6,122.7 C581.8,123.7 582.3,127.0 582.6,127.8 M580.6,122.7 C580.8,123.0 581.3,123.7 581.5,124.2 C581.8,124.6 582.1,125.3 582.2,125.5 M576.0,122.0 C575.9,122.3 575.0,123.2 575.3,123.8 C575.5,124.4 577.3,125.3 577.7,125.6 M576.0,122.0 C575.5,122.1 574.1,122.6 573.1,122.3 C572.2,122.0 570.6,120.6 570.1,120.3 M576.9,119.2 C576.4,118.8 574.7,117.4 573.5,117.0 C572.2,116.6 570.7,116.8 569.3,116.8 C567.9,116.9 565.7,117.3 564.9,117.4 M569.3,116.8 C569.0,117.1 567.9,117.9 567.2,118.3 C566.5,118.8 565.4,119.3 565.1,119.5 M579.3,112.0 C578.8,111.4 577.1,109.7 575.9,108.8 C574.8,107.9 573.5,107.1 572.2,106.6 C570.9,106.1 569.6,105.7 568.1,105.5 C566.7,105.4 564.3,105.9 563.5,105.9 M572.2,106.6 C571.7,106.9 570.0,108.0 569.1,108.5 C568.1,109.0 567.0,109.3 566.6,109.5 M582.0,102.8 C581.4,102.6 579.5,101.9 578.2,101.5 C576.9,101.1 575.7,100.8 574.4,100.4 C573.1,100.0 571.8,99.7 570.5,99.3 C569.3,98.9 568.0,98.4 566.8,97.9 C565.5,97.4 563.6,96.7 563.0,96.5 M574.4,100.4 C573.9,100.6 572.3,101.2 571.3,101.5 C570.4,101.8 569.3,102.0 568.9,102.1 M584.4,94.3 C583.9,93.8 582.4,92.4 581.3,91.6 C580.3,90.9 579.2,90.3 578.1,89.8 C576.9,89.3 575.8,88.9 574.6,88.7 C573.4,88.4 572.2,88.3 570.9,88.3 C569.7,88.3 568.4,88.5 567.1,88.7 C565.7,88.9 563.7,89.5 563.0,89.7 M586.4,88.5 C585.9,88.1 584.4,86.8 583.4,86.1 C582.3,85.4 581.2,84.8 580.1,84.2 C579.0,83.6 577.8,83.0 576.7,82.5 C575.5,82.0 574.4,81.6 573.1,81.2 C571.9,80.9 570.7,80.6 569.4,80.4 C568.1,80.2 566.1,80.1 565.5,80.0 M576.7,82.5 C576.3,81.9 575.2,79.8 574.6,78.9 C573.9,77.9 573.1,77.1 572.9,76.7 M589.9,80.2 C589.3,80.0 587.6,79.6 586.5,79.1 C585.4,78.6 584.4,77.9 583.4,77.2 C582.4,76.5 581.4,75.8 580.5,75.1 C579.5,74.4 578.5,73.6 577.4,73.1 C576.4,72.5 575.3,72.1 574.1,71.8 C572.9,71.5 571.0,71.5 570.4,71.4 M583.4,77.2 C582.7,77.5 580.5,78.4 579.2,79.0 C577.8,79.7 576.1,80.7 575.5,81.1 M592.0,75.0 C591.3,74.8 589.4,74.2 588.1,73.8 C586.8,73.3 585.4,73.0 584.3,72.2 C583.1,71.5 582.1,70.5 581.1,69.5 C580.2,68.4 578.9,66.5 578.4,65.9 M588.1,73.8 C587.9,73.3 587.5,71.6 587.1,70.8 C586.8,70.0 586.2,69.3 586.0,69.0 M592.0,75.0 C591.5,74.4 589.9,72.8 589.1,71.4 C588.4,70.0 587.9,67.5 587.7,66.7 M589.1,71.4 C588.9,71.3 588.0,71.0 587.4,70.8 C586.9,70.7 586.2,70.6 585.9,70.6 M592.0,75.0 C591.9,74.8 591.9,74.4 591.6,74.0 C591.3,73.7 590.4,73.1 590.1,72.9 M591.3,76.8 C591.6,76.9 592.5,77.7 593.3,77.7 C594.2,77.7 595.7,77.0 596.1,76.9 M588.5,83.5 C589.3,83.8 591.7,84.4 593.1,85.4 C594.5,86.3 596.3,88.6 596.9,89.2 M593.1,85.4 C593.2,85.6 593.6,86.4 593.8,86.8 C594.0,87.2 594.1,87.7 594.2,87.8 M592.0,75.0 C590.8,77.8 587.0,86.2 585.0,92.0 C583.0,97.8 581.5,105.0 580.0,110.0 C578.5,115.0 576.7,120.0 576.0,122.0" fill="none" stroke="#7c7c7c" stroke-width="8.0" stroke-linecap="round" stroke-linejoin="round"/>
<path d="M585.4,91.0 C586.2,91.1 588.7,91.3 590.1,91.9 C591.5,92.5 592.7,93.7 593.9,94.8 C595.2,95.8 596.9,97.7 597.5,98.3 M590.1,91.9 C590.5,91.8 591.9,91.2 592.7,91.0 C593.5,90.8 594.4,90.7 594.8,90.7 M582.4,101.3 C583.1,101.3 585.3,100.7 586.6,100.9 C588.0,101.1 589.2,101.7 590.3,102.4 C591.5,103.1 592.5,104.5 593.6,105.2 C594.8,106.0 596.6,106.7 597.2,107.0 M590.3,102.4 C590.5,102.7 591.1,103.7 591.5,104.3 C591.8,104.9 592.1,105.7 592.2,106.0 M580.0,110.0 C580.6,110.3 582.5,111.0 583.7,111.7 C584.9,112.4 585.9,113.5 587.1,114.2 C588.3,114.9 589.5,115.7 590.8,115.8 C592.2,116.0 594.5,115.0 595.2,114.9 M587.1,114.2 C587.4,114.7 588.5,116.5 589.1,117.4 C589.6,118.4 590.2,119.3 590.5,119.7 M577.5,117.6 C578.1,117.7 579.8,118.0 581.0,118.2 C582.2,118.3 583.4,118.3 584.6,118.4 C585.8,118.5 587.0,118.6 588.2,118.9 C589.3,119.1 590.9,119.8 591.5,120.0 M584.6,118.4 C585.1,118.2 586.6,117.5 587.4,117.3 C588.2,117.1 589.2,117.4 589.5,117.4 M576.0,122.0 C576.8,122.1 579.5,121.7 580.6,122.7 C581.8,123.7 582.3,127.0 582.6,127.8 M580.6,122.7 C580.8,123.0 581.3,123.7 581.5,124.2 C581.8,124.6 582.1,125.3 582.2,125.5 M576.0,122.0 C575.9,122.3 575.0,123.2 575.3,123.8 C575.5,124.4 577.3,125.3 577.7,125.6 M576.0,122.0 C575.5,122.1 574.1,122.6 573.1,122.3 C572.2,122.0 570.6,120.6 570.1,120.3 M576.9,119.2 C576.4,118.8 574.7,117.4 573.5,117.0 C572.2,116.6 570.7,116.8 569.3,116.8 C567.9,116.9 565.7,117.3 564.9,117.4 M569.3,116.8 C569.0,117.1 567.9,117.9 567.2,118.3 C566.5,118.8 565.4,119.3 565.1,119.5 M579.3,112.0 C578.8,111.4 577.1,109.7 575.9,108.8 C574.8,107.9 573.5,107.1 572.2,106.6 C570.9,106.1 569.6,105.7 568.1,105.5 C566.7,105.4 564.3,105.9 563.5,105.9 M572.2,106.6 C571.7,106.9 570.0,108.0 569.1,108.5 C568.1,109.0 567.0,109.3 566.6,109.5 M582.0,102.8 C581.4,102.6 579.5,101.9 578.2,101.5 C576.9,101.1 575.7,100.8 574.4,100.4 C573.1,100.0 571.8,99.7 570.5,99.3 C569.3,98.9 568.0,98.4 566.8,97.9 C565.5,97.4 563.6,96.7 563.0,96.5 M574.4,100.4 C573.9,100.6 572.3,101.2 571.3,101.5 C570.4,101.8 569.3,102.0 568.9,102.1 M584.4,94.3 C583.9,93.8 582.4,92.4 581.3,91.6 C580.3,90.9 579.2,90.3 578.1,89.8 C576.9,89.3 575.8,88.9 574.6,88.7 C573.4,88.4 572.2,88.3 570.9,88.3 C569.7,88.3 568.4,88.5 567.1,88.7 C565.7,88.9 563.7,89.5 563.0,89.7 M586.4,88.5 C585.9,88.1 584.4,86.8 583.4,86.1 C582.3,85.4 581.2,84.8 580.1,84.2 C579.0,83.6 577.8,83.0 576.7,82.5 C575.5,82.0 574.4,81.6 573.1,81.2 C571.9,80.9 570.7,80.6 569.4,80.4 C568.1,80.2 566.1,80.1 565.5,80.0 M576.7,82.5 C576.3,81.9 575.2,79.8 574.6,78.9 C573.9,77.9 573.1,77.1 572.9,76.7 M589.9,80.2 C589.3,80.0 587.6,79.6 586.5,79.1 C585.4,78.6 584.4,77.9 583.4,77.2 C582.4,76.5 581.4,75.8 580.5,75.1 C579.5,74.4 578.5,73.6 577.4,73.1 C576.4,72.5 575.3,72.1 574.1,71.8 C572.9,71.5 571.0,71.5 570.4,71.4 M583.4,77.2 C582.7,77.5 580.5,78.4 579.2,79.0 C577.8,79.7 576.1,80.7 575.5,81.1 M592.0,75.0 C591.3,74.8 589.4,74.2 588.1,73.8 C586.8,73.3 585.4,73.0 584.3,72.2 C583.1,71.5 582.1,70.5 581.1,69.5 C580.2,68.4 578.9,66.5 578.4,65.9 M588.1,73.8 C587.9,73.3 587.5,71.6 587.1,70.8 C586.8,70.0 586.2,69.3 586.0,69.0 M592.0,75.0 C591.5,74.4 589.9,72.8 589.1,71.4 C588.4,70.0 587.9,67.5 587.7,66.7 M589.1,71.4 C588.9,71.3 588.0,71.0 587.4,70.8 C586.9,70.7 586.2,70.6 585.9,70.6 M592.0,75.0 C591.9,74.8 591.9,74.4 591.6,74.0 C591.3,73.7 590.4,73.1 590.1,72.9 M591.3,76.8 C591.6,76.9 592.5,77.7 593.3,77.7 C594.2,77.7 595.7,77.0 596.1,76.9 M588.5,83.5 C589.3,83.8 591.7,84.4 593.1,85.4 C594.5,86.3 596.3,88.6 596.9,89.2 M593.1,85.4 C593.2,85.6 593.6,86.4 593.8,86.8 C594.0,87.2 594.1,87.7 594.2,87.8 M592.0,75.0 C590.8,77.8 587.0,86.2 585.0,92.0 C583.0,97.8 581.5,105.0 580.0,110.0 C578.5,115.0 576.7,120.0 576.0,122.0" fill="none" stroke="#adadad" stroke-width="5.6" stroke-linecap="round" stroke-linejoin="round"/>
<path d="M585.4,91.0 C586.2,91.1 588.7,91.3 590.1,91.9 C591.5,92.5 592.7,93.7 593.9,94.8 C595.2,95.8 596.9,97.7 597.5,98.3 M590.1,91.9 C590.5,91.8 591.9,91.2 592.7,91.0 C593.5,90.8 594.4,90.7 594.8,90.7 M582.4,101.3 C583.1,101.3 585.3,100.7 586.6,100.9 C588.0,101.1 589.2,101.7 590.3,102.4 C591.5,103.1 592.5,104.5 593.6,105.2 C594.8,106.0 596.6,106.7 597.2,107.0 M590.3,102.4 C590.5,102.7 591.1,103.7 591.5,104.3 C591.8,104.9 592.1,105.7 592.2,106.0 M580.0,110.0 C580.6,110.3 582.5,111.0 583.7,111.7 C584.9,112.4 585.9,113.5 587.1,114.2 C588.3,114.9 589.5,115.7 590.8,115.8 C592.2,116.0 594.5,115.0 595.2,114.9 M587.1,114.2 C587.4,114.7 588.5,116.5 589.1,117.4 C589.6,118.4 590.2,119.3 590.5,119.7 M577.5,117.6 C578.1,117.7 579.8,118.0 581.0,118.2 C582.2,118.3 583.4,118.3 584.6,118.4 C585.8,118.5 587.0,118.6 588.2,118.9 C589.3,119.1 590.9,119.8 591.5,120.0 M584.6,118.4 C585.1,118.2 586.6,117.5 587.4,117.3 C588.2,117.1 589.2,117.4 589.5,117.4 M576.0,122.0 C576.8,122.1 579.5,121.7 580.6,122.7 C581.8,123.7 582.3,127.0 582.6,127.8 M580.6,122.7 C580.8,123.0 581.3,123.7 581.5,124.2 C581.8,124.6 582.1,125.3 582.2,125.5 M576.0,122.0 C575.9,122.3 575.0,123.2 575.3,123.8 C575.5,124.4 577.3,125.3 577.7,125.6 M576.0,122.0 C575.5,122.1 574.1,122.6 573.1,122.3 C572.2,122.0 570.6,120.6 570.1,120.3 M576.9,119.2 C576.4,118.8 574.7,117.4 573.5,117.0 C572.2,116.6 570.7,116.8 569.3,116.8 C567.9,116.9 565.7,117.3 564.9,117.4 M569.3,116.8 C569.0,117.1 567.9,117.9 567.2,118.3 C566.5,118.8 565.4,119.3 565.1,119.5 M579.3,112.0 C578.8,111.4 577.1,109.7 575.9,108.8 C574.8,107.9 573.5,107.1 572.2,106.6 C570.9,106.1 569.6,105.7 568.1,105.5 C566.7,105.4 564.3,105.9 563.5,105.9 M572.2,106.6 C571.7,106.9 570.0,108.0 569.1,108.5 C568.1,109.0 567.0,109.3 566.6,109.5 M582.0,102.8 C581.4,102.6 579.5,101.9 578.2,101.5 C576.9,101.1 575.7,100.8 574.4,100.4 C573.1,100.0 571.8,99.7 570.5,99.3 C569.3,98.9 568.0,98.4 566.8,97.9 C565.5,97.4 563.6,96.7 563.0,96.5 M574.4,100.4 C573.9,100.6 572.3,101.2 571.3,101.5 C570.4,101.8 569.3,102.0 568.9,102.1 M584.4,94.3 C583.9,93.8 582.4,92.4 581.3,91.6 C580.3,90.9 579.2,90.3 578.1,89.8 C576.9,89.3 575.8,88.9 574.6,88.7 C573.4,88.4 572.2,88.3 570.9,88.3 C569.7,88.3 568.4,88.5 567.1,88.7 C565.7,88.9 563.7,89.5 563.0,89.7 M586.4,88.5 C585.9,88.1 584.4,86.8 583.4,86.1 C582.3,85.4 581.2,84.8 580.1,84.2 C579.0,83.6 577.8,83.0 576.7,82.5 C575.5,82.0 574.4,81.6 573.1,81.2 C571.9,80.9 570.7,80.6 569.4,80.4 C568.1,80.2 566.1,80.1 565.5,80.0 M576.7,82.5 C576.3,81.9 575.2,79.8 574.6,78.9 C573.9,77.9 573.1,77.1 572.9,76.7 M589.9,80.2 C589.3,80.0 587.6,79.6 586.5,79.1 C585.4,78.6 584.4,77.9 583.4,77.2 C582.4,76.5 581.4,75.8 580.5,75.1 C579.5,74.4 578.5,73.6 577.4,73.1 C576.4,72.5 575.3,72.1 574.1,71.8 C572.9,71.5 571.0,71.5 570.4,71.4 M583.4,77.2 C582.7,77.5 580.5,78.4 579.2,79.0 C577.8,79.7 576.1,80.7 575.5,81.1 M592.0,75.0 C591.3,74.8 589.4,74.2 588.1,73.8 C586.8,73.3 585.4,73.0 584.3,72.2 C583.1,71.5 582.1,70.5 581.1,69.5 C580.2,68.4 578.9,66.5 578.4,65.9 M588.1,73.8 C587.9,73.3 587.5,71.6 587.1,70.8 C586.8,70.0 586.2,69.3 586.0,69.0 M592.0,75.0 C591.5,74.4 589.9,72.8 589.1,71.4 C588.4,70.0 587.9,67.5 587.7,66.7 M589.1,71.4 C588.9,71.3 588.0,71.0 587.4,70.8 C586.9,70.7 586.2,70.6 585.9,70.6 M592.0,75.0 C591.9,74.8 591.9,74.4 591.6,74.0 C591.3,73.7 590.4,73.1 590.1,72.9 M591.3,76.8 C591.6,76.9 592.5,77.7 593.3,77.7 C594.2,77.7 595.7,77.0 596.1,76.9 M588.5,83.5 C589.3,83.8 591.7,84.4 593.1,85.4 C594.5,86.3 596.3,88.6 596.9,89.2 M593.1,85.4 C593.2,85.6 593.6,86.4 593.8,86.8 C594.0,87.2 594.1,87.7 594.2,87.8 M592.0,75.0 C590.8,77.8 587.0,86.2 585.0,92.0 C583.0,97.8 581.5,105.0 580.0,110.0 C578.5,115.0 576.7,120.0 576.0,122.0" fill="none" stroke="#e0e0e0" stroke-width="3.0" stroke-linecap="round" stroke-linejoin="round"/>
<path d="M592.0,75.0 C590.8,77.8 587.0,86.2 585.0,92.0 C583.0,97.8 581.5,105.0 580.0,110.0 C578.5,115.0 576.7,120.0 576.0,122.0" fill="none" stroke="#e4e4e4" stroke-width="4" stroke-linecap="round"/>
<path d="M638.2,104.6 C638.8,104.4 640.7,104.0 641.9,103.5 C643.0,103.0 644.1,102.1 645.2,101.4 C646.3,100.7 647.3,99.9 648.5,99.4 C649.7,98.9 651.0,98.6 652.3,98.6 C653.6,98.6 655.8,99.1 656.5,99.2 M645.2,101.4 C645.4,101.1 646.2,100.0 646.7,99.4 C647.3,98.7 648.0,97.8 648.3,97.4 M640.4,111.7 C641.1,111.5 643.0,111.1 644.2,110.8 C645.5,110.5 646.8,110.1 648.0,109.8 C649.3,109.5 650.6,109.2 651.9,108.9 C653.2,108.7 655.1,108.4 655.8,108.3 M642.4,119.8 C643.1,119.8 645.1,120.1 646.3,119.8 C647.5,119.4 648.6,118.4 649.7,117.6 C650.8,116.8 652.3,115.4 652.9,115.0 M649.7,117.6 C649.8,117.4 650.3,116.7 650.7,116.3 C651.0,115.8 651.4,115.1 651.5,114.8 M643.0,122.0 C643.5,122.1 645.1,122.2 646.1,122.5 C647.1,122.7 648.5,123.4 649.0,123.5 M646.1,122.5 C646.2,122.8 646.6,123.8 646.7,124.2 C646.9,124.6 646.9,124.7 646.9,124.8 M643.0,122.0 C642.9,122.5 642.0,123.8 642.3,124.7 C642.5,125.7 644.3,127.2 644.7,127.7 M643.0,122.0 C642.3,122.4 640.2,123.5 638.7,124.1 C637.2,124.7 634.9,125.5 634.1,125.8 M638.7,124.1 C638.5,124.3 638.0,124.7 637.8,125.1 C637.6,125.6 637.5,126.4 637.5,126.6 M641.8,117.2 C641.1,117.4 638.9,118.2 637.4,118.4 C635.9,118.5 634.1,117.6 632.6,118.0 C631.2,118.4 629.3,120.3 628.6,120.7 M637.4,118.4 C637.0,118.1 635.7,117.3 634.9,116.9 C634.1,116.4 633.1,115.8 632.7,115.6 M639.0,106.9 C638.3,106.9 636.4,106.7 635.1,106.7 C633.8,106.7 632.5,106.7 631.3,106.9 C630.1,107.1 628.9,107.3 627.8,107.9 C626.7,108.4 625.2,109.7 624.7,110.1 M635.1,106.7 C634.8,107.1 633.8,108.5 633.2,109.2 C632.7,109.8 631.9,110.3 631.7,110.5 M636.0,98.1 C635.4,98.4 633.4,99.1 632.1,99.8 C630.8,100.6 629.8,102.1 628.5,102.5 C627.1,103.0 624.7,102.4 623.9,102.4 M632.1,99.8 C631.8,99.7 630.7,99.2 630.2,99.0 C629.7,98.9 629.2,98.8 629.0,98.8 M633.1,89.4 C632.3,89.7 630.2,90.9 628.5,91.2 C626.9,91.4 624.1,90.9 623.2,90.8 M628.5,91.2 C628.3,90.9 627.6,90.1 627.1,89.8 C626.7,89.5 626.0,89.6 625.8,89.5 M630.3,81.5 C629.9,81.8 628.8,82.8 628.1,83.4 C627.3,83.9 626.1,84.7 625.8,85.0 M628.0,75.0 C628.1,75.1 628.3,76.1 628.4,75.9 C628.5,75.6 628.5,73.9 628.5,73.5 M628.0,75.0 C628.2,74.4 628.3,72.4 629.0,71.5 C629.7,70.7 631.6,70.0 632.1,69.7 M629.0,71.5 C629.3,71.5 630.3,71.6 630.6,71.5 C631.0,71.4 631.0,71.1 631.1,71.0 M628.0,75.0 C628.6,74.8 630.4,74.3 631.6,73.8 C632.7,73.3 633.8,72.8 634.8,72.0 C635.8,71.3 636.7,70.3 637.6,69.4 C638.4,68.4 639.6,66.7 640.0,66.2 M634.8,72.0 C635.1,71.4 636.0,69.4 636.4,68.4 C636.7,67.4 637.0,66.6 637.1,66.2 M629.3,78.7 C630.0,78.7 632.3,78.9 633.7,78.9 C635.2,78.8 636.5,78.6 637.9,78.3 C639.2,77.9 640.5,77.5 641.8,76.8 C643.0,76.2 644.2,75.4 645.3,74.5 C646.4,73.5 648.0,71.7 648.5,71.2 M637.9,78.3 C638.5,78.5 640.3,79.1 641.3,79.4 C642.3,79.8 643.6,80.1 644.0,80.3 M632.4,87.4 C632.9,87.1 634.5,85.8 635.6,85.2 C636.7,84.6 637.8,84.2 639.0,83.8 C640.2,83.4 641.4,83.1 642.6,82.8 C643.8,82.6 645.1,82.4 646.4,82.3 C647.6,82.2 648.9,82.1 650.2,82.0 C651.5,81.9 653.4,81.7 654.1,81.7 M642.6,82.8 C642.9,82.3 643.6,80.4 644.1,79.5 C644.5,78.6 645.0,77.8 645.2,77.4 M635.3,95.9 C635.9,95.7 637.5,95.0 638.6,94.5 C639.7,94.0 640.7,93.3 641.8,92.8 C642.9,92.2 643.9,91.6 645.0,91.0 C646.1,90.5 647.1,89.9 648.2,89.4 C649.3,88.9 650.4,88.5 651.6,88.1 C652.7,87.8 654.5,87.5 655.1,87.3 M645.0,91.0 C645.3,90.5 646.4,88.8 647.0,87.8 C647.6,86.8 648.2,85.4 648.4,84.9 M628.0,75.0 C629.0,77.8 632.0,86.2 634.0,92.0 C636.0,97.8 638.5,105.0 640.0,110.0 C641.5,115.0 642.5,120.0 643.0,122.0" fill="none" stroke="#7c7c7c" stroke-width="8.0" stroke-linecap="round" stroke-linejoin="round"/>
<path d="M638.2,104.6 C638.8,104.4 640.7,104.0 641.9,103.5 C643.0,103.0 644.1,102.1 645.2,101.4 C646.3,100.7 647.3,99.9 648.5,99.4 C649.7,98.9 651.0,98.6 652.3,98.6 C653.6,98.6 655.8,99.1 656.5,99.2 M645.2,101.4 C645.4,101.1 646.2,100.0 646.7,99.4 C647.3,98.7 648.0,97.8 648.3,97.4 M640.4,111.7 C641.1,111.5 643.0,111.1 644.2,110.8 C645.5,110.5 646.8,110.1 648.0,109.8 C649.3,109.5 650.6,109.2 651.9,108.9 C653.2,108.7 655.1,108.4 655.8,108.3 M642.4,119.8 C643.1,119.8 645.1,120.1 646.3,119.8 C647.5,119.4 648.6,118.4 649.7,117.6 C650.8,116.8 652.3,115.4 652.9,115.0 M649.7,117.6 C649.8,117.4 650.3,116.7 650.7,116.3 C651.0,115.8 651.4,115.1 651.5,114.8 M643.0,122.0 C643.5,122.1 645.1,122.2 646.1,122.5 C647.1,122.7 648.5,123.4 649.0,123.5 M646.1,122.5 C646.2,122.8 646.6,123.8 646.7,124.2 C646.9,124.6 646.9,124.7 646.9,124.8 M643.0,122.0 C642.9,122.5 642.0,123.8 642.3,124.7 C642.5,125.7 644.3,127.2 644.7,127.7 M643.0,122.0 C642.3,122.4 640.2,123.5 638.7,124.1 C637.2,124.7 634.9,125.5 634.1,125.8 M638.7,124.1 C638.5,124.3 638.0,124.7 637.8,125.1 C637.6,125.6 637.5,126.4 637.5,126.6 M641.8,117.2 C641.1,117.4 638.9,118.2 637.4,118.4 C635.9,118.5 634.1,117.6 632.6,118.0 C631.2,118.4 629.3,120.3 628.6,120.7 M637.4,118.4 C637.0,118.1 635.7,117.3 634.9,116.9 C634.1,116.4 633.1,115.8 632.7,115.6 M639.0,106.9 C638.3,106.9 636.4,106.7 635.1,106.7 C633.8,106.7 632.5,106.7 631.3,106.9 C630.1,107.1 628.9,107.3 627.8,107.9 C626.7,108.4 625.2,109.7 624.7,110.1 M635.1,106.7 C634.8,107.1 633.8,108.5 633.2,109.2 C632.7,109.8 631.9,110.3 631.7,110.5 M636.0,98.1 C635.4,98.4 633.4,99.1 632.1,99.8 C630.8,100.6 629.8,102.1 628.5,102.5 C627.1,103.0 624.7,102.4 623.9,102.4 M632.1,99.8 C631.8,99.7 630.7,99.2 630.2,99.0 C629.7,98.9 629.2,98.8 629.0,98.8 M633.1,89.4 C632.3,89.7 630.2,90.9 628.5,91.2 C626.9,91.4 624.1,90.9 623.2,90.8 M628.5,91.2 C628.3,90.9 627.6,90.1 627.1,89.8 C626.7,89.5 626.0,89.6 625.8,89.5 M630.3,81.5 C629.9,81.8 628.8,82.8 628.1,83.4 C627.3,83.9 626.1,84.7 625.8,85.0 M628.0,75.0 C628.1,75.1 628.3,76.1 628.4,75.9 C628.5,75.6 628.5,73.9 628.5,73.5 M628.0,75.0 C628.2,74.4 628.3,72.4 629.0,71.5 C629.7,70.7 631.6,70.0 632.1,69.7 M629.0,71.5 C629.3,71.5 630.3,71.6 630.6,71.5 C631.0,71.4 631.0,71.1 631.1,71.0 M628.0,75.0 C628.6,74.8 630.4,74.3 631.6,73.8 C632.7,73.3 633.8,72.8 634.8,72.0 C635.8,71.3 636.7,70.3 637.6,69.4 C638.4,68.4 639.6,66.7 640.0,66.2 M634.8,72.0 C635.1,71.4 636.0,69.4 636.4,68.4 C636.7,67.4 637.0,66.6 637.1,66.2 M629.3,78.7 C630.0,78.7 632.3,78.9 633.7,78.9 C635.2,78.8 636.5,78.6 637.9,78.3 C639.2,77.9 640.5,77.5 641.8,76.8 C643.0,76.2 644.2,75.4 645.3,74.5 C646.4,73.5 648.0,71.7 648.5,71.2 M637.9,78.3 C638.5,78.5 640.3,79.1 641.3,79.4 C642.3,79.8 643.6,80.1 644.0,80.3 M632.4,87.4 C632.9,87.1 634.5,85.8 635.6,85.2 C636.7,84.6 637.8,84.2 639.0,83.8 C640.2,83.4 641.4,83.1 642.6,82.8 C643.8,82.6 645.1,82.4 646.4,82.3 C647.6,82.2 648.9,82.1 650.2,82.0 C651.5,81.9 653.4,81.7 654.1,81.7 M642.6,82.8 C642.9,82.3 643.6,80.4 644.1,79.5 C644.5,78.6 645.0,77.8 645.2,77.4 M635.3,95.9 C635.9,95.7 637.5,95.0 638.6,94.5 C639.7,94.0 640.7,93.3 641.8,92.8 C642.9,92.2 643.9,91.6 645.0,91.0 C646.1,90.5 647.1,89.9 648.2,89.4 C649.3,88.9 650.4,88.5 651.6,88.1 C652.7,87.8 654.5,87.5 655.1,87.3 M645.0,91.0 C645.3,90.5 646.4,88.8 647.0,87.8 C647.6,86.8 648.2,85.4 648.4,84.9 M628.0,75.0 C629.0,77.8 632.0,86.2 634.0,92.0 C636.0,97.8 638.5,105.0 640.0,110.0 C641.5,115.0 642.5,120.0 643.0,122.0" fill="none" stroke="#adadad" stroke-width="5.6" stroke-linecap="round" stroke-linejoin="round"/>
<path d="M638.2,104.6 C638.8,104.4 640.7,104.0 641.9,103.5 C643.0,103.0 644.1,102.1 645.2,101.4 C646.3,100.7 647.3,99.9 648.5,99.4 C649.7,98.9 651.0,98.6 652.3,98.6 C653.6,98.6 655.8,99.1 656.5,99.2 M645.2,101.4 C645.4,101.1 646.2,100.0 646.7,99.4 C647.3,98.7 648.0,97.8 648.3,97.4 M640.4,111.7 C641.1,111.5 643.0,111.1 644.2,110.8 C645.5,110.5 646.8,110.1 648.0,109.8 C649.3,109.5 650.6,109.2 651.9,108.9 C653.2,108.7 655.1,108.4 655.8,108.3 M642.4,119.8 C643.1,119.8 645.1,120.1 646.3,119.8 C647.5,119.4 648.6,118.4 649.7,117.6 C650.8,116.8 652.3,115.4 652.9,115.0 M649.7,117.6 C649.8,117.4 650.3,116.7 650.7,116.3 C651.0,115.8 651.4,115.1 651.5,114.8 M643.0,122.0 C643.5,122.1 645.1,122.2 646.1,122.5 C647.1,122.7 648.5,123.4 649.0,123.5 M646.1,122.5 C646.2,122.8 646.6,123.8 646.7,124.2 C646.9,124.6 646.9,124.7 646.9,124.8 M643.0,122.0 C642.9,122.5 642.0,123.8 642.3,124.7 C642.5,125.7 644.3,127.2 644.7,127.7 M643.0,122.0 C642.3,122.4 640.2,123.5 638.7,124.1 C637.2,124.7 634.9,125.5 634.1,125.8 M638.7,124.1 C638.5,124.3 638.0,124.7 637.8,125.1 C637.6,125.6 637.5,126.4 637.5,126.6 M641.8,117.2 C641.1,117.4 638.9,118.2 637.4,118.4 C635.9,118.5 634.1,117.6 632.6,118.0 C631.2,118.4 629.3,120.3 628.6,120.7 M637.4,118.4 C637.0,118.1 635.7,117.3 634.9,116.9 C634.1,116.4 633.1,115.8 632.7,115.6 M639.0,106.9 C638.3,106.9 636.4,106.7 635.1,106.7 C633.8,106.7 632.5,106.7 631.3,106.9 C630.1,107.1 628.9,107.3 627.8,107.9 C626.7,108.4 625.2,109.7 624.7,110.1 M635.1,106.7 C634.8,107.1 633.8,108.5 633.2,109.2 C632.7,109.8 631.9,110.3 631.7,110.5 M636.0,98.1 C635.4,98.4 633.4,99.1 632.1,99.8 C630.8,100.6 629.8,102.1 628.5,102.5 C627.1,103.0 624.7,102.4 623.9,102.4 M632.1,99.8 C631.8,99.7 630.7,99.2 630.2,99.0 C629.7,98.9 629.2,98.8 629.0,98.8 M633.1,89.4 C632.3,89.7 630.2,90.9 628.5,91.2 C626.9,91.4 624.1,90.9 623.2,90.8 M628.5,91.2 C628.3,90.9 627.6,90.1 627.1,89.8 C626.7,89.5 626.0,89.6 625.8,89.5 M630.3,81.5 C629.9,81.8 628.8,82.8 628.1,83.4 C627.3,83.9 626.1,84.7 625.8,85.0 M628.0,75.0 C628.1,75.1 628.3,76.1 628.4,75.9 C628.5,75.6 628.5,73.9 628.5,73.5 M628.0,75.0 C628.2,74.4 628.3,72.4 629.0,71.5 C629.7,70.7 631.6,70.0 632.1,69.7 M629.0,71.5 C629.3,71.5 630.3,71.6 630.6,71.5 C631.0,71.4 631.0,71.1 631.1,71.0 M628.0,75.0 C628.6,74.8 630.4,74.3 631.6,73.8 C632.7,73.3 633.8,72.8 634.8,72.0 C635.8,71.3 636.7,70.3 637.6,69.4 C638.4,68.4 639.6,66.7 640.0,66.2 M634.8,72.0 C635.1,71.4 636.0,69.4 636.4,68.4 C636.7,67.4 637.0,66.6 637.1,66.2 M629.3,78.7 C630.0,78.7 632.3,78.9 633.7,78.9 C635.2,78.8 636.5,78.6 637.9,78.3 C639.2,77.9 640.5,77.5 641.8,76.8 C643.0,76.2 644.2,75.4 645.3,74.5 C646.4,73.5 648.0,71.7 648.5,71.2 M637.9,78.3 C638.5,78.5 640.3,79.1 641.3,79.4 C642.3,79.8 643.6,80.1 644.0,80.3 M632.4,87.4 C632.9,87.1 634.5,85.8 635.6,85.2 C636.7,84.6 637.8,84.2 639.0,83.8 C640.2,83.4 641.4,83.1 642.6,82.8 C643.8,82.6 645.1,82.4 646.4,82.3 C647.6,82.2 648.9,82.1 650.2,82.0 C651.5,81.9 653.4,81.7 654.1,81.7 M642.6,82.8 C642.9,82.3 643.6,80.4 644.1,79.5 C644.5,78.6 645.0,77.8 645.2,77.4 M635.3,95.9 C635.9,95.7 637.5,95.0 638.6,94.5 C639.7,94.0 640.7,93.3 641.8,92.8 C642.9,92.2 643.9,91.6 645.0,91.0 C646.1,90.5 647.1,89.9 648.2,89.4 C649.3,88.9 650.4,88.5 651.6,88.1 C652.7,87.8 654.5,87.5 655.1,87.3 M645.0,91.0 C645.3,90.5 646.4,88.8 647.0,87.8 C647.6,86.8 648.2,85.4 648.4,84.9 M628.0,75.0 C629.0,77.8 632.0,86.2 634.0,92.0 C636.0,97.8 638.5,105.0 640.0,110.0 C641.5,115.0 642.5,120.0 643.0,122.0" fill="none" stroke="#e0e0e0" stroke-width="3.0" stroke-linecap="round" stroke-linejoin="round"/>
<path d="M628.0,75.0 C629.0,77.8 632.0,86.2 634.0,92.0 C636.0,97.8 638.5,105.0 640.0,110.0 C641.5,115.0 642.5,120.0 643.0,122.0" fill="none" stroke="#e4e4e4" stroke-width="4" stroke-linecap="round"/>
<path d="M585,108 C592,102 626,102 634,108 C640,118 638,134 630,143 C624,149 614,148 609,145 C604,148 594,149 588,143 C580,134 579,118 585,108 Z" fill="#8e8e8e"/>
<path d="M603.5,106.8 Q609,111.3 614.5,106.8 M600.1,109.3 Q609,116.5 617.9,109.3 M596.7,111.7 Q609,121.6 621.3,111.7 M593.2,114.1 Q609,126.8 624.8,114.1 M589.8,116.5 Q609,132.0 628.2,116.5 M586.4,119.0 Q609,137.2 631.6,119.0 M582.9,121.4 Q609,142.4 635.1,121.4 M579.5,123.8 Q609,147.6 638.5,123.8 M576.1,126.2 Q609,152.8 641.9,126.2" stroke="#656565" stroke-width="1.0" fill="none"/>
<path d="M601.8,108.1 Q609,113.9 616.2,108.1 M598.4,110.5 Q609,119.0 619.6,110.5 M595.0,112.9 Q609,124.2 623.0,112.9 M591.5,115.3 Q609,129.4 626.5,115.3 M588.1,117.7 Q609,134.6 629.9,117.7 M584.7,120.2 Q609,139.8 633.3,120.2 M581.2,122.6 Q609,145.0 636.8,122.6 M577.8,125.0 Q609,150.2 640.2,125.0 M574.4,127.4 Q609,155.4 643.6,127.4" stroke="#b0b0b0" stroke-width="0.9" fill="none"/>
<path d="M616.4,106.9 L636.9,119.5 M615.0,109.3 L631.6,131.6 M612.9,111.0 L623.7,140.6 M610.4,111.9 L614.1,145.4 M607.6,111.9 L603.9,145.4 M605.1,111.0 L594.3,140.6 M603.0,109.3 L586.4,131.6 M601.6,106.9 L581.1,119.5" stroke="#6e6e6e" stroke-width="0.8" fill="none"/>
<path d="M609,114 L609,146" stroke="#2a2a2a" stroke-width="1.4"/>
<path d="M600,88 C603,85 607,88 609.5,91 C612,88 616,85 619,88 C622,94 621,102 616,105 C612,107 607,107 603,105 C598,102 597,94 600,88 Z" fill="#c4c4c4"/>
<path d="M606,77 L609,74 L612,77 M603,79 L606,78 M612,78 L615,79" stroke="#c8c8c8" stroke-width="1.4" fill="none"/></g>
<ellipse cx="625.3" cy="107" rx="1.8" ry="2.1" fill="#ff14ff" filter="url(#soft)"/>
<ellipse cx="630.5" cy="117.3" rx="2.4" ry="3.0" fill="#ff14ff" filter="url(#soft)"/>
<ellipse cx="640.2" cy="112.2" rx="2.9" ry="3.4" fill="#ff14ff" filter="url(#soft)"/>
<ellipse cx="635.8" cy="107" rx="1.2" ry="1" fill="#ff14ff" filter="url(#soft)"/>
<text x="-0.49" y="17.40" font-size="20.5" font-weight="bold" font-style="normal" fill="#0d0d0d" >a)</text>
<text x="177.43" y="17.60" font-size="20.5" font-weight="bold" font-style="normal" fill="#0d0d0d" >b)</text>
<text transform="translate(32.20 16.70) scale(1.0143 1) translate(-0.50 0)" font-size="16.8" font-weight="normal" font-style="normal" fill="#f2f2f2" stroke="#f2f2f2" stroke-width="0.2" >seeds: R SPL</text>
<text transform="translate(58.60 41.60) scale(1.3071 1) translate(-0.56 0)" font-size="13.5" font-weight="normal" font-style="normal" fill="#f2f2f2" stroke="#f2f2f2" stroke-width="0.2" >5L</text>
<text transform="translate(107.90 41.60) scale(1.2332 1) translate(-0.69 0)" font-size="13.5" font-weight="normal" font-style="normal" fill="#f2f2f2" stroke="#f2f2f2" stroke-width="0.2" >7A</text>
<text transform="translate(64.80 161.70) scale(0.9832 1) translate(-0.50 0)" font-size="12" font-weight="normal" font-style="normal" fill="#f2f2f2" stroke="#f2f2f2" stroke-width="0.2" >z = 62</text>
<text x="219.44" y="17.40" font-size="13" font-weight="normal" font-style="normal" fill="#f2f2f2" stroke="#f2f2f2" stroke-width="0.22" >L PMD-SM1</text>
<text x="235.94" y="30.70" font-size="13" font-weight="normal" font-style="normal" fill="#f2f2f2" stroke="#f2f2f2" stroke-width="0.22" >cluster</text>
<text x="332.24" y="17.40" font-size="13" font-weight="normal" font-style="normal" fill="#f2f2f2" stroke="#f2f2f2" stroke-width="0.22" >L Opercular</text>
<text x="349.94" y="30.70" font-size="13" font-weight="normal" font-style="normal" fill="#f2f2f2" stroke="#f2f2f2" stroke-width="0.22" >cluster</text>
<text x="458.54" y="21.00" font-size="13" font-weight="normal" font-style="normal" fill="#f2f2f2" stroke="#f2f2f2" stroke-width="0.22" >EBA clusters</text>
<text x="572.94" y="23.60" font-size="13" font-weight="normal" font-style="normal" fill="#f2f2f2" stroke="#f2f2f2" stroke-width="0.22" >FBA cluster</text>
<text x="214.32" y="63.20" font-size="12" font-weight="normal" font-style="italic" fill="#f2f2f2" stroke="#f2f2f2" stroke-width="0.22" >L</text>
<text transform="translate(245.00 163.20) scale(0.9856 1) translate(-0.50 0)" font-size="12" font-weight="normal" font-style="normal" fill="#f2f2f2" stroke="#f2f2f2" stroke-width="0.2" >z = 70</text>
<text transform="translate(357.80 163.20) scale(0.9706 1) translate(-0.50 0)" font-size="12" font-weight="normal" font-style="normal" fill="#f2f2f2" stroke="#f2f2f2" stroke-width="0.2" >z = 12</text>
<text transform="translate(481.00 163.20) scale(0.9891 1) translate(-0.50 0)" font-size="12" font-weight="normal" font-style="normal" fill="#f2f2f2" stroke="#f2f2f2" stroke-width="0.2" >z = −2</text>
<text transform="translate(589.50 163.20) scale(0.9830 1) translate(-0.50 0)" font-size="12" font-weight="normal" font-style="normal" fill="#f2f2f2" stroke="#f2f2f2" stroke-width="0.2" >z = −18</text>
<path d="M194.50 238.30V378.30H336.30" fill="none" stroke="#222" stroke-width="1"/>
<path d="M194.50 238.30h1.8 M194.50 258.30h1.8 M194.50 278.30h1.8 M194.50 298.30h1.8 M194.50 318.30h1.8 M194.50 338.30h1.8 M194.50 358.30h1.8 M194.50 378.30h1.8 M194.50 378.30v-1.8 M229.95 378.30v-1.8 M265.40 378.30v-1.8 M300.85 378.30v-1.8 M336.30 378.30v-1.8" stroke="#222" stroke-width="1"/>
<text x="172.66" y="239.90" font-size="11" font-weight="normal" font-style="normal" fill="#1a1a1a" stroke="#1a1a1a" stroke-width="0.22" >1.5</text>
<text x="177.31" y="259.90" font-size="11" font-weight="normal" font-style="normal" fill="#1a1a1a" stroke="#1a1a1a" stroke-width="0.22" >1</text>
<text x="172.84" y="279.90" font-size="11" font-weight="normal" font-style="normal" fill="#1a1a1a" stroke="#1a1a1a" stroke-width="0.22" >0.5</text>
<text x="177.44" y="299.90" font-size="11" font-weight="normal" font-style="normal" fill="#1a1a1a" stroke="#1a1a1a" stroke-width="0.22" >0</text>
<text x="171.00" y="319.90" font-size="11" font-weight="normal" font-style="normal" fill="#1a1a1a" stroke="#1a1a1a" stroke-width="0.22" >-0.5</text>
<text x="175.62" y="339.90" font-size="11" font-weight="normal" font-style="normal" fill="#1a1a1a" stroke="#1a1a1a" stroke-width="0.22" >-1</text>
<text x="171.00" y="359.90" font-size="11" font-weight="normal" font-style="normal" fill="#1a1a1a" stroke="#1a1a1a" stroke-width="0.22" >-1.5</text>
<text x="175.62" y="379.90" font-size="11" font-weight="normal" font-style="normal" fill="#1a1a1a" stroke="#1a1a1a" stroke-width="0.22" >-2</text>
<text x="191.44" y="390.70" font-size="11" font-weight="normal" font-style="normal" fill="#1a1a1a" stroke="#1a1a1a" stroke-width="0.22" >2</text>
<text x="226.92" y="390.70" font-size="11" font-weight="normal" font-style="normal" fill="#1a1a1a" stroke="#1a1a1a" stroke-width="0.22" >3</text>
<text x="262.37" y="390.70" font-size="11" font-weight="normal" font-style="normal" fill="#1a1a1a" stroke="#1a1a1a" stroke-width="0.22" >4</text>
<text x="297.79" y="390.70" font-size="11" font-weight="normal" font-style="normal" fill="#1a1a1a" stroke="#1a1a1a" stroke-width="0.22" >5</text>
<text x="333.21" y="390.70" font-size="11" font-weight="normal" font-style="normal" fill="#1a1a1a" stroke="#1a1a1a" stroke-width="0.22" >6</text>
<text x="145.89" y="210.20" font-size="20.5" font-weight="bold" font-style="normal" fill="#0d0d0d" >c)</text>
<text x="165.50" y="224.60" font-size="11.4" font-weight="normal" font-style="italic" fill="#333" stroke="#333" stroke-width="0.22" >(a.u.)</text>
<text x="232.74" y="221.80" font-size="13" font-weight="normal" font-style="normal" fill="#1a1a1a" stroke="#1a1a1a" stroke-width="0.22" >L PMD-SM1</text>
<text x="251.34" y="236.40" font-size="13" font-weight="normal" font-style="normal" fill="#1a1a1a" stroke="#1a1a1a" stroke-width="0.22" >cluster</text>
<text x="292.02" y="360.50" font-size="13" font-weight="normal" font-style="normal" fill="#1a1a1a" stroke="#1a1a1a" stroke-width="0.22" >r = 0.56</text>
<text x="224.07" y="407.00" font-size="13" font-weight="normal" font-style="normal" fill="#1a1a1a" stroke="#1a1a1a" stroke-width="0.22" >CMI test score</text>
<text transform="translate(145.84 379.88) rotate(-90)" font-size="13" fill="#1a1a1a" stroke="#1a1a1a" stroke-width="0.22">Imagery-related connectivity</text>
<text transform="translate(159.54 342.06) rotate(-90)" font-size="13" fill="#1a1a1a" stroke="#1a1a1a" stroke-width="0.22">(CMI vs. count)</text>
<circle cx="219.31" cy="331.10" r="2.6" fill="#ff00ff"/>
<circle cx="229.95" cy="371.10" r="2.6" fill="#ff00ff"/>
<circle cx="237.04" cy="318.70" r="2.6" fill="#ff00ff"/>
<circle cx="244.13" cy="284.10" r="2.6" fill="#ff00ff"/>
<circle cx="247.68" cy="342.30" r="2.6" fill="#ff00ff"/>
<circle cx="258.31" cy="282.50" r="2.6" fill="#ff00ff"/>
<circle cx="261.86" cy="327.50" r="2.6" fill="#ff00ff"/>
<circle cx="265.40" cy="337.50" r="2.6" fill="#ff00ff"/>
<circle cx="268.94" cy="348.70" r="2.6" fill="#ff00ff"/>
<circle cx="272.49" cy="310.30" r="2.6" fill="#ff00ff"/>
<circle cx="279.58" cy="305.50" r="2.6" fill="#ff00ff"/>
<circle cx="279.58" cy="323.10" r="2.6" fill="#ff00ff"/>
<circle cx="283.12" cy="270.30" r="2.6" fill="#ff00ff"/>
<circle cx="283.12" cy="330.70" r="2.6" fill="#ff00ff"/>
<circle cx="286.67" cy="293.10" r="2.6" fill="#ff00ff"/>
<circle cx="286.67" cy="305.90" r="2.6" fill="#ff00ff"/>
<circle cx="286.67" cy="309.10" r="2.6" fill="#ff00ff"/>
<circle cx="290.22" cy="312.30" r="2.6" fill="#ff00ff"/>
<circle cx="290.22" cy="322.70" r="2.6" fill="#ff00ff"/>
<circle cx="307.94" cy="284.70" r="2.6" fill="#ff00ff"/>
<circle cx="307.94" cy="299.50" r="2.6" fill="#ff00ff"/>
<circle cx="307.94" cy="304.30" r="2.6" fill="#ff00ff"/>
<circle cx="322.12" cy="256.10" r="2.6" fill="#ff00ff"/>
<circle cx="336.30" cy="305.50" r="2.6" fill="#ff00ff"/>
<line x1="219.31" y1="341.70" x2="336.30" y2="277.50" stroke="#383838" stroke-width="1.0" stroke-dasharray="5.2 3.6"/>
<path d="M412.90 238.30V378.30H554.50" fill="none" stroke="#222" stroke-width="1"/>
<path d="M412.90 238.30h1.8 M412.90 258.30h1.8 M412.90 278.30h1.8 M412.90 298.30h1.8 M412.90 318.30h1.8 M412.90 338.30h1.8 M412.90 358.30h1.8 M412.90 378.30h1.8 M412.90 378.30v-1.8 M448.30 378.30v-1.8 M483.70 378.30v-1.8 M519.10 378.30v-1.8 M554.50 378.30v-1.8" stroke="#222" stroke-width="1"/>
<text x="391.16" y="240.10" font-size="11" font-weight="normal" font-style="normal" fill="#1a1a1a" stroke="#1a1a1a" stroke-width="0.22" >1.5</text>
<text x="395.81" y="260.10" font-size="11" font-weight="normal" font-style="normal" fill="#1a1a1a" stroke="#1a1a1a" stroke-width="0.22" >1</text>
<text x="391.34" y="280.10" font-size="11" font-weight="normal" font-style="normal" fill="#1a1a1a" stroke="#1a1a1a" stroke-width="0.22" >0.5</text>
<text x="395.94" y="300.10" font-size="11" font-weight="normal" font-style="normal" fill="#1a1a1a" stroke="#1a1a1a" stroke-width="0.22" >0</text>
<text x="389.50" y="320.10" font-size="11" font-weight="normal" font-style="normal" fill="#1a1a1a" stroke="#1a1a1a" stroke-width="0.22" >-0.5</text>
<text x="394.12" y="340.10" font-size="11" font-weight="normal" font-style="normal" fill="#1a1a1a" stroke="#1a1a1a" stroke-width="0.22" >-1</text>
<text x="389.50" y="360.10" font-size="11" font-weight="normal" font-style="normal" fill="#1a1a1a" stroke="#1a1a1a" stroke-width="0.22" >-1.5</text>
<text x="394.12" y="380.10" font-size="11" font-weight="normal" font-style="normal" fill="#1a1a1a" stroke="#1a1a1a" stroke-width="0.22" >-2</text>
<text x="409.84" y="390.70" font-size="11" font-weight="normal" font-style="normal" fill="#1a1a1a" stroke="#1a1a1a" stroke-width="0.22" >2</text>
<text x="445.27" y="390.70" font-size="11" font-weight="normal" font-style="normal" fill="#1a1a1a" stroke="#1a1a1a" stroke-width="0.22" >3</text>
<text x="480.67" y="390.70" font-size="11" font-weight="normal" font-style="normal" fill="#1a1a1a" stroke="#1a1a1a" stroke-width="0.22" >4</text>
<text x="516.04" y="390.70" font-size="11" font-weight="normal" font-style="normal" fill="#1a1a1a" stroke="#1a1a1a" stroke-width="0.22" >5</text>
<text x="551.41" y="390.70" font-size="11" font-weight="normal" font-style="normal" fill="#1a1a1a" stroke="#1a1a1a" stroke-width="0.22" >6</text>
<text x="359.94" y="210.60" font-size="20.5" font-weight="bold" font-style="normal" fill="#0d0d0d" >d)</text>
<text x="380.40" y="224.60" font-size="11.4" font-weight="normal" font-style="italic" fill="#333" stroke="#333" stroke-width="0.22" >(a.u.)</text>
<text x="450.94" y="218.80" font-size="13" font-weight="normal" font-style="normal" fill="#1a1a1a" stroke="#1a1a1a" stroke-width="0.22" >L Opercular</text>
<text x="466.24" y="233.40" font-size="13" font-weight="normal" font-style="normal" fill="#1a1a1a" stroke="#1a1a1a" stroke-width="0.22" >cluster</text>
<text x="510.62" y="360.50" font-size="13" font-weight="normal" font-style="normal" fill="#1a1a1a" stroke="#1a1a1a" stroke-width="0.22" >r = 0.63</text>
<text x="442.68" y="407.00" font-size="13" font-weight="normal" font-style="normal" fill="#1a1a1a" stroke="#1a1a1a" stroke-width="0.22" >CMI test score</text>
<circle cx="437.68" cy="318.10" r="2.6" fill="#ff00ff"/>
<circle cx="448.30" cy="363.30" r="2.6" fill="#ff00ff"/>
<circle cx="455.38" cy="309.90" r="2.6" fill="#ff00ff"/>
<circle cx="462.46" cy="320.30" r="2.6" fill="#ff00ff"/>
<circle cx="466.00" cy="320.30" r="2.6" fill="#ff00ff"/>
<circle cx="476.62" cy="311.10" r="2.6" fill="#ff00ff"/>
<circle cx="480.16" cy="305.10" r="2.6" fill="#ff00ff"/>
<circle cx="483.70" cy="330.30" r="2.6" fill="#ff00ff"/>
<circle cx="487.24" cy="326.30" r="2.6" fill="#ff00ff"/>
<circle cx="490.78" cy="313.50" r="2.6" fill="#ff00ff"/>
<circle cx="490.78" cy="325.50" r="2.6" fill="#ff00ff"/>
<circle cx="497.86" cy="285.30" r="2.6" fill="#ff00ff"/>
<circle cx="497.86" cy="305.10" r="2.6" fill="#ff00ff"/>
<circle cx="501.40" cy="295.90" r="2.6" fill="#ff00ff"/>
<circle cx="501.40" cy="317.10" r="2.6" fill="#ff00ff"/>
<circle cx="504.94" cy="293.90" r="2.6" fill="#ff00ff"/>
<circle cx="504.94" cy="303.50" r="2.6" fill="#ff00ff"/>
<circle cx="504.94" cy="312.70" r="2.6" fill="#ff00ff"/>
<circle cx="508.48" cy="301.90" r="2.6" fill="#ff00ff"/>
<circle cx="508.48" cy="309.50" r="2.6" fill="#ff00ff"/>
<circle cx="526.18" cy="298.30" r="2.6" fill="#ff00ff"/>
<circle cx="526.18" cy="301.10" r="2.6" fill="#ff00ff"/>
<circle cx="526.18" cy="303.90" r="2.6" fill="#ff00ff"/>
<circle cx="526.18" cy="306.30" r="2.6" fill="#ff00ff"/>
<circle cx="533.26" cy="271.10" r="2.6" fill="#ff00ff"/>
<circle cx="540.34" cy="268.30" r="2.6" fill="#ff00ff"/>
<circle cx="554.50" cy="311.50" r="2.6" fill="#ff00ff"/>
<line x1="437.68" y1="332.70" x2="554.50" y2="285.90" stroke="#383838" stroke-width="1.0" stroke-dasharray="5.2 3.6"/>
<path d="M85.40 469.00V609.00H227.00" fill="none" stroke="#222" stroke-width="1"/>
<path d="M85.40 469.00h1.8 M85.40 489.00h1.8 M85.40 509.00h1.8 M85.40 529.00h1.8 M85.40 549.00h1.8 M85.40 569.00h1.8 M85.40 589.00h1.8 M85.40 609.00h1.8 M85.40 609.00v-1.8 M120.80 609.00v-1.8 M156.20 609.00v-1.8 M191.60 609.00v-1.8 M227.00 609.00v-1.8" stroke="#222" stroke-width="1"/>
<text x="63.36" y="470.90" font-size="11" font-weight="normal" font-style="normal" fill="#1a1a1a" stroke="#1a1a1a" stroke-width="0.22" >1.5</text>
<text x="68.01" y="490.90" font-size="11" font-weight="normal" font-style="normal" fill="#1a1a1a" stroke="#1a1a1a" stroke-width="0.22" >1</text>
<text x="63.54" y="510.90" font-size="11" font-weight="normal" font-style="normal" fill="#1a1a1a" stroke="#1a1a1a" stroke-width="0.22" >0.5</text>
<text x="68.14" y="530.90" font-size="11" font-weight="normal" font-style="normal" fill="#1a1a1a" stroke="#1a1a1a" stroke-width="0.22" >0</text>
<text x="61.70" y="550.90" font-size="11" font-weight="normal" font-style="normal" fill="#1a1a1a" stroke="#1a1a1a" stroke-width="0.22" >-0.5</text>
<text x="66.33" y="570.90" font-size="11" font-weight="normal" font-style="normal" fill="#1a1a1a" stroke="#1a1a1a" stroke-width="0.22" >-1</text>
<text x="61.70" y="590.90" font-size="11" font-weight="normal" font-style="normal" fill="#1a1a1a" stroke="#1a1a1a" stroke-width="0.22" >-1.5</text>
<text x="66.33" y="610.90" font-size="11" font-weight="normal" font-style="normal" fill="#1a1a1a" stroke="#1a1a1a" stroke-width="0.22" >-2</text>
<text x="82.34" y="621.80" font-size="11" font-weight="normal" font-style="normal" fill="#1a1a1a" stroke="#1a1a1a" stroke-width="0.22" >2</text>
<text x="117.77" y="621.80" font-size="11" font-weight="normal" font-style="normal" fill="#1a1a1a" stroke="#1a1a1a" stroke-width="0.22" >3</text>
<text x="153.17" y="621.80" font-size="11" font-weight="normal" font-style="normal" fill="#1a1a1a" stroke="#1a1a1a" stroke-width="0.22" >4</text>
<text x="188.54" y="621.80" font-size="11" font-weight="normal" font-style="normal" fill="#1a1a1a" stroke="#1a1a1a" stroke-width="0.22" >5</text>
<text x="223.91" y="621.80" font-size="11" font-weight="normal" font-style="normal" fill="#1a1a1a" stroke="#1a1a1a" stroke-width="0.22" >6</text>
<text x="40.29" y="435.40" font-size="20.5" font-weight="bold" font-style="normal" fill="#0d0d0d" >e)</text>
<text x="60.50" y="451.00" font-size="11.4" font-weight="normal" font-style="italic" fill="#333" stroke="#333" stroke-width="0.22" >(a.u.)</text>
<text x="124.84" y="460.20" font-size="13" font-weight="normal" font-style="normal" fill="#1a1a1a" stroke="#1a1a1a" stroke-width="0.22" >L EBA cluster</text>
<text x="181.53" y="593.10" font-size="13" font-weight="normal" font-style="normal" fill="#1a1a1a" stroke="#1a1a1a" stroke-width="0.22" >r = 0.61</text>
<text x="113.38" y="639.90" font-size="13" font-weight="normal" font-style="normal" fill="#1a1a1a" stroke="#1a1a1a" stroke-width="0.22" >CMI test score</text>
<text transform="translate(40.84 609.08) rotate(-90)" font-size="13" fill="#1a1a1a" stroke="#1a1a1a" stroke-width="0.22">Imagery-related connectivity</text>
<text transform="translate(54.14 571.26) rotate(-90)" font-size="13" fill="#1a1a1a" stroke="#1a1a1a" stroke-width="0.22">(CMI vs. count)</text>
<circle cx="110.18" cy="533.20" r="2.6" fill="#ff00ff"/>
<circle cx="120.80" cy="567.40" r="2.6" fill="#ff00ff"/>
<circle cx="127.88" cy="587.00" r="2.6" fill="#ff00ff"/>
<circle cx="134.96" cy="537.80" r="2.6" fill="#ff00ff"/>
<circle cx="138.50" cy="532.80" r="2.6" fill="#ff00ff"/>
<circle cx="149.12" cy="531.80" r="2.6" fill="#ff00ff"/>
<circle cx="152.66" cy="539.80" r="2.6" fill="#ff00ff"/>
<circle cx="156.20" cy="569.00" r="2.6" fill="#ff00ff"/>
<circle cx="159.74" cy="538.20" r="2.6" fill="#ff00ff"/>
<circle cx="163.28" cy="521.80" r="2.6" fill="#ff00ff"/>
<circle cx="163.28" cy="534.60" r="2.6" fill="#ff00ff"/>
<circle cx="170.36" cy="525.00" r="2.6" fill="#ff00ff"/>
<circle cx="170.36" cy="531.40" r="2.6" fill="#ff00ff"/>
<circle cx="173.90" cy="525.40" r="2.6" fill="#ff00ff"/>
<circle cx="173.90" cy="549.00" r="2.6" fill="#ff00ff"/>
<circle cx="177.44" cy="531.00" r="2.6" fill="#ff00ff"/>
<circle cx="177.44" cy="539.60" r="2.6" fill="#ff00ff"/>
<circle cx="177.44" cy="549.80" r="2.6" fill="#ff00ff"/>
<circle cx="180.98" cy="535.40" r="2.6" fill="#ff00ff"/>
<circle cx="180.98" cy="543.00" r="2.6" fill="#ff00ff"/>
<circle cx="198.68" cy="522.20" r="2.6" fill="#ff00ff"/>
<circle cx="198.68" cy="525.40" r="2.6" fill="#ff00ff"/>
<circle cx="198.68" cy="528.60" r="2.6" fill="#ff00ff"/>
<circle cx="198.68" cy="535.60" r="2.6" fill="#ff00ff"/>
<circle cx="205.76" cy="481.40" r="2.6" fill="#ff00ff"/>
<circle cx="212.84" cy="522.60" r="2.6" fill="#ff00ff"/>
<circle cx="227.00" cy="505.40" r="2.6" fill="#ff00ff"/>
<line x1="110.18" y1="560.20" x2="227.00" y2="511.40" stroke="#383838" stroke-width="1.0" stroke-dasharray="5.2 3.6"/>
<path d="M293.90 469.00V609.00H435.70" fill="none" stroke="#222" stroke-width="1"/>
<path d="M293.90 469.00h1.8 M293.90 489.00h1.8 M293.90 509.00h1.8 M293.90 529.00h1.8 M293.90 549.00h1.8 M293.90 569.00h1.8 M293.90 589.00h1.8 M293.90 609.00h1.8 M293.90 609.00v-1.8 M329.35 609.00v-1.8 M364.80 609.00v-1.8 M400.25 609.00v-1.8 M435.70 609.00v-1.8" stroke="#222" stroke-width="1"/>
<text x="272.36" y="470.80" font-size="11" font-weight="normal" font-style="normal" fill="#1a1a1a" stroke="#1a1a1a" stroke-width="0.22" >1.5</text>
<text x="277.01" y="490.80" font-size="11" font-weight="normal" font-style="normal" fill="#1a1a1a" stroke="#1a1a1a" stroke-width="0.22" >1</text>
<text x="272.54" y="510.80" font-size="11" font-weight="normal" font-style="normal" fill="#1a1a1a" stroke="#1a1a1a" stroke-width="0.22" >0.5</text>
<text x="277.14" y="530.80" font-size="11" font-weight="normal" font-style="normal" fill="#1a1a1a" stroke="#1a1a1a" stroke-width="0.22" >0</text>
<text x="270.70" y="550.80" font-size="11" font-weight="normal" font-style="normal" fill="#1a1a1a" stroke="#1a1a1a" stroke-width="0.22" >-0.5</text>
<text x="275.32" y="570.80" font-size="11" font-weight="normal" font-style="normal" fill="#1a1a1a" stroke="#1a1a1a" stroke-width="0.22" >-1</text>
<text x="270.70" y="590.80" font-size="11" font-weight="normal" font-style="normal" fill="#1a1a1a" stroke="#1a1a1a" stroke-width="0.22" >-1.5</text>
<text x="275.32" y="610.80" font-size="11" font-weight="normal" font-style="normal" fill="#1a1a1a" stroke="#1a1a1a" stroke-width="0.22" >-2</text>
<text x="290.84" y="621.80" font-size="11" font-weight="normal" font-style="normal" fill="#1a1a1a" stroke="#1a1a1a" stroke-width="0.22" >2</text>
<text x="326.32" y="621.80" font-size="11" font-weight="normal" font-style="normal" fill="#1a1a1a" stroke="#1a1a1a" stroke-width="0.22" >3</text>
<text x="361.77" y="621.80" font-size="11" font-weight="normal" font-style="normal" fill="#1a1a1a" stroke="#1a1a1a" stroke-width="0.22" >4</text>
<text x="397.19" y="621.80" font-size="11" font-weight="normal" font-style="normal" fill="#1a1a1a" stroke="#1a1a1a" stroke-width="0.22" >5</text>
<text x="432.61" y="621.80" font-size="11" font-weight="normal" font-style="normal" fill="#1a1a1a" stroke="#1a1a1a" stroke-width="0.22" >6</text>
<text x="247.82" y="439.90" font-size="20.5" font-weight="bold" font-style="normal" fill="#0d0d0d" >f)</text>
<text x="264.20" y="451.00" font-size="11.4" font-weight="normal" font-style="italic" fill="#333" stroke="#333" stroke-width="0.22" >(a.u.)</text>
<text x="329.74" y="460.20" font-size="13" font-weight="normal" font-style="normal" fill="#1a1a1a" stroke="#1a1a1a" stroke-width="0.22" >R EBA cluster</text>
<text x="389.52" y="592.80" font-size="13" font-weight="normal" font-style="normal" fill="#1a1a1a" stroke="#1a1a1a" stroke-width="0.22" >r = 0.62</text>
<text x="324.07" y="639.90" font-size="13" font-weight="normal" font-style="normal" fill="#1a1a1a" stroke="#1a1a1a" stroke-width="0.22" >CMI test score</text>
<circle cx="318.71" cy="543.40" r="2.6" fill="#ff00ff"/>
<circle cx="329.35" cy="569.80" r="2.6" fill="#ff00ff"/>
<circle cx="336.44" cy="587.00" r="2.6" fill="#ff00ff"/>
<circle cx="343.53" cy="543.40" r="2.6" fill="#ff00ff"/>
<circle cx="347.07" cy="529.80" r="2.6" fill="#ff00ff"/>
<circle cx="357.71" cy="530.20" r="2.6" fill="#ff00ff"/>
<circle cx="361.25" cy="539.00" r="2.6" fill="#ff00ff"/>
<circle cx="364.80" cy="555.40" r="2.6" fill="#ff00ff"/>
<circle cx="368.34" cy="531.00" r="2.6" fill="#ff00ff"/>
<circle cx="371.89" cy="517.00" r="2.6" fill="#ff00ff"/>
<circle cx="371.89" cy="526.40" r="2.6" fill="#ff00ff"/>
<circle cx="378.98" cy="529.40" r="2.6" fill="#ff00ff"/>
<circle cx="378.98" cy="540.40" r="2.6" fill="#ff00ff"/>
<circle cx="382.52" cy="529.80" r="2.6" fill="#ff00ff"/>
<circle cx="382.52" cy="539.80" r="2.6" fill="#ff00ff"/>
<circle cx="386.07" cy="511.40" r="2.6" fill="#ff00ff"/>
<circle cx="386.07" cy="535.40" r="2.6" fill="#ff00ff"/>
<circle cx="386.07" cy="539.00" r="2.6" fill="#ff00ff"/>
<circle cx="389.62" cy="531.20" r="2.6" fill="#ff00ff"/>
<circle cx="389.62" cy="554.20" r="2.6" fill="#ff00ff"/>
<circle cx="407.34" cy="519.00" r="2.6" fill="#ff00ff"/>
<circle cx="407.34" cy="526.20" r="2.6" fill="#ff00ff"/>
<circle cx="407.34" cy="531.00" r="2.6" fill="#ff00ff"/>
<circle cx="407.34" cy="548.60" r="2.6" fill="#ff00ff"/>
<circle cx="414.43" cy="484.20" r="2.6" fill="#ff00ff"/>
<circle cx="421.52" cy="515.40" r="2.6" fill="#ff00ff"/>
<circle cx="435.70" cy="505.60" r="2.6" fill="#ff00ff"/>
<line x1="318.71" y1="560.20" x2="435.70" y2="509.00" stroke="#383838" stroke-width="1.0" stroke-dasharray="5.2 3.6"/>
<path d="M502.70 469.00V609.00H644.50" fill="none" stroke="#222" stroke-width="1"/>
<path d="M502.70 469.00h1.8 M502.70 489.00h1.8 M502.70 509.00h1.8 M502.70 529.00h1.8 M502.70 549.00h1.8 M502.70 569.00h1.8 M502.70 589.00h1.8 M502.70 609.00h1.8 M502.70 609.00v-1.8 M538.15 609.00v-1.8 M573.60 609.00v-1.8 M609.05 609.00v-1.8 M644.50 609.00v-1.8" stroke="#222" stroke-width="1"/>
<text x="480.66" y="471.00" font-size="11" font-weight="normal" font-style="normal" fill="#1a1a1a" stroke="#1a1a1a" stroke-width="0.22" >1.5</text>
<text x="485.31" y="491.00" font-size="11" font-weight="normal" font-style="normal" fill="#1a1a1a" stroke="#1a1a1a" stroke-width="0.22" >1</text>
<text x="480.84" y="511.00" font-size="11" font-weight="normal" font-style="normal" fill="#1a1a1a" stroke="#1a1a1a" stroke-width="0.22" >0.5</text>
<text x="485.44" y="531.00" font-size="11" font-weight="normal" font-style="normal" fill="#1a1a1a" stroke="#1a1a1a" stroke-width="0.22" >0</text>
<text x="479.00" y="551.00" font-size="11" font-weight="normal" font-style="normal" fill="#1a1a1a" stroke="#1a1a1a" stroke-width="0.22" >-0.5</text>
<text x="483.62" y="571.00" font-size="11" font-weight="normal" font-style="normal" fill="#1a1a1a" stroke="#1a1a1a" stroke-width="0.22" >-1</text>
<text x="479.00" y="591.00" font-size="11" font-weight="normal" font-style="normal" fill="#1a1a1a" stroke="#1a1a1a" stroke-width="0.22" >-1.5</text>
<text x="483.62" y="611.00" font-size="11" font-weight="normal" font-style="normal" fill="#1a1a1a" stroke="#1a1a1a" stroke-width="0.22" >-2</text>
<text x="499.64" y="621.80" font-size="11" font-weight="normal" font-style="normal" fill="#1a1a1a" stroke="#1a1a1a" stroke-width="0.22" >2</text>
<text x="535.12" y="621.80" font-size="11" font-weight="normal" font-style="normal" fill="#1a1a1a" stroke="#1a1a1a" stroke-width="0.22" >3</text>
<text x="570.57" y="621.80" font-size="11" font-weight="normal" font-style="normal" fill="#1a1a1a" stroke="#1a1a1a" stroke-width="0.22" >4</text>
<text x="605.99" y="621.80" font-size="11" font-weight="normal" font-style="normal" fill="#1a1a1a" stroke="#1a1a1a" stroke-width="0.22" >5</text>
<text x="641.41" y="621.80" font-size="11" font-weight="normal" font-style="normal" fill="#1a1a1a" stroke="#1a1a1a" stroke-width="0.22" >6</text>
<text x="451.69" y="437.50" font-size="20.5" font-weight="bold" font-style="normal" fill="#0d0d0d" >g)</text>
<text x="468.60" y="451.00" font-size="11.4" font-weight="normal" font-style="italic" fill="#333" stroke="#333" stroke-width="0.22" >(a.u.)</text>
<text x="536.04" y="460.20" font-size="13" font-weight="normal" font-style="normal" fill="#1a1a1a" stroke="#1a1a1a" stroke-width="0.22" >R FBA cluster</text>
<text x="598.42" y="593.00" font-size="13" font-weight="normal" font-style="normal" fill="#1a1a1a" stroke="#1a1a1a" stroke-width="0.22" >r = 0.78</text>
<text x="533.38" y="639.60" font-size="13" font-weight="normal" font-style="normal" fill="#1a1a1a" stroke="#1a1a1a" stroke-width="0.22" >CMI test score</text>
<circle cx="527.51" cy="545.40" r="2.6" fill="#ff00ff"/>
<circle cx="538.15" cy="564.40" r="2.6" fill="#ff00ff"/>
<circle cx="545.24" cy="573.60" r="2.6" fill="#ff00ff"/>
<circle cx="552.33" cy="545.40" r="2.6" fill="#ff00ff"/>
<circle cx="555.88" cy="545.40" r="2.6" fill="#ff00ff"/>
<circle cx="566.51" cy="526.60" r="2.6" fill="#ff00ff"/>
<circle cx="570.05" cy="549.80" r="2.6" fill="#ff00ff"/>
<circle cx="573.60" cy="555.40" r="2.6" fill="#ff00ff"/>
<circle cx="577.14" cy="540.00" r="2.6" fill="#ff00ff"/>
<circle cx="580.69" cy="529.60" r="2.6" fill="#ff00ff"/>
<circle cx="580.69" cy="538.80" r="2.6" fill="#ff00ff"/>
<circle cx="587.78" cy="528.00" r="2.6" fill="#ff00ff"/>
<circle cx="587.78" cy="534.00" r="2.6" fill="#ff00ff"/>
<circle cx="591.33" cy="531.80" r="2.6" fill="#ff00ff"/>
<circle cx="594.87" cy="518.60" r="2.6" fill="#ff00ff"/>
<circle cx="594.87" cy="529.60" r="2.6" fill="#ff00ff"/>
<circle cx="594.87" cy="538.20" r="2.6" fill="#ff00ff"/>
<circle cx="598.41" cy="542.40" r="2.6" fill="#ff00ff"/>
<circle cx="598.41" cy="549.00" r="2.6" fill="#ff00ff"/>
<circle cx="616.14" cy="516.20" r="2.6" fill="#ff00ff"/>
<circle cx="616.14" cy="524.60" r="2.6" fill="#ff00ff"/>
<circle cx="616.14" cy="526.60" r="2.6" fill="#ff00ff"/>
<circle cx="616.14" cy="538.60" r="2.6" fill="#ff00ff"/>
<circle cx="623.23" cy="512.20" r="2.6" fill="#ff00ff"/>
<circle cx="630.32" cy="513.20" r="2.6" fill="#ff00ff"/>
<circle cx="644.50" cy="503.80" r="2.6" fill="#ff00ff"/>
<line x1="527.51" y1="561.40" x2="644.50" y2="510.60" stroke="#383838" stroke-width="1.0" stroke-dasharray="5.2 3.6"/>
<path d="M192.50 707.00V847.00H327.90" fill="none" stroke="#222" stroke-width="1"/>
<path d="M192.50 707.00h1.8 M192.50 742.00h1.8 M192.50 777.00h1.8 M192.50 812.00h1.8 M192.50 847.00h1.8 M192.50 847.00v-1.8 M226.35 847.00v-1.8 M260.20 847.00v-1.8 M294.05 847.00v-1.8 M327.90 847.00v-1.8" stroke="#222" stroke-width="1"/>
<text x="173.71" y="710.40" font-size="11" font-weight="normal" font-style="normal" fill="#1a1a1a" stroke="#1a1a1a" stroke-width="0.22" >1</text>
<text x="169.24" y="745.40" font-size="11" font-weight="normal" font-style="normal" fill="#1a1a1a" stroke="#1a1a1a" stroke-width="0.22" >0.5</text>
<text x="173.84" y="780.40" font-size="11" font-weight="normal" font-style="normal" fill="#1a1a1a" stroke="#1a1a1a" stroke-width="0.22" >0</text>
<text x="167.40" y="815.40" font-size="11" font-weight="normal" font-style="normal" fill="#1a1a1a" stroke="#1a1a1a" stroke-width="0.22" >-0.5</text>
<text x="172.03" y="850.40" font-size="11" font-weight="normal" font-style="normal" fill="#1a1a1a" stroke="#1a1a1a" stroke-width="0.22" >-1</text>
<text x="189.44" y="861.20" font-size="11" font-weight="normal" font-style="normal" fill="#1a1a1a" stroke="#1a1a1a" stroke-width="0.22" >2</text>
<text x="223.32" y="861.20" font-size="11" font-weight="normal" font-style="normal" fill="#1a1a1a" stroke="#1a1a1a" stroke-width="0.22" >3</text>
<text x="257.17" y="861.20" font-size="11" font-weight="normal" font-style="normal" fill="#1a1a1a" stroke="#1a1a1a" stroke-width="0.22" >4</text>
<text x="290.99" y="861.20" font-size="11" font-weight="normal" font-style="normal" fill="#1a1a1a" stroke="#1a1a1a" stroke-width="0.22" >5</text>
<text x="324.81" y="861.20" font-size="11" font-weight="normal" font-style="normal" fill="#1a1a1a" stroke="#1a1a1a" stroke-width="0.22" >6</text>
<text x="151.76" y="675.30" font-size="20.5" font-weight="bold" font-style="normal" fill="#0d0d0d" >h)</text>
<text x="185.40" y="688.30" font-size="11.4" font-weight="normal" font-style="italic" fill="#333" stroke="#333" stroke-width="0.22" >(a.u.)</text>
<text x="225.44" y="699.40" font-size="13" font-weight="normal" font-style="normal" fill="#1a1a1a" stroke="#1a1a1a" stroke-width="0.22" >L EBA cluster</text>
<text x="276.02" y="832.30" font-size="13" font-weight="normal" font-style="normal" fill="#1a1a1a" stroke="#1a1a1a" stroke-width="0.22" >r = 0.76</text>
<text x="216.88" y="875.40" font-size="13" font-weight="normal" font-style="normal" fill="#1a1a1a" stroke="#1a1a1a" stroke-width="0.22" >CMI test score</text>
<text transform="translate(146.74 856.88) rotate(-90)" font-size="13" fill="#1a1a1a" stroke="#1a1a1a" stroke-width="0.22">Imagery-related connectivity</text>
<text transform="translate(160.24 819.06) rotate(-90)" font-size="13" fill="#1a1a1a" stroke="#1a1a1a" stroke-width="0.22">(CMI vs. count)</text>
<circle cx="216.19" cy="809.20" r="2.6" fill="#00f0f0"/>
<circle cx="226.35" cy="796.25" r="2.6" fill="#00f0f0"/>
<circle cx="233.12" cy="784.35" r="2.6" fill="#00f0f0"/>
<circle cx="239.89" cy="776.65" r="2.6" fill="#00f0f0"/>
<circle cx="243.28" cy="772.45" r="2.6" fill="#00f0f0"/>
<circle cx="253.43" cy="779.80" r="2.6" fill="#00f0f0"/>
<circle cx="256.81" cy="774.20" r="2.6" fill="#00f0f0"/>
<circle cx="260.20" cy="791.00" r="2.6" fill="#00f0f0"/>
<circle cx="263.58" cy="769.30" r="2.6" fill="#00f0f0"/>
<circle cx="266.97" cy="776.65" r="2.6" fill="#00f0f0"/>
<circle cx="273.74" cy="766.50" r="2.6" fill="#00f0f0"/>
<circle cx="273.74" cy="768.60" r="2.6" fill="#00f0f0"/>
<circle cx="277.12" cy="763.35" r="2.6" fill="#00f0f0"/>
<circle cx="277.12" cy="768.60" r="2.6" fill="#00f0f0"/>
<circle cx="280.51" cy="762.30" r="2.6" fill="#00f0f0"/>
<circle cx="280.51" cy="775.60" r="2.6" fill="#00f0f0"/>
<circle cx="283.89" cy="771.05" r="2.6" fill="#00f0f0"/>
<circle cx="283.89" cy="778.40" r="2.6" fill="#00f0f0"/>
<circle cx="300.82" cy="756.70" r="2.6" fill="#00f0f0"/>
<circle cx="300.82" cy="765.80" r="2.6" fill="#00f0f0"/>
<circle cx="300.82" cy="771.40" r="2.6" fill="#00f0f0"/>
<circle cx="300.82" cy="778.75" r="2.6" fill="#00f0f0"/>
<circle cx="307.59" cy="749.00" r="2.6" fill="#00f0f0"/>
<circle cx="314.36" cy="769.30" r="2.6" fill="#00f0f0"/>
<circle cx="327.90" cy="756.00" r="2.6" fill="#00f0f0"/>
<line x1="216.19" y1="793.45" x2="327.90" y2="754.60" stroke="#383838" stroke-width="1.0" stroke-dasharray="5.2 3.6"/>
<path d="M413.60 707.00V847.00H548.60" fill="none" stroke="#222" stroke-width="1"/>
<path d="M413.60 707.00h1.8 M413.60 742.00h1.8 M413.60 777.00h1.8 M413.60 812.00h1.8 M413.60 847.00h1.8 M413.60 847.00v-1.8 M447.35 847.00v-1.8 M481.10 847.00v-1.8 M514.85 847.00v-1.8 M548.60 847.00v-1.8" stroke="#222" stroke-width="1"/>
<text x="397.81" y="712.10" font-size="11" font-weight="normal" font-style="normal" fill="#1a1a1a" stroke="#1a1a1a" stroke-width="0.22" >1</text>
<text x="393.34" y="747.10" font-size="11" font-weight="normal" font-style="normal" fill="#1a1a1a" stroke="#1a1a1a" stroke-width="0.22" >0.5</text>
<text x="397.94" y="782.10" font-size="11" font-weight="normal" font-style="normal" fill="#1a1a1a" stroke="#1a1a1a" stroke-width="0.22" >0</text>
<text x="391.50" y="817.10" font-size="11" font-weight="normal" font-style="normal" fill="#1a1a1a" stroke="#1a1a1a" stroke-width="0.22" >-0.5</text>
<text x="396.12" y="852.10" font-size="11" font-weight="normal" font-style="normal" fill="#1a1a1a" stroke="#1a1a1a" stroke-width="0.22" >-1</text>
<text x="410.54" y="861.20" font-size="11" font-weight="normal" font-style="normal" fill="#1a1a1a" stroke="#1a1a1a" stroke-width="0.22" >2</text>
<text x="444.32" y="861.20" font-size="11" font-weight="normal" font-style="normal" fill="#1a1a1a" stroke="#1a1a1a" stroke-width="0.22" >3</text>
<text x="478.07" y="861.20" font-size="11" font-weight="normal" font-style="normal" fill="#1a1a1a" stroke="#1a1a1a" stroke-width="0.22" >4</text>
<text x="511.79" y="861.20" font-size="11" font-weight="normal" font-style="normal" fill="#1a1a1a" stroke="#1a1a1a" stroke-width="0.22" >5</text>
<text x="545.51" y="861.20" font-size="11" font-weight="normal" font-style="normal" fill="#1a1a1a" stroke="#1a1a1a" stroke-width="0.22" >6</text>
<text x="367.26" y="673.90" font-size="20.5" font-weight="bold" font-style="normal" fill="#0d0d0d" >i)</text>
<text x="389.30" y="687.40" font-size="11.4" font-weight="normal" font-style="italic" fill="#333" stroke="#333" stroke-width="0.22" >(a.u.)</text>
<text x="441.94" y="699.20" font-size="13" font-weight="normal" font-style="normal" fill="#1a1a1a" stroke="#1a1a1a" stroke-width="0.22" >R EBA cluster</text>
<text x="504.93" y="834.50" font-size="13" font-weight="normal" font-style="normal" fill="#1a1a1a" stroke="#1a1a1a" stroke-width="0.22" >r = 0.51</text>
<text x="439.27" y="875.40" font-size="13" font-weight="normal" font-style="normal" fill="#1a1a1a" stroke="#1a1a1a" stroke-width="0.22" >CMI test score</text>
<circle cx="437.23" cy="819.00" r="2.6" fill="#00f0f0"/>
<circle cx="447.35" cy="809.90" r="2.6" fill="#00f0f0"/>
<circle cx="454.10" cy="786.10" r="2.6" fill="#00f0f0"/>
<circle cx="460.85" cy="775.60" r="2.6" fill="#00f0f0"/>
<circle cx="464.23" cy="764.40" r="2.6" fill="#00f0f0"/>
<circle cx="474.35" cy="754.60" r="2.6" fill="#00f0f0"/>
<circle cx="477.73" cy="765.10" r="2.6" fill="#00f0f0"/>
<circle cx="481.10" cy="796.60" r="2.6" fill="#00f0f0"/>
<circle cx="484.48" cy="777.35" r="2.6" fill="#00f0f0"/>
<circle cx="487.85" cy="758.80" r="2.6" fill="#00f0f0"/>
<circle cx="487.85" cy="771.05" r="2.6" fill="#00f0f0"/>
<circle cx="494.60" cy="775.60" r="2.6" fill="#00f0f0"/>
<circle cx="494.60" cy="790.30" r="2.6" fill="#00f0f0"/>
<circle cx="497.98" cy="760.90" r="2.6" fill="#00f0f0"/>
<circle cx="497.98" cy="773.85" r="2.6" fill="#00f0f0"/>
<circle cx="501.35" cy="757.40" r="2.6" fill="#00f0f0"/>
<circle cx="501.35" cy="768.95" r="2.6" fill="#00f0f0"/>
<circle cx="501.35" cy="782.60" r="2.6" fill="#00f0f0"/>
<circle cx="504.73" cy="772.80" r="2.6" fill="#00f0f0"/>
<circle cx="504.73" cy="775.60" r="2.6" fill="#00f0f0"/>
<circle cx="521.60" cy="761.95" r="2.6" fill="#00f0f0"/>
<circle cx="521.60" cy="765.80" r="2.6" fill="#00f0f0"/>
<circle cx="521.60" cy="780.50" r="2.6" fill="#00f0f0"/>
<circle cx="521.60" cy="797.30" r="2.6" fill="#00f0f0"/>
<circle cx="528.35" cy="735.70" r="2.6" fill="#00f0f0"/>
<circle cx="535.10" cy="763.35" r="2.6" fill="#00f0f0"/>
<circle cx="548.60" cy="766.50" r="2.6" fill="#00f0f0"/>
<line x1="437.23" y1="793.45" x2="548.60" y2="756.70" stroke="#383838" stroke-width="1.0" stroke-dasharray="5.2 3.6"/>

</svg>
</body></html>
